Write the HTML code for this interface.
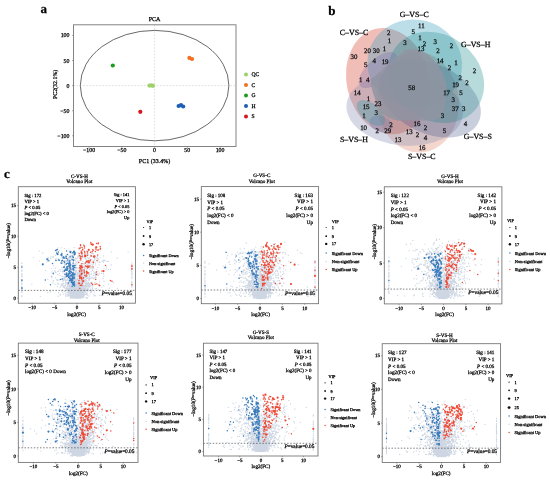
<!DOCTYPE html>
<html><head><meta charset="utf-8"><style>
html,body{margin:0;padding:0;background:#fff;}
svg{display:block;}
text{stroke:#000;stroke-width:0.25;text-rendering:geometricPrecision;}
</style></head><body>
<svg width="550" height="481" viewBox="0 0 550 481" font-family="Liberation Serif">
<defs><filter id="bl" x="0" y="0" width="550" height="481" filterUnits="userSpaceOnUse"><feGaussianBlur stdDeviation="0.3"/></filter></defs>
<rect width="550" height="481" fill="#fff"/>
<g filter="url(#bl)">
<text x="3.9" y="177.7" font-family="Liberation Serif" font-weight="bold" font-size="13">c</text>
<text x="40.6" y="12.6" font-family="Liberation Serif" font-weight="bold" font-size="13">a</text>
<text x="154.5" y="21" font-family="Liberation Serif" font-size="6" text-anchor="middle">PCA</text>
<line x1="73.5" y1="85.6" x2="236" y2="85.6" stroke="#c8c8c8" stroke-width="0.6" stroke-dasharray="1.6 1.6"/>
<line x1="154.6" y1="24.8" x2="154.6" y2="146.5" stroke="#c8c8c8" stroke-width="0.6" stroke-dasharray="1.6 1.6"/>
<ellipse cx="154.6" cy="85.6" rx="74.3" ry="55.2" fill="none" stroke="#444" stroke-width="0.8"/>
<rect x="73.5" y="24.8" width="162.5" height="121.7" fill="none" stroke="#777" stroke-width="0.9"/>
<line x1="89.1" y1="146.5" x2="89.1" y2="148.0" stroke="#777" stroke-width="0.6"/>
<text x="89.1" y="152.4" font-family="Liberation Serif" font-size="5.9" text-anchor="middle">−100</text>
<line x1="72.0" y1="135.8" x2="73.5" y2="135.8" stroke="#777" stroke-width="0.6"/>
<text x="69.5" y="137.8" font-family="Liberation Serif" font-size="5.9" text-anchor="end">−100</text>
<line x1="121.8" y1="146.5" x2="121.8" y2="148.0" stroke="#777" stroke-width="0.6"/>
<text x="121.8" y="152.4" font-family="Liberation Serif" font-size="5.9" text-anchor="middle">−50</text>
<line x1="72.0" y1="110.7" x2="73.5" y2="110.7" stroke="#777" stroke-width="0.6"/>
<text x="69.5" y="112.7" font-family="Liberation Serif" font-size="5.9" text-anchor="end">−50</text>
<line x1="154.6" y1="146.5" x2="154.6" y2="148.0" stroke="#777" stroke-width="0.6"/>
<text x="154.6" y="152.4" font-family="Liberation Serif" font-size="5.9" text-anchor="middle">0</text>
<line x1="72.0" y1="85.6" x2="73.5" y2="85.6" stroke="#777" stroke-width="0.6"/>
<text x="69.5" y="87.6" font-family="Liberation Serif" font-size="5.9" text-anchor="end">0</text>
<line x1="187.3" y1="146.5" x2="187.3" y2="148.0" stroke="#777" stroke-width="0.6"/>
<text x="187.3" y="152.4" font-family="Liberation Serif" font-size="5.9" text-anchor="middle">50</text>
<line x1="72.0" y1="60.5" x2="73.5" y2="60.5" stroke="#777" stroke-width="0.6"/>
<text x="69.5" y="62.5" font-family="Liberation Serif" font-size="5.9" text-anchor="end">50</text>
<line x1="220.1" y1="146.5" x2="220.1" y2="148.0" stroke="#777" stroke-width="0.6"/>
<text x="220.1" y="152.4" font-family="Liberation Serif" font-size="5.9" text-anchor="middle">100</text>
<line x1="72.0" y1="35.4" x2="73.5" y2="35.4" stroke="#777" stroke-width="0.6"/>
<text x="69.5" y="37.4" font-family="Liberation Serif" font-size="5.9" text-anchor="end">100</text>
<text x="154.5" text-anchor="middle" y="162.6" font-family="Liberation Serif" font-size="6">PC1 (33.4%)</text>
<text transform="translate(57.2,84.4) rotate(-90)" font-family="Liberation Serif" font-size="5.9" text-anchor="middle">PC2(32.1%)</text>
<circle cx="149.5" cy="85.6" r="2.1" fill="#9fd16a"/>
<circle cx="151.5" cy="85.4" r="2.1" fill="#9fd16a"/>
<circle cx="153" cy="85.8" r="2.1" fill="#9fd16a"/>
<circle cx="189.4" cy="57.9" r="2.1" fill="#f36f21"/>
<circle cx="192" cy="59" r="2.1" fill="#f36f21"/>
<circle cx="112.8" cy="65.5" r="2.1" fill="#1f9a1f"/>
<circle cx="178.6" cy="106" r="2.1" fill="#1e5fb4"/>
<circle cx="181" cy="105.2" r="2.1" fill="#1e5fb4"/>
<circle cx="183.2" cy="106.5" r="2.1" fill="#1e5fb4"/>
<circle cx="140.3" cy="111.8" r="2.1" fill="#d5151f"/>
<circle cx="246" cy="74.4" r="2" fill="#9fd16a"/>
<text x="251.5" y="76.30000000000001" font-family="Liberation Serif" font-size="5.6">QC</text>
<circle cx="246" cy="84.9" r="2" fill="#f36f21"/>
<text x="251.5" y="86.80000000000001" font-family="Liberation Serif" font-size="5.6">C</text>
<circle cx="246" cy="95.4" r="2" fill="#1f9a1f"/>
<text x="251.5" y="97.30000000000001" font-family="Liberation Serif" font-size="5.6">G</text>
<circle cx="246" cy="105.9" r="2" fill="#1e5fb4"/>
<text x="251.5" y="107.80000000000001" font-family="Liberation Serif" font-size="5.6">H</text>
<circle cx="246" cy="116.4" r="2" fill="#d5151f"/>
<text x="251.5" y="118.30000000000001" font-family="Liberation Serif" font-size="5.6">S</text>
<text x="328.2" y="15.4" font-family="Liberation Serif" font-weight="bold" font-size="13">b</text>
<ellipse cx="417.9" cy="102.3" rx="50.3" ry="41.2" transform="rotate(86 417.9 102.3)" fill="rgb(238,145,112)" fill-opacity="0.32"/>
<ellipse cx="387.9" cy="81.1" rx="53.7" ry="41.2" transform="rotate(77 387.9 81.1)" fill="rgb(228,65,52)" fill-opacity="0.32"/>
<ellipse cx="414.7" cy="63.8" rx="47.5" ry="44.2" transform="rotate(10 414.7 63.8)" fill="rgb(58,172,205)" fill-opacity="0.32"/>
<ellipse cx="404.6" cy="109.6" rx="58.3" ry="36.0" transform="rotate(5 404.6 109.6)" fill="rgb(145,152,192)" fill-opacity="0.32"/>
<ellipse cx="429.8" cy="98.4" rx="54.2" ry="34.7" transform="rotate(26 429.8 98.4)" fill="rgb(98,115,165)" fill-opacity="0.32"/>
<ellipse cx="436.2" cy="77.4" rx="50.7" ry="42.6" transform="rotate(37 436.2 77.4)" fill="rgb(50,160,158)" fill-opacity="0.32"/>
<ellipse cx="417.9" cy="102.3" rx="50.3" ry="41.2" transform="rotate(86 417.9 102.3)" fill="#000" fill-opacity="0.025"/>
<ellipse cx="387.9" cy="81.1" rx="53.7" ry="41.2" transform="rotate(77 387.9 81.1)" fill="#000" fill-opacity="0.025"/>
<ellipse cx="414.7" cy="63.8" rx="47.5" ry="44.2" transform="rotate(10 414.7 63.8)" fill="#000" fill-opacity="0.025"/>
<ellipse cx="404.6" cy="109.6" rx="58.3" ry="36.0" transform="rotate(5 404.6 109.6)" fill="#000" fill-opacity="0.025"/>
<ellipse cx="429.8" cy="98.4" rx="54.2" ry="34.7" transform="rotate(26 429.8 98.4)" fill="#000" fill-opacity="0.025"/>
<ellipse cx="436.2" cy="77.4" rx="50.7" ry="42.6" transform="rotate(37 436.2 77.4)" fill="#000" fill-opacity="0.025"/>
<ellipse cx="371" cy="113" rx="17" ry="9" transform="rotate(40 371 113)" fill="rgb(50,160,170)" fill-opacity="0.35"/>
<ellipse cx="381" cy="124" rx="12" ry="8" transform="rotate(20 381 124)" fill="rgb(98,115,165)" fill-opacity="0.3"/>
<ellipse cx="378" cy="70" rx="24" ry="11" transform="rotate(-42 378 70)" fill="rgb(120,110,170)" fill-opacity="0.3"/>
<path d="M405 50 Q418 47 429 55 Q439 64 444 77 Q448 87 446 96 Q445 108 442 115 Q437 121 429 120.5 L397 120.5 Q388 119 382 113 Q374 100 371 85 Q370 80 375 76 Z" fill="rgb(146,149,162)" fill-opacity="0.85"/>
<text x="354" y="34.5" font-family="Liberation Serif" font-size="7.9" text-anchor="middle">C–VS–C</text>
<text x="414.2" y="17" font-family="Liberation Serif" font-size="7.9" text-anchor="middle">G–VS–C</text>
<text x="475.7" y="47" font-family="Liberation Serif" font-size="7.9" text-anchor="middle">G–VS–H</text>
<text x="477.8" y="138.5" font-family="Liberation Serif" font-size="7.9" text-anchor="middle">G–VS–S</text>
<text x="421.8" y="158.5" font-family="Liberation Serif" font-size="7.9" text-anchor="middle">S–VS–C</text>
<text x="354" y="142.3" font-family="Liberation Serif" font-size="7.9" text-anchor="middle">S–VS–H</text>
<text x="411.8" y="89.7" font-family="Liberation Serif" font-size="6.9" text-anchor="middle" fill="#222">58</text>
<text x="421.3" y="27.9" font-family="Liberation Serif" font-size="6.9" text-anchor="middle" fill="#222">11</text>
<text x="413.2" y="33.7" font-family="Liberation Serif" font-size="6.9" text-anchor="middle" fill="#222">5</text>
<text x="420" y="40.2" font-family="Liberation Serif" font-size="6.9" text-anchor="middle" fill="#222">1</text>
<text x="405" y="44.6" font-family="Liberation Serif" font-size="6.9" text-anchor="middle" fill="#222">3</text>
<text x="424.5" y="45.5" font-family="Liberation Serif" font-size="6.9" text-anchor="middle" fill="#222">2</text>
<text x="421" y="50.9" font-family="Liberation Serif" font-size="6.9" text-anchor="middle" fill="#222">13</text>
<text x="435.2" y="44.3" font-family="Liberation Serif" font-size="6.9" text-anchor="middle" fill="#222">3</text>
<text x="438" y="52.5" font-family="Liberation Serif" font-size="6.9" text-anchor="middle" fill="#222">2</text>
<text x="451.6" y="48.4" font-family="Liberation Serif" font-size="6.9" text-anchor="middle" fill="#222">2</text>
<text x="440.1" y="63.1" font-family="Liberation Serif" font-size="6.9" text-anchor="middle" fill="#222">14</text>
<text x="449.6" y="69.7" font-family="Liberation Serif" font-size="6.9" text-anchor="middle" fill="#222">2</text>
<text x="456.1" y="65.1" font-family="Liberation Serif" font-size="6.9" text-anchor="middle" fill="#222">1</text>
<text x="474.5" y="72.9" font-family="Liberation Serif" font-size="6.9" text-anchor="middle" fill="#222">2</text>
<text x="460.2" y="79.5" font-family="Liberation Serif" font-size="6.9" text-anchor="middle" fill="#222">2</text>
<text x="467.1" y="85.4" font-family="Liberation Serif" font-size="6.9" text-anchor="middle" fill="#222">2</text>
<text x="455.6" y="87.1" font-family="Liberation Serif" font-size="6.9" text-anchor="middle" fill="#222">19</text>
<text x="446.6" y="94.6" font-family="Liberation Serif" font-size="6.9" text-anchor="middle" fill="#222">17</text>
<text x="461" y="94.6" font-family="Liberation Serif" font-size="6.9" text-anchor="middle" fill="#222">5</text>
<text x="453.2" y="101.9" font-family="Liberation Serif" font-size="6.9" text-anchor="middle" fill="#222">3</text>
<text x="455.3" y="110.5" font-family="Liberation Serif" font-size="6.9" text-anchor="middle" fill="#222">37</text>
<text x="463.8" y="110.5" font-family="Liberation Serif" font-size="6.9" text-anchor="middle" fill="#222">3</text>
<text x="442.6" y="117.5" font-family="Liberation Serif" font-size="6.9" text-anchor="middle" fill="#222">3</text>
<text x="465.5" y="126.2" font-family="Liberation Serif" font-size="6.9" text-anchor="middle" fill="#222">4</text>
<text x="417" y="126.2" font-family="Liberation Serif" font-size="6.9" text-anchor="middle" fill="#222">16</text>
<text x="425.4" y="129.8" font-family="Liberation Serif" font-size="6.9" text-anchor="middle" fill="#222">2</text>
<text x="444.5" y="133.0" font-family="Liberation Serif" font-size="6.9" text-anchor="middle" fill="#222">5</text>
<text x="409.3" y="133.9" font-family="Liberation Serif" font-size="6.9" text-anchor="middle" fill="#222">13</text>
<text x="417.5" y="137.3" font-family="Liberation Serif" font-size="6.9" text-anchor="middle" fill="#222">2</text>
<text x="425.4" y="140.4" font-family="Liberation Serif" font-size="6.9" text-anchor="middle" fill="#222">4</text>
<text x="422.1" y="150.2" font-family="Liberation Serif" font-size="6.9" text-anchor="middle" fill="#222">16</text>
<text x="357.2" y="95.4" font-family="Liberation Serif" font-size="6.9" text-anchor="middle" fill="#222">14</text>
<text x="368.6" y="101.1" font-family="Liberation Serif" font-size="6.9" text-anchor="middle" fill="#222">1</text>
<text x="377.9" y="106.0" font-family="Liberation Serif" font-size="6.9" text-anchor="middle" fill="#222">23</text>
<text x="366.1" y="109.3" font-family="Liberation Serif" font-size="6.9" text-anchor="middle" fill="#222">15</text>
<text x="376.2" y="115.0" font-family="Liberation Serif" font-size="6.9" text-anchor="middle" fill="#222">3</text>
<text x="364.1" y="117.5" font-family="Liberation Serif" font-size="6.9" text-anchor="middle" fill="#222">1</text>
<text x="363.6" y="129.8" font-family="Liberation Serif" font-size="6.9" text-anchor="middle" fill="#222">10</text>
<text x="377.2" y="132.7" font-family="Liberation Serif" font-size="6.9" text-anchor="middle" fill="#222">2</text>
<text x="387.7" y="133.4" font-family="Liberation Serif" font-size="6.9" text-anchor="middle" fill="#222">29</text>
<text x="391" y="127.3" font-family="Liberation Serif" font-size="6.9" text-anchor="middle" fill="#222">2</text>
<text x="398" y="142.0" font-family="Liberation Serif" font-size="6.9" text-anchor="middle" fill="#222">13</text>
<text x="388.7" y="35.3" font-family="Liberation Serif" font-size="6.9" text-anchor="middle" fill="#222">2</text>
<text x="389.5" y="43.3" font-family="Liberation Serif" font-size="6.9" text-anchor="middle" fill="#222">1</text>
<text x="367.5" y="53.2" font-family="Liberation Serif" font-size="6.9" text-anchor="middle" fill="#222">20</text>
<text x="376.3" y="53.0" font-family="Liberation Serif" font-size="6.9" text-anchor="middle" fill="#222">30</text>
<text x="384.4" y="51.4" font-family="Liberation Serif" font-size="6.9" text-anchor="middle" fill="#222">1</text>
<text x="354" y="58.6" font-family="Liberation Serif" font-size="6.9" text-anchor="middle" fill="#222">30</text>
<text x="365.7" y="66.8" font-family="Liberation Serif" font-size="6.9" text-anchor="middle" fill="#222">5</text>
<text x="374.3" y="63.1" font-family="Liberation Serif" font-size="6.9" text-anchor="middle" fill="#222">4</text>
<text x="385.1" y="64.3" font-family="Liberation Serif" font-size="6.9" text-anchor="middle" fill="#222">19</text>
<text x="360.7" y="81.9" font-family="Liberation Serif" font-size="6.9" text-anchor="middle" fill="#222">1</text>
<text x="367.8" y="81.9" font-family="Liberation Serif" font-size="6.9" text-anchor="middle" fill="#222">4</text>
<text x="79.4" y="177.5" font-size="5.1" text-anchor="middle">C-VS-H</text>
<text x="79.4" y="183.2" font-size="5.1" text-anchor="middle">Volcano Plot</text>
<path d="M77.2 292.1h0M70.1 280.5h0M79.2 272.5h0M78.0 282.4h0M78.1 289.3h0M76.3 296.0h0M81.0 289.7h0M78.0 282.7h0M78.2 289.2h0M92.3 252.0h0M99.3 273.1h0M76.4 292.5h0M89.7 267.2h0M71.1 253.4h0M86.5 287.1h0M65.1 280.1h0M78.1 295.6h0M71.5 290.9h0M67.2 268.7h0M83.8 279.9h0M74.6 279.4h0M77.0 295.2h0M55.1 284.2h0M76.3 262.1h0M67.9 279.7h0M73.6 288.1h0M94.5 260.5h0M61.6 256.9h0M95.6 277.5h0M83.9 277.1h0M71.7 280.1h0M83.8 278.6h0M84.5 274.9h0M77.6 290.8h0M84.5 246.8h0M65.9 288.5h0M78.9 271.0h0M77.2 263.8h0M75.9 292.9h0M78.6 291.3h0M75.5 291.1h0M69.5 286.5h0M74.7 296.1h0M78.4 292.9h0M63.7 279.9h0M71.0 291.7h0M74.0 291.3h0M70.2 289.6h0M80.3 258.6h0M87.9 284.2h0M82.3 286.6h0M79.0 287.0h0M76.6 286.9h0M62.2 255.3h0M95.1 277.1h0M51.5 268.6h0M80.0 284.8h0M88.6 282.9h0M75.3 293.0h0M84.7 286.4h0M86.9 290.1h0M75.9 286.0h0M86.9 270.9h0M73.6 280.9h0M80.1 289.1h0M81.3 263.4h0M83.4 286.0h0M71.7 292.1h0M78.9 294.1h0M63.9 286.0h0M67.8 260.7h0M75.5 293.8h0M77.4 287.9h0M75.2 271.2h0M80.4 292.7h0M77.8 292.7h0M87.7 288.9h0M86.8 284.7h0M84.2 288.6h0M85.8 275.7h0M92.4 286.8h0M68.8 289.7h0M76.0 269.9h0M85.4 287.0h0M81.9 293.8h0M75.6 272.4h0M71.6 287.0h0M89.4 286.2h0M77.0 276.7h0M78.1 288.9h0M89.2 278.0h0M81.2 287.5h0M82.8 280.6h0M90.7 261.5h0M80.4 292.9h0M74.1 286.7h0M89.6 257.7h0M59.6 269.8h0M74.3 282.9h0M67.9 288.6h0M83.2 278.1h0M70.1 284.2h0M73.2 272.8h0M75.8 285.5h0M79.3 292.4h0M70.0 284.0h0M70.9 279.0h0M66.3 270.0h0M72.6 289.0h0M77.6 283.6h0M79.3 288.0h0M77.9 279.8h0M80.3 291.3h0M69.7 269.6h0M76.0 285.0h0M57.9 248.0h0M78.3 290.8h0M92.4 270.4h0M82.8 285.7h0M82.6 295.3h0M73.5 257.1h0M108.1 261.5h0M51.9 271.9h0M87.8 257.9h0M85.2 291.2h0M93.3 275.5h0M77.0 292.6h0M90.5 282.7h0M80.7 274.0h0M73.1 287.7h0M76.8 288.0h0M98.4 259.5h0M78.3 280.7h0M67.1 284.6h0M82.8 292.9h0M87.7 278.3h0M87.8 263.2h0M85.8 277.0h0M76.5 280.2h0M76.8 282.5h0M79.0 287.1h0M63.8 280.6h0M82.9 284.8h0M77.1 275.7h0M92.6 253.5h0M75.6 265.0h0M70.8 287.0h0M70.5 284.4h0M65.9 283.8h0M69.6 280.6h0M69.0 273.2h0M68.7 273.9h0M84.6 250.2h0M67.9 285.7h0M69.8 268.3h0M74.7 252.9h0M62.8 281.6h0M76.0 283.2h0M73.5 280.0h0M65.2 269.8h0M80.4 289.9h0M74.6 294.0h0M61.8 279.3h0M76.3 291.1h0M74.7 267.9h0M85.1 289.2h0M80.2 291.0h0M72.9 289.5h0M103.9 268.4h0M81.4 274.3h0M78.1 282.9h0M69.9 274.1h0M71.2 275.2h0M76.4 292.0h0M77.6 285.3h0M97.8 267.4h0M74.7 293.0h0M77.0 290.5h0M77.5 275.7h0M80.2 268.7h0M85.0 285.9h0M81.8 293.3h0M80.1 280.5h0M85.9 255.2h0M74.9 276.6h0M67.8 275.9h0M71.0 258.7h0M85.9 276.6h0M77.1 284.0h0M73.9 291.8h0M80.2 294.6h0M88.4 251.5h0M78.2 288.0h0M78.3 273.4h0M70.5 270.0h0M67.5 273.8h0M101.5 273.1h0M85.8 276.1h0M73.2 275.3h0M76.5 285.6h0M69.4 290.2h0M85.7 267.8h0M76.5 267.2h0M91.4 291.6h0M82.8 248.4h0M78.9 256.3h0M85.8 285.0h0M79.4 282.5h0M78.2 284.2h0M75.5 279.2h0M76.5 295.6h0M72.5 292.2h0M72.0 257.3h0M83.0 288.8h0M80.6 286.3h0M51.9 276.4h0M95.2 272.4h0M75.2 252.5h0M80.8 278.7h0M73.0 291.4h0M70.1 279.4h0M81.3 295.2h0M73.7 272.5h0M83.1 286.4h0M88.7 280.2h0M89.3 286.4h0M67.2 294.2h0M80.9 255.9h0M62.7 292.1h0M56.6 260.5h0M95.7 264.8h0M72.9 283.9h0M74.2 291.1h0M67.6 283.6h0M73.7 294.9h0M75.8 292.9h0M80.7 273.7h0M79.5 249.3h0M82.1 290.9h0M78.8 249.9h0M66.2 287.7h0M63.0 270.8h0M87.2 266.8h0M76.8 290.1h0M62.5 262.2h0M77.7 276.4h0M76.7 290.4h0M76.4 292.5h0M64.5 277.0h0M74.1 255.4h0M74.5 283.7h0M84.1 280.0h0M84.1 278.1h0M89.0 277.3h0M86.1 283.9h0M69.2 281.7h0M70.2 284.9h0M77.8 282.0h0M81.3 285.5h0M77.3 288.4h0M84.9 276.1h0M76.8 279.7h0M79.3 269.7h0M62.0 267.7h0M80.2 293.4h0M76.3 296.0h0M65.7 281.1h0M87.1 274.9h0M63.6 278.1h0M96.2 277.9h0M76.0 271.1h0M83.9 281.1h0M74.2 247.6h0M74.0 284.4h0M79.6 287.4h0M74.8 284.5h0M66.5 290.1h0M86.2 280.6h0M77.4 278.3h0M69.0 280.8h0M66.9 288.2h0M80.9 288.0h0M80.3 283.6h0M89.6 275.6h0M82.7 278.9h0M82.3 287.8h0M72.0 288.2h0M82.8 286.0h0M74.5 290.7h0M71.9 294.6h0M86.8 269.7h0M63.5 286.7h0M80.3 286.3h0M79.7 293.6h0M73.3 268.7h0M73.1 290.2h0M81.1 287.1h0M81.3 270.5h0M75.4 285.9h0M76.7 286.3h0M76.1 288.7h0M75.7 293.9h0M76.7 293.1h0M78.1 295.7h0M73.2 284.0h0M70.0 270.5h0M85.0 279.6h0M72.7 257.8h0M86.8 250.8h0M67.9 270.6h0M67.8 279.1h0M74.7 278.1h0M79.0 279.9h0M86.9 278.3h0M70.5 288.1h0M77.7 293.0h0M55.5 272.3h0M69.8 267.0h0M76.0 295.8h0M69.4 251.2h0M84.3 286.1h0M89.3 284.6h0M76.0 292.6h0M97.8 258.4h0M81.3 297.1h0M71.7 284.7h0M47.7 261.1h0M85.5 283.7h0M83.3 294.8h0M78.7 292.8h0M73.5 279.9h0M117.2 258.0h0M77.4 288.8h0M86.3 285.4h0M65.5 261.4h0M90.5 285.8h0M74.4 294.7h0M85.2 255.8h0M72.6 269.0h0M76.4 271.0h0M71.9 291.0h0M77.8 268.1h0M71.6 296.2h0M83.9 290.9h0M83.7 293.2h0M73.0 260.4h0M78.9 281.4h0M67.9 290.3h0M93.3 278.4h0M72.4 291.6h0M77.6 294.0h0M69.0 291.5h0M91.1 254.1h0M78.2 273.6h0M94.4 257.7h0M71.1 285.9h0M85.4 261.6h0M75.3 276.3h0M88.8 283.1h0M68.9 268.9h0M77.2 272.3h0M85.5 292.6h0M71.4 284.5h0M73.7 296.8h0M69.0 286.8h0M81.6 286.7h0M72.5 282.3h0M79.2 284.2h0M74.8 290.1h0M81.3 277.3h0M75.4 260.9h0M72.2 291.8h0M72.9 285.7h0M77.5 292.2h0M73.2 290.3h0M75.6 283.0h0M71.7 276.7h0M81.5 274.1h0M69.2 264.8h0M70.7 292.2h0M74.2 294.0h0M83.4 271.8h0M78.7 285.4h0M88.1 285.7h0M78.2 293.5h0M84.0 287.5h0M77.1 275.9h0M73.6 294.6h0M86.2 286.7h0M75.1 293.1h0M80.4 273.6h0M82.6 292.5h0M55.2 268.3h0M84.6 292.1h0M77.3 292.5h0M68.4 281.0h0M70.1 288.2h0M59.0 280.2h0M89.2 283.3h0M82.4 292.2h0M80.4 282.1h0M94.1 278.6h0M87.3 283.2h0M74.9 290.4h0M64.8 279.4h0M83.8 294.4h0M79.0 281.9h0M79.0 295.2h0M81.2 284.1h0M56.0 272.8h0M75.0 283.1h0M82.3 276.1h0M79.5 287.9h0M63.6 283.5h0M90.9 259.6h0M80.0 296.6h0M67.3 286.1h0M72.3 276.5h0M64.5 273.6h0M79.0 291.3h0M78.6 289.7h0M79.5 286.7h0M88.5 254.9h0M64.7 273.8h0M69.0 288.2h0M72.5 274.5h0M76.7 291.0h0M79.6 287.7h0M75.7 288.3h0M92.4 265.7h0M79.2 286.7h0M73.5 282.5h0M78.4 286.7h0M75.0 276.2h0M74.7 292.7h0M75.2 288.2h0M71.3 294.7h0M106.4 267.0h0M87.5 288.6h0M77.4 293.7h0M77.7 295.6h0M84.0 280.7h0M78.5 284.3h0M84.2 270.2h0M80.9 281.3h0M77.6 274.1h0M88.9 268.3h0M82.8 268.8h0M65.6 277.4h0M76.8 270.5h0M72.2 281.4h0M66.1 277.4h0M71.5 275.1h0M82.1 295.1h0M88.3 282.5h0M69.3 274.1h0M68.0 282.7h0M81.7 297.1h0M89.4 265.2h0M77.8 276.1h0M83.5 293.8h0M76.4 292.3h0M75.7 289.2h0M68.3 262.6h0M74.0 276.9h0M86.3 279.2h0M70.7 290.2h0M67.3 273.8h0M90.3 284.2h0M111.2 265.0h0M75.6 297.8h0M85.1 285.0h0M72.0 286.7h0M72.9 278.2h0M80.5 296.8h0M82.3 280.2h0M87.9 264.6h0M76.5 284.9h0M74.4 293.1h0M76.7 294.5h0M76.6 297.0h0M77.5 297.0h0M72.7 290.1h0M75.5 289.2h0M72.0 277.8h0M80.2 296.5h0M78.3 273.2h0M85.6 259.0h0M77.8 291.7h0M78.5 287.6h0M81.0 276.1h0M69.8 292.6h0M76.8 289.6h0M83.4 288.6h0M84.4 285.7h0M65.7 274.7h0M77.4 284.5h0M96.8 275.3h0M81.0 294.1h0M65.4 263.9h0M69.4 282.0h0M80.6 291.1h0M74.9 291.6h0M75.1 293.8h0M82.6 289.1h0M88.7 286.9h0M93.1 278.1h0M71.5 290.5h0M83.5 290.4h0M73.0 260.8h0M97.8 271.5h0M83.5 295.7h0M78.9 274.8h0M82.6 283.9h0M76.7 294.9h0M76.4 293.3h0M80.3 285.1h0M80.7 286.9h0M68.9 282.9h0M71.9 279.8h0M80.7 282.9h0M85.2 292.1h0M81.8 291.2h0M80.0 275.0h0M68.8 273.0h0M92.4 251.9h0M79.1 286.7h0M77.4 285.1h0M73.4 292.1h0M91.8 277.3h0M66.0 275.3h0M72.9 283.5h0M77.4 294.4h0M76.1 290.7h0M76.8 286.8h0M84.4 280.8h0M83.6 287.4h0M79.2 285.5h0M65.3 277.3h0M70.3 286.5h0M62.6 284.1h0M70.5 284.2h0M77.9 252.9h0M86.9 288.8h0M71.2 295.4h0M70.4 277.5h0M71.4 296.7h0M73.5 291.2h0M78.9 294.9h0M65.0 269.9h0M77.2 287.1h0M71.8 291.3h0M42.7 252.9h0M70.9 290.9h0M77.8 297.1h0M74.1 272.3h0M81.4 292.4h0M76.6 290.7h0M66.1 274.6h0M73.9 281.9h0M83.9 291.0h0M74.1 284.7h0M53.6 265.9h0M82.5 282.5h0M80.3 294.8h0M81.6 282.5h0M82.2 282.3h0M78.0 284.4h0M79.0 275.7h0M71.6 294.8h0M67.6 280.0h0M74.6 281.2h0M74.0 291.7h0M73.1 282.1h0M79.5 293.1h0M78.3 284.9h0M76.5 280.8h0M68.3 276.5h0M66.3 280.7h0M79.9 278.7h0M58.1 254.5h0M70.1 267.0h0M66.6 276.0h0M77.8 278.7h0M73.1 289.0h0M70.9 260.9h0M89.1 263.4h0M74.5 285.3h0M82.1 271.9h0M64.3 287.6h0M74.6 284.1h0M72.8 284.4h0M77.8 261.0h0M80.8 274.9h0M55.4 268.1h0M80.3 293.4h0M75.2 291.5h0M52.9 282.7h0M103.3 273.4h0M74.6 289.9h0M83.1 276.4h0M86.4 259.2h0M74.2 286.7h0M79.8 289.1h0M86.1 280.7h0M83.4 277.4h0M82.2 285.3h0M74.4 294.4h0M75.7 279.0h0M67.4 258.7h0M72.0 284.0h0M47.8 279.3h0M69.3 271.4h0M86.4 264.3h0M77.6 285.1h0M81.1 271.3h0M95.6 274.6h0M81.9 283.0h0M73.0 283.5h0M62.7 276.4h0M65.9 282.1h0M75.5 285.7h0M73.7 288.8h0M78.3 287.6h0M62.4 258.8h0M81.9 275.4h0M89.7 278.6h0M72.2 278.3h0M73.9 281.2h0M78.4 276.0h0M89.6 285.0h0M83.5 292.8h0M79.8 293.6h0M74.3 287.0h0M74.6 276.9h0M78.8 275.8h0M72.7 274.4h0M99.6 286.6h0M76.3 281.2h0M84.8 268.5h0M61.9 276.3h0M75.6 263.4h0M69.5 283.5h0M69.7 273.8h0M86.0 294.4h0M71.8 251.7h0M103.0 278.5h0M94.9 282.4h0M68.5 292.4h0M72.5 274.3h0M74.7 281.8h0M108.5 269.6h0M71.4 292.8h0M66.1 269.9h0M66.0 282.3h0M73.9 270.6h0M82.1 294.7h0M79.2 287.1h0M78.5 291.3h0M74.6 285.6h0M85.5 277.5h0M83.0 288.8h0M85.6 288.3h0M78.1 287.7h0M82.4 282.7h0M83.1 295.6h0M84.6 254.6h0M71.4 285.5h0M68.9 289.3h0M87.3 286.5h0M84.5 288.5h0M76.1 292.9h0M107.2 261.4h0M76.2 258.6h0M77.8 284.7h0M61.3 247.8h0M81.9 282.7h0M81.2 276.9h0M64.1 285.4h0M67.3 282.9h0M63.3 283.3h0M68.0 291.9h0M74.0 287.4h0M73.6 288.1h0M85.6 288.3h0M82.6 291.5h0M79.5 260.7h0M75.4 271.8h0M76.9 262.2h0M65.3 257.8h0M79.6 276.5h0M53.5 280.6h0M95.2 257.8h0M85.0 275.0h0M75.1 295.1h0M89.5 274.4h0M76.9 274.0h0M94.1 268.8h0M84.8 286.5h0M77.1 291.7h0M77.8 291.3h0M82.5 277.9h0M64.4 248.4h0M88.7 289.7h0M80.3 268.9h0M89.7 279.8h0M82.3 282.4h0M79.8 279.3h0M87.3 277.8h0M73.8 278.5h0M66.3 288.9h0M68.3 288.3h0M77.9 296.9h0M76.7 293.9h0M79.9 287.1h0M74.2 290.3h0M75.7 274.2h0M75.7 289.4h0M84.6 252.0h0M77.2 278.6h0M76.7 297.1h0M88.7 278.8h0M67.5 290.7h0M82.5 294.9h0M83.9 289.6h0M65.4 275.9h0M66.5 269.8h0M80.3 288.1h0M88.9 290.3h0M74.7 296.1h0M73.6 290.4h0M76.3 293.6h0M77.5 294.8h0M75.3 258.2h0M74.4 295.3h0M78.3 255.4h0M97.4 256.4h0M74.9 286.0h0M81.8 279.8h0M67.9 284.8h0M69.8 293.0h0M72.1 294.0h0M78.6 276.3h0M53.4 274.1h0M73.6 279.8h0M69.5 276.1h0M75.0 291.1h0M63.0 280.7h0M75.2 293.7h0M72.4 285.0h0M82.7 261.3h0M64.5 271.6h0M79.3 277.5h0M76.2 286.9h0M98.8 274.5h0M78.2 289.1h0M76.5 285.8h0M75.0 279.8h0M86.5 284.2h0M77.3 274.4h0M73.7 251.8h0M67.8 279.8h0M88.7 286.1h0M84.1 282.9h0M71.3 279.9h0M76.8 287.6h0M66.9 268.3h0M75.0 285.4h0M81.8 272.1h0M74.7 291.6h0M69.3 290.9h0M75.0 294.9h0M71.4 265.2h0M75.6 293.7h0M65.3 282.6h0M86.2 266.6h0M92.3 288.2h0M85.6 275.9h0M86.7 276.8h0M84.2 290.0h0M85.0 289.2h0M65.1 261.8h0M76.3 284.0h0M75.8 294.0h0M70.2 291.4h0M80.6 283.1h0M78.6 293.8h0M55.4 277.8h0M76.2 296.1h0M67.4 278.5h0M81.9 288.3h0M80.7 288.9h0M87.5 286.8h0M79.8 273.4h0M95.0 262.1h0M69.9 282.6h0M95.4 263.1h0M62.2 269.4h0M70.8 294.9h0M82.7 272.5h0M79.5 265.8h0M76.8 275.8h0M92.9 285.7h0M85.1 257.2h0M83.9 274.8h0M91.8 267.0h0M54.6 270.6h0M88.8 283.6h0M89.0 291.0h0M75.3 280.1h0M68.6 275.3h0M85.3 266.4h0M75.6 273.6h0M86.0 271.1h0M68.6 292.9h0M78.4 295.5h0M77.7 295.2h0M70.5 251.0h0M81.0 276.9h0M72.7 279.8h0M93.8 271.3h0M70.3 296.6h0M77.9 293.2h0M75.4 287.8h0M104.0 260.4h0M87.2 289.5h0M102.1 261.2h0M65.4 285.1h0M75.1 293.3h0M71.6 284.9h0M79.5 289.8h0M82.8 274.7h0M70.6 292.3h0M81.0 287.4h0M79.1 290.2h0M72.3 285.8h0M84.7 291.9h0M83.1 287.9h0M69.4 283.1h0M57.8 271.5h0M79.4 291.3h0M66.3 264.7h0M87.0 291.6h0M73.2 296.5h0M75.0 258.5h0M86.7 294.1h0M80.0 269.9h0M72.7 286.0h0M58.4 259.0h0M71.7 287.9h0M78.7 294.0h0M71.8 281.4h0M85.2 275.8h0M97.8 261.8h0M85.2 274.4h0M85.5 283.7h0M71.5 271.9h0M81.7 295.5h0M83.8 272.7h0M81.5 286.6h0M69.8 286.9h0M73.5 288.3h0M85.2 258.4h0M86.5 271.0h0M91.4 252.9h0M84.3 295.4h0M73.1 279.3h0M79.5 274.6h0M68.0 288.9h0M82.7 279.4h0M80.2 296.4h0M99.1 264.8h0M79.2 274.6h0M70.8 284.3h0M67.3 270.2h0M82.1 286.2h0M73.1 280.8h0M76.5 258.8h0M79.5 272.3h0M87.7 294.1h0M78.6 270.6h0M71.4 290.7h0M77.6 293.6h0M87.7 288.9h0M83.6 266.4h0M72.5 292.6h0M66.9 272.3h0M83.0 269.6h0M74.0 296.1h0M79.4 293.7h0M73.6 279.2h0M72.3 298.0h0M57.2 279.4h0M83.4 285.2h0M71.3 293.2h0M83.8 278.6h0M79.1 293.1h0M82.0 289.5h0M71.3 260.8h0M85.7 277.0h0M74.6 280.6h0M68.3 272.9h0M76.1 292.2h0M67.8 273.3h0M79.3 275.5h0M72.0 290.6h0M69.2 267.5h0M92.7 289.1h0M82.5 284.8h0M81.1 289.9h0M73.8 281.4h0M69.2 285.5h0M80.7 290.7h0M85.8 297.5h0M84.6 263.5h0M103.1 260.1h0M80.7 268.2h0M100.0 262.5h0M66.5 261.1h0M78.9 287.7h0M91.8 277.4h0M70.2 297.3h0M73.1 295.7h0M71.7 293.8h0M74.6 292.2h0M69.3 283.3h0M82.2 286.0h0M73.3 280.5h0M70.3 267.8h0M87.6 298.0h0M71.0 289.7h0M71.7 272.1h0M73.6 296.9h0M69.2 265.3h0M66.5 260.4h0M81.0 285.4h0M75.2 293.8h0M73.4 296.8h0M69.1 291.3h0M82.4 294.6h0M93.1 256.8h0M78.0 290.0h0M66.9 283.6h0M80.0 295.5h0M82.1 268.9h0M100.0 257.7h0M53.4 272.5h0M90.5 255.5h0M81.7 294.2h0M81.5 282.6h0M71.0 279.0h0M74.2 295.9h0M93.8 273.2h0M75.4 289.1h0M73.7 286.1h0M71.9 292.5h0M85.4 255.0h0M73.4 295.9h0M72.5 269.0h0M79.0 280.8h0M87.9 286.4h0M81.7 272.7h0M69.6 257.0h0M72.6 263.6h0M97.5 273.6h0M74.4 295.0h0M75.5 282.8h0M62.4 271.4h0M79.4 296.8h0M80.7 297.6h0M80.8 292.1h0M78.3 293.0h0M95.5 273.9h0M64.8 265.6h0M68.5 268.0h0M51.8 277.4h0M91.0 268.0h0M72.9 293.6h0M74.8 284.6h0M69.9 258.4h0M88.2 288.4h0M86.3 260.9h0M66.7 263.7h0M82.3 289.7h0M65.4 286.1h0M90.6 268.0h0M81.6 271.0h0M91.0 292.2h0M69.5 259.8h0M76.6 298.0h0M81.3 275.9h0M80.4 266.0h0M53.5 257.0h0M84.1 295.1h0M81.1 287.3h0M73.4 271.4h0M78.2 291.8h0M80.4 265.5h0M45.6 270.6h0M73.5 261.3h0M48.1 257.5h0M72.8 294.4h0M79.4 285.0h0M67.3 261.3h0M60.1 295.2h0M60.6 287.0h0M64.0 271.0h0M83.9 270.2h0M67.6 288.8h0M91.6 266.7h0M79.6 289.5h0M71.3 288.7h0M53.3 280.7h0M70.4 298.2h0M80.0 295.1h0M53.0 257.5h0M81.4 276.2h0M80.2 296.3h0M55.4 255.5h0M64.1 278.0h0M80.6 288.0h0M89.6 283.7h0M70.9 258.1h0M85.1 262.7h0M82.0 275.4h0M80.6 272.7h0M84.0 288.0h0M69.9 274.9h0M82.6 293.2h0M66.8 287.3h0M74.6 283.0h0M66.2 272.6h0M72.6 293.2h0M71.5 297.2h0M67.3 290.5h0M69.8 277.9h0M94.6 258.8h0M85.8 256.7h0M69.1 268.7h0M70.3 255.5h0M61.9 283.8h0M67.8 286.7h0M75.2 297.0h0M82.6 291.5h0M75.1 277.9h0M72.9 258.1h0M73.1 273.2h0M80.8 290.4h0M64.5 287.9h0M67.2 284.5h0M90.7 278.4h0M79.9 288.7h0M82.6 272.2h0M70.2 289.4h0M72.9 276.7h0M70.6 292.6h0M61.5 291.2h0M82.5 292.3h0M85.5 289.7h0M71.5 270.3h0M81.5 271.2h0M82.2 256.7h0M79.7 292.7h0M82.6 293.4h0M80.8 286.1h0M86.9 298.0h0M78.6 281.8h0M60.8 271.3h0M82.0 292.4h0M64.5 258.2h0M95.3 256.2h0M67.7 265.8h0M76.5 297.4h0M92.6 269.9h0M69.1 289.1h0M82.6 255.5h0M86.3 283.5h0M85.9 290.3h0M89.2 277.0h0M103.8 274.8h0M91.3 290.0h0M85.7 283.0h0M56.7 279.8h0M75.5 291.1h0M75.0 290.9h0M74.7 283.8h0M73.1 295.0h0M67.5 285.9h0M78.3 289.5h0M81.5 294.5h0M80.6 289.9h0M63.0 272.9h0M67.7 296.1h0M75.6 295.7h0M85.0 286.8h0M95.3 288.9h0M79.9 297.7h0M83.8 257.2h0M82.2 293.9h0M73.0 264.9h0M73.2 295.2h0M67.1 265.7h0M86.7 289.4h0M80.1 277.4h0M79.4 278.8h0M80.8 275.1h0M76.1 295.9h0M85.1 262.3h0M90.0 276.6h0M75.3 293.2h0M77.2 295.2h0M84.1 296.0h0M79.2 278.2h0M69.7 261.1h0M90.4 259.9h0M48.3 259.1h0M69.7 282.6h0M69.8 273.0h0M69.2 275.8h0M80.2 296.5h0M65.3 278.0h0M79.0 280.6h0M82.7 286.6h0M50.3 258.6h0M79.7 298.2h0M69.1 292.6h0M80.3 271.3h0M81.7 281.3h0M88.1 285.3h0M83.2 271.9h0M86.6 282.0h0M85.4 286.0h0M69.8 275.4h0M74.3 285.5h0M73.1 287.3h0M87.6 267.2h0M67.9 258.5h0M60.0 269.7h0M94.7 273.0h0M71.5 296.7h0M70.9 272.7h0M74.0 291.0h0M86.5 255.0h0M64.9 260.3h0M64.7 264.5h0M81.9 284.1h0M57.4 280.5h0M77.0 297.2h0M67.6 267.6h0M104.5 260.3h0M61.8 256.0h0M94.1 275.1h0M88.5 266.4h0M71.3 267.7h0M70.8 274.8h0M81.2 291.7h0M63.3 280.7h0M59.5 273.8h0M76.3 294.3h0M55.6 259.2h0M56.1 258.4h0M73.3 293.9h0M70.5 296.6h0M89.7 278.5h0M75.9 294.9h0M84.4 267.7h0M62.6 285.1h0M72.7 281.7h0M87.7 261.8h0M74.5 281.7h0M66.8 279.8h0M92.3 268.6h0M75.3 281.0h0M72.4 286.6h0M77.9 292.4h0M92.5 264.9h0M65.2 286.3h0M75.9 295.1h0M85.0 266.5h0M64.9 264.0h0M82.8 292.9h0M95.2 288.8h0M52.9 256.3h0M81.0 264.2h0M71.7 289.0h0M88.6 258.4h0M83.2 263.6h0M69.2 295.7h0M70.0 276.0h0M80.4 283.9h0M81.1 285.0h0M80.8 257.3h0M82.3 265.8h0M90.2 266.8h0M68.1 261.5h0M79.0 289.1h0M77.9 297.1h0M93.5 264.0h0M72.9 269.0h0M79.1 290.8h0M72.0 292.8h0M69.0 277.6h0M75.6 296.2h0M89.6 261.8h0M65.4 264.7h0M71.7 294.8h0M84.1 282.1h0M89.6 269.7h0M79.1 295.9h0M80.7 279.1h0M80.0 297.8h0M69.0 288.7h0M68.1 295.9h0M76.6 289.0h0M88.1 285.1h0M84.7 265.2h0M104.1 281.3h0M111.2 252.0h0M91.1 274.3h0M82.8 294.1h0M55.4 271.3h0M82.3 281.1h0M58.3 296.3h0M70.2 295.4h0M87.6 276.1h0M74.7 270.3h0M67.9 260.2h0M78.0 256.7h0M95.2 295.6h0M97.0 273.7h0M72.2 291.3h0M63.8 287.3h0M91.9 282.2h0M70.1 287.0h0M99.2 285.1h0M74.1 264.0h0M73.2 257.3h0M65.3 291.2h0M94.5 296.0h0M72.5 279.5h0M58.1 283.6h0M77.7 258.0h0M63.4 294.1h0M39.2 251.1h0M73.8 278.4h0M82.2 276.5h0M58.0 274.5h0M98.3 289.4h0M77.3 272.8h0M79.1 287.4h0M86.0 286.0h0M60.7 262.8h0M60.2 294.1h0M85.1 294.2h0M76.2 264.9h0M68.7 257.6h0M90.9 264.0h0M94.7 259.6h0M39.2 261.1h0M70.7 260.5h0M82.9 273.4h0M92.0 291.0h0M72.7 292.4h0M93.6 253.7h0M64.4 291.4h0M103.5 262.2h0M66.7 288.7h0M91.0 271.3h0M72.7 296.1h0M100.7 290.0h0M98.3 275.7h0M75.9 268.2h0M117.2 288.3h0M81.2 285.7h0M57.3 286.8h0M81.8 281.4h0M103.6 255.9h0M97.4 257.9h0M113.4 282.7h0M72.6 291.8h0M72.7 259.5h0M86.9 256.9h0M63.9 270.2h0M96.2 258.0h0M72.6 283.2h0M73.1 290.4h0M69.0 287.1h0M60.9 284.6h0M88.2 254.3h0M75.0 288.7h0M67.0 270.5h0M59.3 250.3h0M83.7 264.0h0M85.4 281.2h0M62.9 278.9h0M78.1 281.4h0M73.1 273.4h0M96.8 269.7h0M79.9 284.9h0M68.9 267.6h0M102.2 295.3h0M61.6 255.8h0M40.4 296.3h0M63.2 271.4h0M99.9 295.5h0M96.5 288.5h0M67.8 286.7h0M58.4 271.2h0M105.3 260.7h0M91.3 273.2h0M68.2 254.9h0M103.5 285.7h0M68.6 275.6h0M74.5 286.2h0M87.1 261.9h0M84.9 290.8h0M73.0 253.3h0M70.9 268.2h0M109.3 288.2h0M84.3 293.8h0M31.9 284.3h0M95.0 277.7h0M94.4 295.9h0M93.8 294.4h0M95.6 273.1h0M72.9 254.1h0M92.2 277.6h0M92.9 260.3h0M51.3 276.5h0M67.9 268.5h0M99.1 261.8h0M47.8 292.5h0M60.3 287.2h0M70.4 274.0h0M33.4 257.6h0M68.3 269.5h0M82.9 254.6h0M65.7 296.2h0M62.8 263.5h0M74.6 260.1h0M91.0 291.4h0M49.9 291.1h0M90.3 259.5h0M64.8 278.7h0M76.8 267.9h0M85.1 252.1h0M110.6 269.4h0M61.5 285.4h0M53.2 280.7h0M103.9 281.1h0M46.8 262.1h0M69.8 260.6h0M77.5 287.7h0M69.4 269.2h0M74.0 294.2h0M69.2 257.7h0M86.6 290.3h0M76.2 282.3h0M71.6 291.8h0M62.5 289.9h0M57.7 283.3h0M84.0 290.2h0M77.3 294.1h0M90.6 292.9h0M72.6 293.7h0M88.5 274.4h0M92.0 262.7h0M61.8 267.4h0M91.1 285.7h0M107.6 295.3h0M87.8 275.7h0M50.7 291.9h0M81.9 251.2h0M57.5 283.2h0M86.1 286.2h0M86.2 294.2h0M60.1 258.9h0M102.4 293.1h0M89.0 295.9h0M128.1 251.8h0M94.3 292.2h0M80.9 266.9h0M60.1 275.7h0M56.1 260.4h0M108.7 284.1h0M65.7 293.6h0M81.9 274.8h0M75.3 287.4h0M75.0 278.9h0M85.1 258.7h0M72.9 294.9h0M73.4 254.9h0M78.7 295.0h0M90.8 289.4h0M82.8 284.8h0M65.7 294.9h0M111.2 281.0h0M67.1 295.9h0M79.2 290.9h0M80.5 296.2h0M70.3 276.0h0M101.7 273.4h0M73.3 293.5h0M82.8 269.0h0M90.0 287.3h0M85.1 256.2h0M66.2 276.6h0M87.2 295.6h0M78.1 268.3h0M88.6 279.9h0M95.6 276.0h0M87.3 255.5h0M50.9 256.3h0M67.3 289.2h0M106.2 269.2h0M58.4 292.5h0M103.1 261.6h0M67.6 284.2h0M61.6 255.4h0M91.1 291.1h0M51.1 257.9h0M75.0 260.0h0M101.9 287.3h0M99.6 281.9h0M103.8 276.6h0M56.8 251.6h0M67.0 273.8h0M66.7 258.2h0M99.6 290.8h0M83.5 263.4h0M69.5 286.8h0M74.3 295.7h0M80.8 293.5h0M73.7 296.3h0M79.9 296.5h0M74.6 275.7h0M74.4 291.5h0M77.8 285.2h0M77.3 294.0h0M79.2 288.5h0M70.8 289.9h0M77.3 297.7h0M78.4 297.4h0M77.1 294.7h0M80.3 293.2h0M77.5 292.5h0M78.4 290.7h0M70.7 285.5h0M76.5 297.8h0M77.3 294.5h0M77.0 298.1h0M76.2 288.7h0M81.6 290.2h0M75.5 297.5h0M76.1 297.8h0M79.2 296.8h0M80.3 294.5h0M81.0 295.2h0M77.3 297.9h0M72.7 293.8h0M78.6 293.3h0M73.7 294.2h0M79.7 292.4h0M78.4 296.6h0M77.8 298.1h0M70.3 287.3h0M77.0 292.6h0M74.4 291.8h0M81.4 296.9h0M77.3 291.5h0M71.4 296.6h0M77.0 297.4h0M74.7 293.5h0M78.1 293.7h0M73.8 286.9h0M77.8 295.8h0M74.9 296.1h0M71.1 294.8h0M72.5 296.2h0M80.5 294.0h0M79.7 295.7h0M76.7 292.0h0M79.1 297.4h0M81.8 296.5h0M75.0 293.8h0M69.1 289.6h0M80.0 295.2h0M77.3 292.0h0M77.6 290.6h0M78.3 293.5h0M74.1 295.6h0M75.5 296.6h0M79.2 290.9h0M72.6 292.6h0M71.2 290.8h0M76.2 296.1h0M78.3 294.6h0M76.6 297.1h0M78.3 294.0h0M70.3 293.4h0M76.9 293.1h0M74.2 296.0h0M74.6 294.5h0M58.1 284.7h0M77.3 296.9h0M77.2 296.2h0M83.3 294.9h0M80.7 289.1h0M78.0 292.9h0M78.7 296.6h0M75.2 296.4h0M78.3 297.1h0M76.6 297.7h0M78.0 296.5h0M79.2 296.3h0M76.4 294.1h0M76.9 298.1h0M75.3 291.2h0M74.5 297.0h0M78.6 293.7h0M77.4 294.1h0M69.2 292.1h0M84.7 294.6h0M79.2 297.0h0M73.4 297.0h0M83.4 292.2h0M76.1 294.4h0M73.5 295.1h0M72.0 295.7h0M83.9 290.8h0M82.9 292.5h0M77.9 298.0h0M76.7 297.1h0M76.4 294.7h0M74.2 297.8h0M79.2 293.6h0M72.0 296.2h0M70.0 293.5h0M76.1 295.0h0M73.8 298.2h0M77.6 297.9h0M76.3 296.2h0M69.5 289.6h0M75.7 298.1h0M75.3 297.4h0M74.3 295.9h0M83.4 294.8h0M76.0 295.4h0M77.5 293.4h0M76.0 290.8h0M75.2 297.7h0M73.7 297.1h0M63.0 286.7h0M82.4 293.9h0M78.9 293.9h0M76.6 294.7h0M77.6 294.9h0M78.2 296.4h0M76.9 294.7h0M72.3 287.9h0M74.0 289.1h0M78.2 294.3h0M74.6 291.6h0M75.9 298.2h0M76.3 296.1h0M77.8 287.3h0M81.2 293.2h0M68.3 284.5h0M78.2 294.6h0M82.3 292.1h0M80.8 296.4h0M78.4 298.1h0M72.9 295.8h0M78.4 296.2h0M75.6 292.2h0M71.2 295.7h0M79.8 297.5h0M81.3 290.4h0M78.2 295.4h0M76.3 289.8h0M75.8 292.9h0M80.4 297.6h0M79.8 297.7h0M77.7 290.4h0M76.8 294.6h0M81.9 289.0h0M75.0 289.3h0M77.7 290.6h0M85.2 288.7h0M78.6 291.6h0M73.8 293.1h0M80.2 290.3h0M77.6 297.2h0M79.6 296.1h0M74.3 295.9h0M71.8 296.0h0M78.8 295.9h0M76.0 297.0h0M79.4 293.2h0M73.4 293.2h0M73.6 294.3h0M79.3 297.3h0M80.9 297.3h0M68.9 295.0h0M76.3 297.6h0M79.6 295.4h0M66.9 292.3h0M79.0 294.9h0M76.8 296.6h0M77.8 293.0h0M83.7 291.2h0M70.4 289.3h0M75.4 289.0h0M78.1 297.4h0M80.5 296.8h0M74.1 295.3h0M79.9 291.3h0M83.4 295.7h0M74.7 296.1h0M76.7 296.3h0M68.4 294.4h0M74.7 294.6h0M78.6 292.5h0M82.6 289.9h0M77.0 294.3h0M74.5 288.0h0M77.0 288.5h0M79.9 294.4h0M77.5 297.9h0M78.6 296.7h0M74.4 297.0h0M75.1 294.1h0M77.4 293.2h0M83.1 295.6h0M73.4 293.4h0M71.3 294.3h0M81.2 293.3h0M77.1 292.0h0M74.0 289.7h0M79.2 297.4h0M79.7 298.0h0M79.2 296.0h0M78.7 293.8h0M73.5 290.6h0M71.8 295.5h0M74.0 297.1h0M78.6 296.5h0M79.1 294.0h0M78.3 297.2h0M81.7 293.8h0M74.1 295.1h0M78.1 294.1h0M82.9 296.0h0M77.6 292.6h0M73.5 289.3h0M72.6 289.8h0M76.2 294.1h0M70.7 295.0h0M72.1 289.0h0M76.0 291.1h0M74.2 296.3h0M76.7 298.0h0M74.4 296.9h0M75.0 297.7h0M76.7 292.6h0M77.3 292.0h0M73.0 295.6h0M79.4 294.4h0M75.2 297.0h0M83.3 288.1h0M76.3 294.2h0M75.3 297.9h0M82.7 286.7h0M76.0 297.4h0M79.2 290.8h0M71.3 292.0h0M82.3 293.4h0M78.7 297.1h0M73.9 295.0h0M83.6 286.8h0M76.3 296.1h0M75.4 295.7h0M82.2 295.4h0M74.8 290.9h0M90.7 289.2h0M80.7 297.0h0M77.3 292.6h0M78.0 294.5h0M76.7 294.9h0M78.5 297.2h0M75.4 287.5h0M75.1 292.6h0M82.1 286.6h0M75.7 294.7h0M80.0 289.7h0M75.1 292.8h0M76.8 294.7h0M81.8 292.4h0M77.0 296.7h0M75.6 293.9h0M76.5 297.7h0M75.6 297.0h0M74.3 291.5h0M74.4 290.1h0M77.5 296.4h0M74.4 292.7h0M77.9 292.3h0M74.1 295.5h0M74.5 296.0h0M82.0 288.4h0M78.1 295.2h0M80.1 296.0h0M77.6 296.2h0M73.8 296.8h0M73.6 296.0h0M77.4 295.5h0M78.5 287.6h0M72.2 293.3h0M82.2 284.6h0M72.9 294.4h0M72.9 295.5h0M77.6 297.6h0M78.8 295.0h0M73.1 291.8h0M76.7 291.5h0M72.0 294.5h0M75.8 291.8h0M74.3 298.1h0M78.4 297.4h0M79.5 297.9h0M81.2 294.6h0M79.9 297.7h0M76.3 296.2h0M74.0 296.7h0M79.5 294.2h0M71.4 291.7h0M74.0 295.4h0M81.1 287.4h0M64.1 287.1h0M77.0 295.8h0M77.0 298.0h0M75.1 297.3h0M70.3 295.1h0M80.4 294.0h0M78.6 290.5h0M75.1 297.9h0M71.3 295.2h0M79.0 295.2h0M73.3 294.6h0M76.5 291.9h0M77.1 298.2h0M83.5 293.2h0M76.3 293.6h0M75.2 297.7h0M74.5 297.9h0M77.7 298.1h0M74.4 297.7h0M78.0 294.1h0M78.2 295.9h0M71.2 292.8h0M80.4 293.9h0M80.5 298.0h0M77.5 296.1h0M74.9 293.4h0M78.3 286.4h0M76.1 297.1h0M78.6 294.1h0M74.1 296.9h0M77.1 286.6h0M75.1 292.8h0M77.3 296.8h0M78.9 295.1h0M78.1 297.7h0M76.8 297.4h0M75.2 293.1h0M78.6 290.2h0M81.0 297.5h0M70.5 296.3h0M74.7 295.3h0M73.9 296.4h0M74.8 297.2h0M80.1 292.7h0M78.4 296.0h0M78.4 295.6h0M80.5 297.5h0M73.3 297.5h0M75.1 292.5h0M73.7 296.7h0M78.6 295.7h0M70.3 288.5h0M74.7 294.5h0M77.1 290.7h0M76.4 293.3h0M74.6 297.4h0M75.7 294.8h0M75.5 298.1h0M73.4 295.6h0M76.9 298.0h0M79.6 293.9h0M80.1 297.2h0M79.1 282.9h0M77.8 296.1h0M83.2 297.5h0M79.0 291.3h0M76.6 296.9h0M76.0 297.3h0M77.0 297.8h0M71.2 293.5h0M73.1 297.1h0M79.4 297.1h0M80.9 295.7h0M76.3 294.5h0M75.5 292.9h0M76.9 295.7h0M74.5 297.7h0M77.2 294.3h0M79.7 295.4h0M73.8 294.0h0M70.5 290.1h0M72.9 293.7h0M73.5 293.0h0M77.8 298.2h0M78.0 297.8h0M75.7 297.3h0M76.7 293.4h0M75.9 294.1h0M78.9 292.5h0M73.8 287.6h0M72.2 297.5h0M82.1 292.8h0M75.9 294.8h0M75.1 292.0h0M73.4 296.6h0M77.8 294.6h0M75.0 288.5h0M78.9 294.7h0M77.5 295.4h0M73.6 293.4h0M77.5 295.7h0M76.9 297.2h0M79.2 294.6h0M78.6 296.3h0M73.6 296.0h0M77.4 297.7h0M75.8 292.4h0M77.8 297.9h0M75.5 292.1h0M75.6 294.7h0M78.6 296.5h0M85.2 294.4h0M82.5 293.9h0M84.4 285.8h0M71.1 298.1h0M79.0 293.7h0M78.1 291.5h0M82.6 293.0h0M78.8 297.7h0M79.9 296.1h0M76.5 296.4h0M81.2 294.1h0M72.9 294.6h0M73.2 296.4h0M78.0 297.4h0M79.0 297.6h0M79.6 294.2h0M73.6 291.6h0M77.9 293.4h0M69.4 291.8h0M77.6 297.1h0M82.0 288.8h0M70.2 295.3h0M78.4 292.8h0M79.0 294.2h0M77.0 289.9h0M75.8 295.4h0M78.8 297.5h0M79.1 294.8h0M71.1 292.9h0M82.9 295.5h0M79.1 291.9h0M81.3 294.1h0M83.3 297.0h0M72.2 292.1h0M74.0 297.1h0M77.8 287.9h0M74.8 297.0h0M72.1 295.3h0M77.0 295.9h0M74.8 295.6h0M78.7 298.2h0M83.3 291.8h0M78.4 295.4h0M69.7 291.6h0M77.9 294.7h0M76.8 298.0h0M72.7 295.6h0M69.9 293.6h0M81.3 297.9h0M78.2 289.6h0M76.2 297.5h0M77.5 292.8h0M76.2 297.0h0M74.6 294.3h0M78.2 295.3h0M78.6 297.8h0M74.4 292.2h0M82.3 292.2h0M76.6 295.3h0M78.0 292.8h0M77.0 298.0h0M77.4 296.6h0M77.8 295.2h0M82.0 296.6h0M75.7 295.8h0M72.1 292.8h0M81.1 295.2h0M73.9 297.3h0M81.2 292.7h0M81.3 291.6h0M77.6 294.4h0M70.3 292.0h0M87.0 292.9h0M74.6 296.8h0M70.3 295.6h0M75.9 294.2h0M77.5 295.9h0M81.0 296.0h0M78.6 292.3h0M69.7 294.1h0M78.5 298.0h0M76.2 292.6h0M76.2 290.6h0M73.3 290.4h0M77.7 298.0h0M76.2 292.1h0M74.9 287.4h0M75.4 296.2h0M78.4 297.6h0M76.6 295.9h0M69.0 293.0h0M82.5 297.7h0M73.1 294.2h0M80.9 293.1h0M75.7 293.1h0M72.7 294.5h0M76.8 290.7h0M83.4 293.5h0M80.8 292.6h0M76.1 286.9h0M78.7 296.1h0M83.4 296.1h0M71.4 293.3h0M74.7 296.7h0M70.0 288.4h0M84.1 290.0h0M81.2 297.6h0M73.7 295.3h0M77.1 295.7h0M78.1 296.4h0M77.7 295.8h0M80.7 296.4h0M78.1 294.3h0M78.0 293.7h0M79.7 296.2h0M74.9 292.9h0M78.5 296.3h0M78.4 289.5h0M78.7 296.4h0M75.4 296.8h0M78.5 296.3h0M74.8 291.7h0M74.5 291.8h0M73.4 289.0h0M80.4 294.7h0M77.1 293.7h0M75.4 297.6h0M78.9 297.1h0M77.4 297.7h0M87.7 289.4h0M75.5 293.7h0M79.2 287.3h0M21.9 287.3h0M21.9 295.7h0M21.9 281.5h0M21.9 274.8h0M21.9 270.1h0M21.9 282.0h0M21.9 292.4h0M21.9 281.9h0M21.9 267.7h0M21.9 296.3h0M21.9 287.7h0M21.9 296.2h0M21.9 291.7h0M21.9 267.3h0M21.9 273.7h0M21.9 277.1h0M21.9 274.7h0M21.9 279.6h0M21.9 290.3h0M21.9 284.1h0M21.9 275.5h0M21.9 296.4h0M21.9 270.0h0M21.9 270.4h0M21.9 266.7h0M21.9 271.5h0M21.9 286.7h0M21.9 286.6h0M21.9 263.4h0M21.9 280.6h0M21.9 284.5h0M21.9 289.3h0M21.9 266.1h0M21.9 267.0h0M21.9 275.8h0M21.9 263.6h0M21.9 283.6h0M21.9 277.0h0M21.9 291.5h0M21.9 266.7h0M21.9 265.7h0M21.9 262.9h0M21.9 288.2h0M21.9 276.0h0M21.9 263.4h0M131.9 272.0h0M131.9 292.3h0M131.9 284.5h0M131.9 271.1h0M131.9 275.8h0M131.9 287.2h0M131.9 290.5h0M131.9 281.4h0M131.9 274.6h0M131.9 290.2h0M131.9 283.3h0M131.9 294.5h0M131.9 272.6h0M131.9 269.0h0M131.9 290.5h0M131.9 295.2h0M131.9 295.3h0M131.9 266.8h0M131.9 266.0h0M131.9 292.0h0M131.9 262.9h0M131.9 276.1h0M131.9 278.7h0M131.9 285.9h0M131.9 265.3h0M131.9 274.0h0M131.9 269.8h0M131.9 269.0h0M131.9 265.9h0M131.9 283.7h0M131.9 273.2h0M131.9 282.4h0M131.9 295.8h0M131.9 285.7h0M131.9 283.9h0M131.9 286.8h0M131.9 285.7h0M131.9 270.1h0M131.9 277.4h0M131.9 295.1h0M131.9 295.0h0M131.9 268.6h0M131.9 285.3h0M131.9 271.5h0M131.9 281.6h0" stroke="#cdd6e2" stroke-width="1.3" stroke-linecap="round" fill="none"/>
<path d="M63.6 267.3h0M72.6 278.5h0M65.9 269.7h0M75.0 267.6h0M73.0 276.4h0M55.9 260.5h0M62.6 260.4h0M64.2 266.7h0M74.3 284.0h0M53.2 273.4h0M66.4 276.6h0M65.9 256.2h0M70.0 273.6h0M66.0 270.3h0M21.9 287.7h0M74.4 281.8h0M70.0 268.8h0M45.3 279.9h0M71.1 271.7h0M65.9 270.0h0M72.9 276.6h0M73.2 263.1h0M69.7 273.1h0M69.3 261.3h0M66.7 266.9h0M73.7 284.0h0M57.3 249.6h0M74.5 286.0h0M70.2 266.1h0M72.3 283.0h0M74.6 284.6h0M62.2 278.9h0M74.3 274.6h0M71.0 269.2h0M74.5 252.4h0M64.1 258.2h0M68.3 274.4h0M70.2 267.6h0M74.5 254.8h0M69.7 280.4h0M70.6 264.8h0M69.7 278.0h0M73.2 277.7h0M74.6 277.3h0M72.9 285.0h0M52.5 263.4h0M64.1 261.6h0M72.9 267.9h0M21.9 280.1h0M66.0 258.1h0M59.3 260.3h0M70.1 256.8h0M68.6 277.4h0M71.8 276.1h0M72.6 283.0h0M50.5 284.8h0M67.6 268.5h0M73.4 266.8h0M69.3 265.3h0M70.0 280.9h0M69.8 260.8h0M69.7 270.8h0M64.5 262.5h0M72.7 265.9h0M73.1 276.0h0M56.7 253.1h0M61.6 263.3h0M72.1 259.5h0M72.5 266.2h0M68.1 273.8h0M71.6 272.5h0M63.7 257.2h0M65.0 274.4h0M72.9 265.4h0M73.6 260.0h0M72.3 274.2h0M68.6 275.1h0M67.3 263.2h0M66.7 258.4h0M73.2 268.6h0M71.7 279.6h0M64.6 270.3h0M66.4 273.2h0M73.8 283.5h0M70.2 276.0h0M61.6 260.9h0M67.4 254.4h0M71.3 282.2h0M73.0 278.1h0M63.9 267.3h0M21.9 288.6h0M48.8 260.7h0M72.3 280.2h0M73.6 266.2h0M72.9 284.8h0M72.2 280.4h0M74.3 265.4h0M68.4 282.9h0M71.5 275.1h0M64.2 267.4h0M65.1 274.4h0M73.6 285.3h0M69.6 266.9h0M58.4 260.0h0M73.3 278.3h0M70.8 271.5h0M70.7 279.9h0M21.9 280.5h0M73.9 265.8h0M66.7 267.6h0M68.8 276.4h0M73.4 273.1h0M74.7 254.4h0M67.8 260.1h0M64.4 271.3h0M75.1 265.5h0M60.4 279.5h0M73.3 257.4h0M73.4 283.2h0M69.0 277.3h0M70.2 268.6h0M55.6 250.5h0M72.6 280.2h0M62.2 260.6h0M74.5 267.4h0M70.5 275.7h0M66.4 256.2h0M67.6 266.7h0M72.8 252.8h0M72.6 280.2h0M66.6 251.1h0M71.6 281.1h0M72.6 272.9h0M68.7 266.0h0M66.6 274.5h0M56.4 250.0h0M68.9 263.5h0M61.9 253.4h0M61.1 262.9h0M72.1 286.6h0M66.3 263.9h0M58.4 252.0h0M74.1 278.4h0M72.1 255.9h0M21.9 266.9h0M67.4 269.9h0M73.2 256.9h0M73.4 260.6h0" stroke="#3a7bbd" stroke-width="1.5" stroke-linecap="round" fill="none"/>
<path d="M69.8 263.1h0M73.4 269.7h0M73.6 282.7h0M69.6 273.2h0M61.4 254.9h0M70.4 252.1h0M72.5 278.7h0M42.8 264.3h0M71.9 282.3h0M72.7 277.8h0M63.4 257.4h0M74.8 253.7h0M70.2 278.8h0M74.6 274.4h0M67.2 275.9h0M69.3 271.3h0M69.0 263.8h0M73.2 283.6h0M74.0 251.5h0M47.3 259.3h0M74.5 252.7h0M66.0 269.4h0M73.0 274.4h0M57.5 254.1h0" stroke="#3a7bbd" stroke-width="2.2" stroke-linecap="round" fill="none"/>
<path d="M131.9 265.3h0M79.7 275.4h0M96.0 247.2h0M131.9 266.6h0M88.6 272.9h0M82.1 256.3h0M89.9 266.0h0M102.0 271.0h0M81.9 285.3h0M88.2 260.4h0M79.2 253.8h0M100.5 248.2h0M92.5 284.4h0M84.9 253.0h0M98.2 243.7h0M86.8 273.3h0M87.4 255.3h0M96.6 243.6h0M99.8 285.5h0M79.6 276.1h0M98.9 284.9h0M84.4 273.0h0M84.2 271.2h0M81.9 253.9h0M79.9 270.8h0M98.4 250.0h0M95.7 279.5h0M86.5 271.5h0M98.4 243.0h0M92.7 249.8h0M91.6 256.1h0M93.3 250.3h0M95.3 251.4h0M100.2 246.6h0M81.4 285.3h0M81.5 267.2h0M88.3 266.3h0M79.0 280.5h0M87.2 251.6h0M87.4 267.9h0M82.6 267.4h0M92.9 244.8h0M82.1 256.8h0M84.1 269.9h0M83.3 278.1h0M90.5 252.3h0M90.5 259.9h0M80.0 275.6h0M95.1 284.3h0M82.8 250.0h0M79.6 267.7h0M86.1 276.3h0M88.8 267.2h0M93.1 266.9h0M100.2 249.2h0M80.6 245.7h0M82.0 247.4h0M84.5 248.1h0M84.5 251.8h0M91.0 256.1h0M87.4 266.3h0M81.9 270.1h0M81.6 266.0h0M89.8 260.7h0M79.8 288.6h0M80.8 260.1h0M80.6 256.3h0M79.7 271.4h0M80.5 244.7h0M87.6 272.6h0M81.8 253.3h0M96.4 271.9h0M84.8 275.4h0M97.0 260.4h0M94.0 256.9h0M131.9 268.6h0M83.8 245.2h0M83.6 277.9h0M88.1 261.5h0M86.5 266.5h0M92.2 251.4h0M112.0 281.2h0M96.9 284.0h0M84.4 246.2h0M81.4 274.4h0M94.7 256.2h0M87.5 253.1h0M82.6 249.6h0M79.6 255.7h0M96.5 274.5h0M91.7 283.2h0M90.8 242.5h0M79.2 248.2h0M105.5 265.4h0M131.9 284.8h0M110.4 280.5h0M91.0 244.0h0M81.3 251.1h0M86.5 275.0h0M93.4 262.5h0M85.6 266.1h0M82.4 283.2h0M81.7 278.4h0M85.5 262.9h0M78.7 262.5h0M80.3 248.1h0M97.7 255.1h0M97.0 250.1h0M82.0 263.8h0M80.0 265.4h0M81.8 270.9h0M81.7 279.8h0M95.7 249.1h0M80.3 266.6h0M79.9 276.5h0M84.6 272.8h0M93.2 262.1h0M131.9 269.3h0M80.3 285.3h0" stroke="#f04a36" stroke-width="1.5" stroke-linecap="round" fill="none"/>
<path d="M92.0 244.3h0M81.5 252.7h0M96.3 247.3h0M103.5 271.1h0M92.8 244.6h0M85.1 255.5h0M81.1 277.5h0M80.6 258.3h0M88.0 266.7h0M81.7 273.6h0M87.2 272.7h0M88.8 249.8h0M83.2 281.2h0M81.4 266.4h0M89.0 262.3h0M94.1 256.4h0M85.1 256.2h0M79.1 283.3h0M86.9 261.7h0M85.2 256.2h0M80.0 277.9h0M80.6 268.7h0" stroke="#f04a36" stroke-width="2.2" stroke-linecap="round" fill="none"/>
<line x1="18.3" y1="290.4" x2="135.4" y2="290.4" stroke="#333" stroke-width="0.6" stroke-dasharray="1.5 1.6"/>
<text x="131.8" y="295.4" font-size="5.3" text-anchor="end"><tspan font-style="italic">P</tspan>=value=0.05</text>
<rect x="18.3" y="186.7" width="117.1" height="116.5" fill="none" stroke="#707070" stroke-width="0.85"/>
<line x1="32.2" y1="303.2" x2="32.2" y2="304.4" stroke="#555" stroke-width="0.5"/>
<text x="32.2" y="309.4" font-size="5.0" text-anchor="middle">−10</text>
<line x1="54.6" y1="303.2" x2="54.6" y2="304.4" stroke="#555" stroke-width="0.5"/>
<text x="54.6" y="309.4" font-size="5.0" text-anchor="middle">−5</text>
<line x1="76.9" y1="303.2" x2="76.9" y2="304.4" stroke="#555" stroke-width="0.5"/>
<text x="76.9" y="309.4" font-size="5.0" text-anchor="middle">0</text>
<line x1="99.2" y1="303.2" x2="99.2" y2="304.4" stroke="#555" stroke-width="0.5"/>
<text x="99.2" y="309.4" font-size="5.0" text-anchor="middle">5</text>
<line x1="121.6" y1="303.2" x2="121.6" y2="304.4" stroke="#555" stroke-width="0.5"/>
<text x="121.6" y="309.4" font-size="5.0" text-anchor="middle">10</text>
<line x1="17.1" y1="298.2" x2="18.3" y2="298.2" stroke="#555" stroke-width="0.5"/>
<text x="16.0" y="299.9" font-size="5.0" text-anchor="end">0</text>
<line x1="17.1" y1="267.3" x2="18.3" y2="267.3" stroke="#555" stroke-width="0.5"/>
<text x="16.0" y="269.0" font-size="5.0" text-anchor="end">5</text>
<line x1="17.1" y1="236.4" x2="18.3" y2="236.4" stroke="#555" stroke-width="0.5"/>
<text x="16.0" y="238.1" font-size="5.0" text-anchor="end">10</text>
<line x1="17.1" y1="205.5" x2="18.3" y2="205.5" stroke="#555" stroke-width="0.5"/>
<text x="16.0" y="207.2" font-size="5.0" text-anchor="end">15</text>
<text x="76.5" y="315.8" font-size="5.1" text-anchor="middle">log2(FC)</text>
<text transform="translate(10.2,240.8) rotate(-90)" font-size="5.2" text-anchor="middle">−log10(<tspan font-style="italic">P</tspan>=value)</text>
<text x="24.4" y="196.5" font-size="4.7">Sig : 172</text>
<text x="24.4" y="202.6" font-size="4.7">VIP &gt; 1</text>
<text x="24.4" y="208.7" font-size="4.7"><tspan font-style="italic">P</tspan> &lt; 0.05</text>
<text x="24.4" y="214.8" font-size="4.7">log2(FC) &lt; 0</text>
<text x="24.4" y="220.9" font-size="4.7">Down</text>
<text x="129.3" y="195.7" font-size="4.3" text-anchor="end">Sig : 141</text>
<text x="129.3" y="201.6" font-size="4.3" text-anchor="end">VIP &gt; 1</text>
<text x="129.3" y="207.5" font-size="4.3" text-anchor="end"><tspan font-style="italic">P</tspan> &lt; 0.05</text>
<text x="129.3" y="213.4" font-size="4.3" text-anchor="end">log2(FC) &gt; 0</text>
<text x="129.3" y="219.3" font-size="4.3" text-anchor="end">Up</text>
<text x="149.8" y="222.5" font-size="4.2" text-anchor="middle">VIP</text>
<circle cx="143.6" cy="227.5" r="0.6" fill="#111"/>
<text x="149.0" y="229.0" font-size="4.2">1</text>
<circle cx="143.6" cy="236" r="0.9" fill="#111"/>
<text x="149.0" y="237.5" font-size="4.2">9</text>
<circle cx="143.6" cy="244.3" r="1.2" fill="#111"/>
<text x="149.0" y="245.8" font-size="4.2">17</text>
<circle cx="143.6" cy="255.5" r="0.75" fill="#3a7bbd"/>
<text x="149.0" y="257.0" font-size="4.2">Significant Down</text>
<circle cx="143.6" cy="263" r="0.75" fill="#cfd8e3"/>
<text x="149.0" y="264.5" font-size="4.2">Non-significant</text>
<circle cx="143.6" cy="271.1" r="0.75" fill="#f04a36"/>
<text x="149.0" y="272.6" font-size="4.2">Significant Up</text>
<text x="261.8" y="177.3" font-size="5.1" text-anchor="middle">G-VS-C</text>
<text x="261.8" y="182.8" font-size="5.1" text-anchor="middle">Volcano Plot</text>
<path d="M254.1 249.4h0M252.0 273.9h0M250.8 275.3h0M265.6 265.0h0M261.9 281.6h0M260.4 280.8h0M250.5 284.0h0M258.6 285.9h0M257.4 278.8h0M252.3 263.9h0M235.8 260.7h0M291.8 261.8h0M240.8 280.9h0M261.3 279.2h0M266.5 284.9h0M253.5 276.0h0M262.1 265.0h0M271.0 267.2h0M253.0 279.1h0M252.6 286.3h0M257.4 278.7h0M256.1 252.3h0M263.4 270.8h0M269.8 292.9h0M251.8 289.5h0M262.9 295.8h0M271.8 290.7h0M264.7 296.2h0M260.9 296.4h0M257.0 290.4h0M264.3 283.8h0M259.9 295.6h0M267.4 273.3h0M262.3 295.9h0M279.5 260.4h0M246.2 243.0h0M256.0 280.4h0M256.5 293.0h0M254.3 275.1h0M259.5 273.8h0M260.8 296.6h0M261.0 295.7h0M246.5 293.2h0M259.1 288.9h0M252.1 288.3h0M243.7 266.3h0M262.2 282.4h0M260.1 283.0h0M266.8 265.0h0M262.2 288.9h0M255.1 278.3h0M267.8 289.5h0M257.7 282.0h0M258.7 282.6h0M261.7 290.5h0M251.7 278.4h0M270.3 273.6h0M259.6 296.5h0M263.9 293.1h0M255.4 296.7h0M262.7 282.9h0M265.8 294.0h0M271.1 284.3h0M264.4 290.1h0M260.2 283.6h0M255.0 292.4h0M252.7 293.8h0M237.1 270.4h0M250.8 265.0h0M268.0 278.1h0M254.8 286.8h0M260.4 282.3h0M264.6 284.8h0M269.4 271.1h0M255.2 286.8h0M249.1 281.8h0M267.8 292.7h0M257.5 293.2h0M271.5 265.8h0M251.3 266.9h0M257.7 275.7h0M260.9 274.5h0M254.4 290.5h0M261.4 266.2h0M271.1 266.7h0M257.0 262.7h0M263.1 260.9h0M270.7 283.2h0M258.2 297.0h0M236.9 271.0h0M259.4 296.6h0M253.5 293.1h0M269.0 262.9h0M268.7 291.8h0M251.6 282.0h0M257.4 289.7h0M252.0 279.9h0M247.7 279.9h0M258.3 285.6h0M260.0 293.8h0M261.2 290.7h0M248.0 269.2h0M255.6 291.0h0M260.7 297.1h0M242.0 277.5h0M264.8 286.4h0M263.0 280.0h0M257.7 271.3h0M262.8 270.8h0M255.9 272.1h0M263.9 277.9h0M250.9 286.4h0M256.4 281.1h0M272.1 292.7h0M258.7 284.0h0M263.1 281.1h0M274.6 281.7h0M248.6 281.7h0M262.7 293.1h0M270.4 284.2h0M238.6 254.3h0M267.8 285.3h0M259.0 268.0h0M236.4 261.8h0M257.0 287.0h0M253.5 283.5h0M268.6 280.3h0M276.9 285.0h0M249.9 260.9h0M258.7 287.2h0M262.1 291.4h0M259.0 291.7h0M260.0 288.3h0M265.7 288.4h0M247.3 273.6h0M265.3 294.5h0M251.7 278.2h0M275.5 273.6h0M253.3 280.4h0M278.2 274.3h0M278.2 277.5h0M258.9 281.2h0M283.7 278.1h0M270.4 292.1h0M269.2 268.8h0M261.9 292.9h0M258.8 290.7h0M258.4 295.0h0M256.9 288.6h0M258.2 279.2h0M263.1 289.9h0M246.7 268.6h0M261.7 291.8h0M261.8 292.8h0M255.7 294.9h0M273.6 244.0h0M266.8 265.6h0M258.6 292.9h0M253.4 272.5h0M264.7 282.1h0M263.7 283.4h0M249.8 280.4h0M262.9 260.5h0M279.5 267.2h0M260.8 295.9h0M266.4 275.3h0M256.3 272.7h0M255.5 295.1h0M256.8 251.8h0M259.1 290.0h0M270.8 272.0h0M279.6 280.8h0M258.6 289.6h0M253.9 282.8h0M256.4 265.3h0M254.5 266.9h0M253.3 285.6h0M270.8 259.6h0M247.5 257.7h0M262.2 280.4h0M262.3 290.1h0M270.6 275.7h0M262.5 290.8h0M254.1 273.3h0M263.0 286.5h0M257.4 296.9h0M258.2 289.9h0M269.3 264.9h0M260.8 281.7h0M258.3 275.3h0M258.6 291.4h0M262.7 274.9h0M267.9 271.4h0M248.8 291.4h0M265.4 289.8h0M247.9 266.9h0M268.3 288.8h0M262.9 291.8h0M267.5 283.6h0M258.4 280.4h0M249.4 289.4h0M258.2 293.4h0M254.1 266.5h0M259.6 278.8h0M253.5 258.2h0M246.4 280.2h0M253.0 291.7h0M256.3 271.3h0M266.1 293.0h0M266.3 281.9h0M243.9 286.4h0M262.9 284.9h0M252.3 292.9h0M280.5 272.0h0M270.6 285.4h0M260.7 277.4h0M261.2 281.9h0M257.6 295.2h0M262.8 269.3h0M259.0 288.4h0M260.7 274.4h0M262.2 297.5h0M258.3 279.3h0M257.5 278.5h0M265.7 283.2h0M266.4 281.0h0M239.2 278.5h0M273.3 255.8h0M263.5 291.0h0M262.5 296.3h0M249.6 275.9h0M263.2 282.4h0M270.5 289.3h0M256.3 286.6h0M260.3 275.9h0M271.6 284.5h0M250.2 280.9h0M256.4 280.9h0M229.7 261.7h0M259.0 262.6h0M234.2 274.3h0M267.8 273.2h0M263.5 267.5h0M255.4 291.5h0M226.0 271.1h0M260.3 254.4h0M263.5 283.1h0M235.2 269.5h0M256.3 283.3h0M261.5 273.9h0M259.0 290.5h0M263.8 274.2h0M259.7 295.9h0M257.8 285.7h0M255.4 275.6h0M257.4 286.6h0M252.1 276.0h0M261.6 279.1h0M263.9 288.6h0M259.5 288.5h0M251.6 265.2h0M256.5 278.8h0M256.8 283.1h0M262.8 289.9h0M264.9 273.3h0M262.3 293.7h0M251.4 290.0h0M264.1 297.1h0M256.6 286.6h0M261.2 254.9h0M264.4 281.2h0M261.9 280.0h0M263.5 254.5h0M257.0 296.1h0M265.5 289.6h0M268.0 280.8h0M260.5 295.5h0M256.6 289.0h0M246.7 272.0h0M251.8 291.3h0M249.2 293.0h0M259.3 273.4h0M261.1 290.0h0M260.3 271.8h0M275.2 243.4h0M270.8 280.1h0M262.1 294.4h0M258.3 252.2h0M263.4 285.0h0M267.0 276.1h0M271.1 277.6h0M256.1 285.6h0M253.0 290.3h0M265.5 285.2h0M256.9 295.3h0M264.6 287.7h0M269.2 249.7h0M274.4 272.9h0M253.0 277.5h0M259.9 281.2h0M257.3 292.9h0M268.2 276.2h0M257.6 288.0h0M263.2 291.8h0M263.7 290.8h0M264.1 282.3h0M262.6 282.5h0M258.2 298.0h0M263.4 284.0h0M264.2 287.8h0M262.0 288.8h0M253.7 282.7h0M268.7 247.9h0M259.4 275.5h0M261.1 275.6h0M260.5 281.0h0M240.1 248.8h0M261.4 291.2h0M275.0 253.3h0M259.0 278.9h0M261.2 291.0h0M255.3 278.6h0M260.8 268.8h0M257.2 276.3h0M275.5 277.1h0M259.6 257.0h0M259.6 251.5h0M268.8 273.0h0M269.6 285.9h0M256.7 280.7h0M264.5 295.1h0M257.9 269.1h0M257.4 295.1h0M262.7 283.9h0M257.8 291.9h0M267.7 290.7h0M270.3 282.6h0M259.0 296.4h0M288.8 261.3h0M251.5 273.4h0M265.7 289.7h0M254.5 296.0h0M267.2 296.6h0M255.6 292.9h0M252.6 269.5h0M265.1 265.7h0M260.2 295.8h0M264.4 289.4h0M260.3 268.8h0M259.8 271.3h0M261.8 267.9h0M262.5 292.9h0M259.5 290.3h0M265.8 252.5h0M264.6 270.8h0M242.9 286.4h0M253.7 280.4h0M253.3 271.4h0M261.4 277.6h0M267.1 292.0h0M264.0 273.8h0M264.0 284.2h0M256.3 282.0h0M263.8 291.8h0M279.0 280.5h0M260.1 295.2h0M270.3 286.9h0M256.2 289.7h0M254.3 292.7h0M249.9 265.9h0M262.5 277.5h0M234.5 259.9h0M243.8 270.8h0M263.0 275.0h0M264.4 285.7h0M252.9 261.3h0M250.7 290.9h0M272.8 245.7h0M264.4 287.6h0M252.8 274.9h0M253.2 279.9h0M274.0 281.0h0M253.2 264.8h0M232.0 254.2h0M275.6 271.4h0M264.7 278.0h0M260.0 292.4h0M248.8 291.0h0M254.7 287.5h0M269.2 264.3h0M263.3 291.9h0M263.5 251.5h0M263.0 288.2h0M267.7 285.1h0M262.2 282.0h0M257.8 289.6h0M263.6 252.3h0M270.4 278.2h0M254.2 295.5h0M257.6 277.9h0M261.4 293.1h0M257.1 290.7h0M262.4 291.6h0M263.2 285.6h0M252.5 273.5h0M252.0 272.4h0M269.3 288.3h0M258.2 294.8h0M260.8 289.5h0M264.7 259.5h0M250.9 273.9h0M256.0 286.0h0M262.1 288.4h0M248.8 265.2h0M259.6 280.8h0M261.1 246.5h0M247.9 263.5h0M266.2 273.4h0M264.8 287.3h0M259.2 296.6h0M264.7 271.3h0M259.3 292.7h0M262.3 286.7h0M253.9 279.7h0M244.3 259.5h0M255.0 274.9h0M239.4 282.1h0M278.3 278.3h0M258.7 283.5h0M257.1 282.8h0M254.8 296.5h0M258.9 296.1h0M260.3 258.8h0M271.1 284.2h0M261.3 287.8h0M260.1 290.4h0M253.0 275.9h0M239.7 275.0h0M263.0 293.0h0M263.8 287.5h0M267.9 282.5h0M262.4 291.6h0M252.9 253.0h0M249.2 288.7h0M252.7 279.3h0M248.4 287.8h0M268.3 286.8h0M256.1 290.3h0M260.7 285.3h0M265.8 279.2h0M263.1 285.5h0M256.2 286.7h0M261.2 280.2h0M256.5 296.0h0M269.2 277.9h0M251.5 278.4h0M255.1 292.0h0M243.3 258.8h0M278.9 268.6h0M239.2 275.1h0M252.7 277.3h0M249.5 286.4h0M267.5 288.7h0M261.6 264.6h0M260.4 279.9h0M261.4 276.8h0M260.6 283.5h0M246.2 285.9h0M249.3 272.4h0M256.9 290.4h0M262.4 281.2h0M261.0 287.7h0M250.4 267.4h0M269.1 266.7h0M269.2 272.2h0M267.2 284.5h0M257.0 289.4h0M263.5 290.5h0M261.0 279.1h0M258.0 277.2h0M260.3 288.5h0M268.3 282.0h0M282.7 279.3h0M260.0 285.7h0M252.8 292.9h0M257.1 274.6h0M250.0 283.0h0M269.4 280.8h0M283.1 257.4h0M258.2 283.5h0M245.1 273.5h0M248.1 266.4h0M258.2 257.6h0M239.2 277.9h0M262.0 282.6h0M255.8 284.1h0M263.9 296.2h0M269.2 286.7h0M259.3 292.7h0M258.1 295.4h0M260.3 295.3h0M251.3 285.6h0M223.0 265.8h0M254.5 288.6h0M249.5 281.9h0M268.1 278.3h0M249.9 285.0h0M255.3 292.5h0M260.8 272.9h0M276.8 277.7h0M256.3 280.2h0M268.2 281.5h0M278.2 273.2h0M253.9 286.5h0M258.3 296.3h0M261.0 295.1h0M254.9 289.7h0M267.9 285.2h0M261.3 291.7h0M262.5 276.2h0M259.5 297.4h0M262.3 295.8h0M257.3 293.6h0M262.2 261.2h0M261.3 265.2h0M257.1 293.8h0M260.7 286.5h0M263.4 278.7h0M246.9 269.3h0M271.8 278.6h0M254.2 275.1h0M259.0 288.2h0M262.8 282.7h0M256.7 278.6h0M259.8 283.0h0M267.9 286.5h0M255.2 294.2h0M246.4 280.3h0M251.4 270.3h0M257.5 278.2h0M259.8 252.5h0M257.9 281.4h0M254.3 296.6h0M253.3 262.6h0M261.6 278.1h0M252.2 277.8h0M250.5 289.3h0M261.0 288.3h0M245.3 278.3h0M259.9 269.3h0M252.9 288.2h0M267.0 278.9h0M253.5 259.9h0M250.2 281.7h0M258.3 286.8h0M265.0 277.1h0M268.0 286.5h0M259.8 266.2h0M268.9 276.9h0M280.1 268.7h0M269.9 283.1h0M264.7 280.7h0M253.6 277.5h0M247.5 287.7h0M281.3 264.7h0M257.2 289.7h0M256.5 281.1h0M256.4 297.3h0M259.6 270.5h0M251.2 265.0h0M265.8 291.4h0M284.7 242.4h0M256.7 260.1h0M258.8 292.9h0M264.2 263.2h0M260.2 285.7h0M263.8 267.1h0M276.9 275.3h0M268.9 279.5h0M251.5 290.1h0M264.9 277.4h0M243.8 282.0h0M253.3 287.7h0M257.3 270.8h0M254.5 290.1h0M261.7 290.3h0M264.8 268.8h0M251.9 277.1h0M230.0 264.5h0M261.6 294.9h0M252.2 283.4h0M267.1 289.8h0M243.7 282.8h0M271.0 278.6h0M260.5 292.1h0M248.4 284.3h0M262.1 292.6h0M269.4 259.0h0M251.1 274.7h0M260.5 287.8h0M259.9 290.3h0M249.9 288.1h0M264.4 253.2h0M259.0 285.7h0M274.6 282.7h0M255.6 270.5h0M266.0 272.6h0M266.9 284.4h0M251.4 280.8h0M269.8 277.2h0M257.4 295.6h0M244.0 264.9h0M263.5 297.1h0M267.3 266.3h0M258.2 283.1h0M265.9 294.7h0M270.6 288.7h0M259.6 290.3h0M259.1 283.4h0M263.5 289.7h0M261.0 292.9h0M262.0 270.8h0M260.5 284.5h0M259.4 289.9h0M267.4 280.3h0M255.8 290.7h0M277.9 283.7h0M278.8 248.2h0M260.8 274.5h0M254.8 278.2h0M268.1 277.6h0M269.5 291.4h0M266.1 274.6h0M264.2 283.5h0M265.0 284.0h0M257.4 294.0h0M269.2 271.9h0M260.5 269.7h0M245.5 287.7h0M264.3 273.5h0M250.3 265.9h0M262.9 288.0h0M257.3 288.4h0M241.7 282.4h0M246.6 260.8h0M264.7 284.2h0M244.9 270.3h0M283.8 273.4h0M269.7 277.0h0M243.9 277.9h0M261.4 279.8h0M259.6 287.6h0M259.1 295.1h0M263.0 295.0h0M263.8 284.5h0M253.4 291.3h0M254.9 267.3h0M276.8 249.9h0M268.7 290.1h0M265.2 276.5h0M245.4 272.5h0M260.4 290.2h0M262.9 287.7h0M283.5 268.8h0M263.0 272.0h0M239.7 277.6h0M257.3 284.7h0M248.8 257.3h0M265.1 289.7h0M256.7 295.6h0M267.8 290.4h0M254.0 288.4h0M261.7 291.1h0M245.3 277.8h0M260.6 274.2h0M258.9 272.5h0M251.1 275.6h0M241.6 273.3h0M263.2 275.9h0M255.7 283.6h0M257.3 263.4h0M243.4 271.9h0M261.6 259.3h0M267.8 282.1h0M266.8 294.0h0M253.8 283.0h0M250.6 266.7h0M259.2 279.5h0M240.2 275.7h0M263.1 296.8h0M265.1 293.4h0M268.0 290.1h0M260.0 285.9h0M266.6 275.3h0M261.0 266.5h0M263.3 288.2h0M245.2 286.0h0M266.1 275.4h0M248.2 286.2h0M263.2 289.3h0M256.9 286.6h0M260.7 278.5h0M256.8 292.5h0M263.9 277.3h0M256.5 285.6h0M270.2 287.3h0M250.9 265.4h0M260.8 293.0h0M262.3 285.2h0M262.0 285.6h0M259.8 263.5h0M264.8 269.9h0M272.5 257.9h0M254.8 281.0h0M253.9 292.9h0M256.2 294.2h0M251.0 291.4h0M273.2 280.6h0M270.9 282.5h0M265.6 279.9h0M270.9 249.2h0M265.0 289.3h0M261.3 297.2h0M251.1 285.1h0M266.8 283.5h0M258.1 298.2h0M265.2 284.0h0M265.6 278.9h0M256.2 292.5h0M264.5 280.6h0M263.0 293.7h0M243.1 272.3h0M262.3 270.2h0M265.0 286.3h0M255.4 282.6h0M264.3 292.6h0M263.2 292.8h0M250.8 275.7h0M248.4 268.1h0M269.4 285.2h0M264.1 279.9h0M269.5 276.5h0M265.0 296.8h0M262.9 296.3h0M254.1 280.5h0M264.3 262.6h0M261.3 260.1h0M263.7 252.3h0M263.7 292.4h0M245.4 257.7h0M262.3 296.8h0M262.4 283.7h0M246.9 289.3h0M273.4 269.0h0M270.3 293.5h0M274.6 286.9h0M256.2 295.8h0M253.2 275.2h0M246.7 290.1h0M248.6 282.7h0M261.7 289.1h0M248.8 251.5h0M265.1 284.0h0M256.9 279.3h0M264.4 294.0h0M263.0 292.6h0M265.5 277.5h0M242.2 256.5h0M273.9 253.8h0M238.7 269.5h0M255.7 296.9h0M260.6 288.8h0M268.9 276.6h0M260.2 291.1h0M261.4 293.4h0M209.1 263.9h0M267.1 273.1h0M252.2 282.9h0M255.4 272.8h0M268.3 282.6h0M253.7 292.3h0M259.9 295.9h0M260.1 292.1h0M258.9 289.6h0M243.1 252.1h0M258.4 254.1h0M282.7 258.0h0M269.3 289.5h0M257.2 269.2h0M262.2 281.8h0M268.1 277.4h0M263.4 281.6h0M264.7 294.4h0M262.4 266.9h0M265.9 290.7h0M260.6 293.0h0M261.9 281.1h0M263.5 287.3h0M262.2 296.2h0M256.9 287.7h0M258.4 287.2h0M272.6 265.1h0M261.8 293.7h0M256.4 283.5h0M264.9 262.4h0M253.6 289.3h0M249.8 272.7h0M255.5 284.0h0M266.5 284.5h0M259.3 280.4h0M249.9 287.0h0M259.8 289.7h0M265.0 296.3h0M254.0 287.3h0M267.0 292.0h0M266.7 287.8h0M257.9 275.5h0M260.5 279.3h0M258.0 278.3h0M259.7 290.6h0M258.9 280.1h0M271.2 293.0h0M277.4 262.6h0M246.6 279.1h0M270.4 284.0h0M258.2 284.4h0M262.3 297.5h0M257.6 271.9h0M264.3 283.4h0M261.8 291.3h0M254.5 289.1h0M249.2 254.8h0M252.2 277.8h0M275.8 284.0h0M252.8 283.3h0M277.8 246.4h0M256.5 294.6h0M252.9 288.0h0M268.4 278.0h0M252.3 294.3h0M243.9 281.3h0M262.4 293.3h0M256.6 268.5h0M249.7 282.4h0M258.1 298.1h0M253.5 253.6h0M253.0 260.6h0M268.7 288.1h0M277.3 253.5h0M248.0 280.9h0M270.5 287.5h0M266.0 288.5h0M256.5 291.8h0M268.6 285.5h0M251.6 280.3h0M259.2 277.1h0M249.5 284.8h0M265.1 283.4h0M271.5 268.4h0M280.4 252.1h0M260.4 282.8h0M261.4 279.2h0M268.6 284.3h0M269.1 284.9h0M239.9 253.4h0M256.3 291.9h0M255.0 275.7h0M264.6 293.3h0M248.1 280.3h0M260.6 277.0h0M259.7 291.1h0M250.4 290.7h0M249.6 266.7h0M273.6 281.7h0M259.4 280.6h0M225.4 265.1h0M266.2 293.2h0M250.7 286.2h0M269.1 274.1h0M249.6 264.9h0M257.2 288.1h0M258.8 298.0h0M267.7 270.2h0M252.0 281.2h0M269.7 288.4h0M255.7 282.3h0M253.1 295.8h0M253.2 269.3h0M270.5 268.3h0M271.1 253.9h0M253.4 290.6h0M261.1 293.0h0M272.5 257.1h0M255.6 254.4h0M262.1 297.1h0M254.8 268.7h0M262.8 298.0h0M258.2 283.5h0M276.2 252.8h0M265.3 292.9h0M258.0 274.8h0M251.6 286.0h0M243.0 274.5h0M261.4 291.5h0M268.0 298.4h0M266.9 276.4h0M254.2 274.6h0M261.4 297.6h0M249.5 257.3h0M243.1 266.0h0M245.7 282.8h0M263.1 298.4h0M262.0 297.6h0M271.6 283.8h0M257.3 290.3h0M262.0 286.5h0M256.2 295.7h0M263.6 270.5h0M262.7 289.1h0M263.3 294.3h0M255.5 254.5h0M270.9 259.4h0M257.3 289.4h0M256.8 288.8h0M265.3 267.8h0M265.9 294.8h0M245.8 268.1h0M276.9 260.8h0M268.4 281.5h0M276.1 270.0h0M267.8 266.5h0M248.8 260.5h0M253.1 293.9h0M233.7 281.3h0M302.0 253.6h0M256.8 295.4h0M253.9 288.2h0M257.6 288.3h0M277.7 271.5h0M251.1 268.3h0M272.2 257.1h0M250.8 255.0h0M264.6 298.2h0M275.3 253.0h0M266.1 270.2h0M250.7 289.8h0M268.6 284.1h0M266.5 269.7h0M262.6 288.1h0M267.0 289.0h0M258.1 298.3h0M258.3 286.0h0M265.2 276.4h0M262.1 279.7h0M264.1 266.4h0M254.5 255.6h0M256.2 255.3h0M256.9 296.8h0M274.7 287.8h0M271.8 271.1h0M262.4 295.0h0M275.8 266.6h0M257.0 262.7h0M252.8 294.9h0M253.0 278.1h0M274.0 266.8h0M247.0 271.4h0M265.5 280.7h0M286.2 265.8h0M272.0 260.6h0M264.9 295.0h0M245.6 286.0h0M276.0 258.6h0M280.0 262.1h0M255.4 272.8h0M250.1 289.0h0M300.2 252.7h0M255.8 293.8h0M263.4 296.4h0M272.9 286.3h0M262.1 289.1h0M264.7 282.1h0M269.6 258.9h0M255.9 293.0h0M258.5 298.5h0M248.1 284.0h0M248.8 263.6h0M271.3 285.9h0M260.7 290.6h0M256.8 264.0h0M274.4 261.4h0M256.5 261.7h0M258.3 282.1h0M266.4 270.3h0M290.5 269.1h0M277.6 252.7h0M268.9 295.5h0M257.1 267.9h0M264.2 285.3h0M262.2 291.5h0M255.7 270.0h0M278.0 257.8h0M278.2 275.2h0M266.8 254.0h0M264.3 279.7h0M262.8 294.5h0M256.0 288.6h0M264.1 254.6h0M262.8 280.6h0M270.8 268.9h0M255.6 270.4h0M282.6 252.8h0M273.5 274.6h0M268.9 278.0h0M254.3 268.9h0M251.0 254.8h0M263.3 260.1h0M252.9 267.9h0M268.7 287.3h0M259.8 298.3h0M260.4 296.8h0M271.2 276.6h0M247.6 253.8h0M268.7 270.2h0M254.7 275.6h0M285.2 254.2h0M265.9 297.2h0M254.4 253.3h0M274.0 268.2h0M258.4 281.3h0M288.3 255.5h0M268.3 252.7h0M263.5 289.1h0M254.0 255.0h0M255.2 289.6h0M253.3 254.1h0M248.4 258.8h0M265.8 265.2h0M254.8 269.5h0M267.6 290.8h0M257.8 284.2h0M271.4 289.6h0M264.5 293.0h0M258.4 285.9h0M263.9 273.7h0M249.6 270.7h0M243.1 259.4h0M280.4 252.6h0M270.4 296.3h0M257.2 277.2h0M269.2 294.8h0M265.1 296.9h0M247.3 265.1h0M240.5 267.1h0M271.0 253.4h0M250.4 265.0h0M256.2 256.7h0M250.5 252.3h0M265.6 289.9h0M266.0 262.7h0M263.1 280.2h0M269.3 273.0h0M261.3 285.0h0M254.5 286.8h0M242.6 253.5h0M267.9 254.7h0M252.5 279.5h0M257.2 296.8h0M256.4 291.8h0M265.9 277.1h0M244.5 263.3h0M263.3 284.0h0M253.8 295.4h0M264.4 296.0h0M281.7 285.3h0M270.9 267.1h0M258.2 288.2h0M245.3 296.4h0M265.5 290.9h0M265.7 297.2h0M226.7 258.2h0M255.9 256.0h0M260.6 297.7h0M261.2 289.5h0M270.3 258.4h0M256.5 294.3h0M275.8 260.8h0M252.0 273.5h0M239.5 274.6h0M257.0 272.2h0M252.5 287.6h0M273.1 266.5h0M262.7 280.6h0M269.3 283.0h0M248.1 263.4h0M267.6 265.9h0M254.6 267.6h0M266.0 255.6h0M257.0 296.9h0M279.8 260.2h0M257.1 278.0h0M268.8 293.8h0M274.5 256.5h0M265.3 298.5h0M271.9 284.4h0M273.5 278.5h0M277.9 263.5h0M251.4 267.4h0M266.2 267.6h0M255.5 289.7h0M258.2 297.7h0M253.5 293.4h0M243.4 274.7h0M268.8 279.1h0M245.9 274.2h0M258.1 282.6h0M265.9 262.7h0M235.4 272.3h0M264.2 297.9h0M262.2 286.8h0M267.5 266.5h0M255.4 284.5h0M259.5 298.5h0M237.3 252.2h0M260.6 293.8h0M239.8 257.3h0M261.8 296.0h0M267.2 275.3h0M271.0 272.3h0M249.0 276.9h0M265.2 294.7h0M263.5 290.5h0M250.1 264.0h0M258.0 281.4h0M264.9 297.0h0M249.7 282.3h0M253.2 297.9h0M280.8 267.6h0M240.2 252.4h0M261.9 283.5h0M253.9 276.5h0M249.3 268.0h0M274.7 283.6h0M263.9 268.5h0M264.1 268.9h0M262.8 279.5h0M270.3 297.2h0M266.5 271.5h0M256.7 295.8h0M273.0 293.2h0M272.1 259.5h0M256.9 275.0h0M268.7 292.0h0M263.3 296.4h0M272.5 274.9h0M264.3 269.1h0M265.3 285.7h0M266.5 254.6h0M264.1 281.3h0M272.8 259.3h0M248.3 276.5h0M262.8 267.7h0M265.4 290.6h0M283.8 283.0h0M260.3 298.4h0M258.0 289.0h0M272.0 266.9h0M246.9 263.1h0M263.9 290.9h0M254.2 281.8h0M255.0 263.2h0M247.4 258.0h0M266.7 280.8h0M244.3 258.3h0M252.5 292.7h0M270.8 279.6h0M251.9 275.8h0M267.7 277.0h0M269.5 292.0h0M268.1 286.7h0M265.8 292.7h0M261.0 297.4h0M260.4 295.2h0M253.4 284.6h0M254.9 272.6h0M260.0 298.3h0M254.7 267.3h0M245.2 252.8h0M252.5 256.3h0M253.2 280.5h0M252.7 289.1h0M257.0 286.5h0M266.9 258.2h0M264.2 274.4h0M264.0 272.6h0M266.4 279.6h0M268.7 288.1h0M268.4 285.0h0M275.8 255.7h0M235.5 257.5h0M264.2 272.0h0M252.2 279.7h0M246.1 262.2h0M253.0 284.7h0M241.0 253.1h0M268.1 279.5h0M251.3 265.8h0M235.7 254.1h0M250.7 282.9h0M266.6 297.3h0M257.9 278.0h0M249.1 255.5h0M262.7 249.2h0M252.5 256.3h0M257.9 289.3h0M234.2 291.5h0M240.5 261.5h0M306.0 293.6h0M261.8 280.8h0M283.6 290.8h0M268.4 288.5h0M269.1 290.6h0M252.5 263.2h0M280.9 275.8h0M255.4 295.8h0M268.6 247.2h0M266.2 287.2h0M281.8 295.4h0M250.0 296.2h0M241.2 271.3h0M273.4 282.7h0M252.3 250.1h0M254.5 281.7h0M228.5 262.3h0M255.5 289.5h0M268.8 291.1h0M256.3 295.6h0M298.4 264.7h0M255.9 247.1h0M275.7 275.3h0M241.3 295.9h0M236.5 287.6h0M285.5 269.8h0M279.2 258.3h0M254.4 281.0h0M257.7 258.3h0M289.7 296.2h0M249.0 253.8h0M236.9 295.4h0M261.1 248.2h0M257.1 259.6h0M239.6 286.1h0M252.5 294.5h0M271.0 265.1h0M239.1 262.4h0M249.3 283.3h0M241.0 290.9h0M263.1 254.7h0M260.5 291.6h0M247.1 257.7h0M258.9 291.9h0M277.2 280.8h0M268.8 295.4h0M270.8 272.8h0M250.8 255.4h0M251.1 249.6h0M272.0 264.5h0M255.8 266.8h0M271.7 255.0h0M271.3 273.6h0M266.4 280.2h0M262.2 253.6h0M272.7 289.7h0M220.5 292.2h0M263.6 252.9h0M242.9 269.8h0M244.7 296.2h0M297.4 250.2h0M279.5 294.5h0M249.9 292.6h0M278.1 295.9h0M266.2 259.9h0M226.8 288.0h0M257.7 281.7h0M256.7 295.2h0M259.5 273.3h0M271.0 263.1h0M289.7 291.3h0M235.6 293.9h0M253.6 269.3h0M261.6 274.3h0M260.4 284.2h0M253.9 255.5h0M253.6 285.4h0M268.6 290.2h0M228.0 292.8h0M244.2 248.5h0M271.8 283.2h0M273.9 256.3h0M285.4 252.7h0M270.3 285.7h0M250.9 291.1h0M269.6 286.6h0M228.8 274.4h0M264.7 274.8h0M261.0 290.1h0M254.2 248.8h0M266.2 261.5h0M269.2 294.7h0M248.6 294.4h0M276.0 292.3h0M250.8 253.5h0M268.0 261.5h0M253.0 293.4h0M268.5 270.5h0M266.8 282.3h0M240.4 292.8h0M278.8 263.6h0M258.1 296.3h0M246.6 289.5h0M257.7 296.4h0M264.9 266.8h0M307.8 296.4h0M260.3 288.2h0M229.9 292.7h0M245.5 291.6h0M284.4 294.9h0M257.7 264.7h0M272.2 269.1h0M272.3 289.7h0M262.8 294.4h0M256.5 271.2h0M283.1 271.8h0M258.0 270.5h0M248.6 269.8h0M270.6 295.5h0M278.7 288.1h0M257.8 292.5h0M251.5 288.0h0M232.4 286.9h0M250.8 253.0h0M261.3 296.1h0M251.9 264.0h0M230.7 295.9h0M260.3 262.0h0M261.0 271.3h0M267.5 260.4h0M258.3 287.4h0M237.8 290.6h0M224.1 267.8h0M263.2 285.0h0M262.6 294.4h0M260.0 291.6h0M239.4 295.0h0M230.1 270.3h0M266.9 257.6h0M230.8 288.9h0M268.7 247.3h0M236.2 261.4h0M282.7 274.6h0M252.1 283.9h0M268.8 256.9h0M247.1 285.9h0M240.2 288.8h0M258.6 295.2h0M251.1 277.5h0M260.1 294.2h0M260.0 275.8h0M241.0 277.4h0M280.9 276.5h0M273.7 290.2h0M263.7 281.5h0M260.4 258.5h0M262.7 282.3h0M250.4 295.8h0M266.8 291.4h0M267.3 263.1h0M227.5 255.7h0M278.0 287.0h0M251.1 294.5h0M268.6 272.6h0M246.3 292.2h0M257.2 284.6h0M262.2 295.0h0M216.7 270.0h0M266.5 287.7h0M266.0 270.9h0M264.2 296.5h0M272.7 272.7h0M259.8 292.3h0M255.3 254.5h0M234.6 263.7h0M231.0 286.0h0M256.0 295.4h0M267.4 285.4h0M263.5 282.4h0M283.4 252.5h0M243.7 293.4h0M279.5 283.8h0M266.4 272.7h0M277.0 270.6h0M240.7 296.3h0M260.1 257.0h0M254.8 288.7h0M253.8 250.7h0M274.8 289.1h0M263.4 295.3h0M204.3 279.1h0M267.5 290.5h0M263.4 247.4h0M260.3 253.2h0M258.9 278.2h0M282.1 286.6h0M261.1 275.0h0M268.5 288.8h0M259.3 278.9h0M258.7 257.1h0M249.6 286.1h0M307.3 287.0h0M264.5 294.2h0M237.3 287.7h0M244.8 289.9h0M240.7 277.6h0M244.1 270.0h0M261.3 251.4h0M250.4 263.6h0M253.7 288.8h0M259.3 273.9h0M250.6 264.4h0M254.3 296.2h0M270.4 253.8h0M258.5 296.5h0M260.6 296.9h0M263.3 294.5h0M258.8 296.8h0M258.1 298.4h0M262.3 292.1h0M264.4 289.9h0M258.9 296.8h0M264.4 294.7h0M258.7 297.2h0M256.0 295.3h0M255.9 290.0h0M258.5 289.8h0M261.4 297.7h0M260.5 297.6h0M256.4 293.3h0M254.1 293.4h0M261.3 298.5h0M258.3 296.9h0M256.6 290.3h0M259.5 298.3h0M260.7 293.8h0M265.4 295.5h0M263.3 297.2h0M255.9 290.6h0M265.3 295.1h0M264.6 294.9h0M258.0 297.6h0M264.3 292.3h0M259.1 295.3h0M261.7 297.8h0M259.4 298.2h0M261.0 298.1h0M254.3 296.7h0M261.9 292.0h0M261.8 292.8h0M262.0 295.9h0M250.7 291.7h0M259.5 295.9h0M262.6 296.8h0M263.3 297.1h0M249.4 285.9h0M260.2 297.2h0M256.5 296.7h0M260.5 291.8h0M257.4 297.5h0M261.0 297.3h0M258.7 297.6h0M257.3 293.5h0M261.4 297.4h0M263.8 290.6h0M257.6 296.6h0M262.6 295.7h0M248.0 285.0h0M267.4 282.3h0M258.6 295.6h0M261.4 291.5h0M255.4 298.2h0M259.4 297.4h0M257.4 297.6h0M262.2 293.9h0M260.3 297.6h0M261.5 294.2h0M262.6 293.5h0M257.9 293.6h0M256.4 286.2h0M260.2 297.8h0M259.4 295.5h0M255.8 297.0h0M259.6 295.3h0M259.1 293.5h0M260.8 289.9h0M264.4 292.9h0M258.7 296.1h0M259.9 297.0h0M261.3 292.7h0M257.7 286.0h0M258.5 293.6h0M264.8 287.5h0M260.1 296.1h0M263.6 290.9h0M259.8 288.8h0M257.2 293.0h0M262.9 297.3h0M259.8 295.8h0M258.1 291.7h0M261.7 292.6h0M259.8 297.3h0M256.7 297.4h0M267.2 290.8h0M261.0 286.6h0M256.9 295.9h0M264.4 291.8h0M261.7 292.8h0M254.1 293.5h0M264.1 295.7h0M266.8 288.7h0M258.0 295.0h0M259.0 294.0h0M262.5 293.6h0M257.3 295.8h0M256.4 297.8h0M259.9 297.5h0M254.3 292.6h0M256.0 295.8h0M263.1 293.7h0M253.5 295.0h0M259.0 298.4h0M260.0 295.7h0M260.8 295.7h0M258.4 294.5h0M263.2 293.6h0M261.6 294.2h0M263.5 291.1h0M257.2 295.8h0M256.7 289.2h0M261.2 294.1h0M261.2 295.2h0M261.4 291.8h0M265.0 293.4h0M262.5 298.4h0M263.2 294.2h0M262.0 298.0h0M259.5 298.4h0M257.7 295.6h0M271.6 293.7h0M261.1 293.3h0M259.5 292.5h0M260.5 290.5h0M265.5 296.1h0M263.3 286.5h0M272.8 287.7h0M261.8 293.1h0M259.5 296.3h0M252.9 291.8h0M265.3 296.0h0M261.4 296.3h0M268.5 288.7h0M253.3 296.5h0M247.3 285.5h0M261.1 292.9h0M255.8 289.7h0M261.1 297.3h0M261.8 294.3h0M259.9 295.9h0M263.6 296.9h0M258.7 294.5h0M262.0 297.9h0M260.6 294.8h0M260.2 296.5h0M261.9 298.3h0M257.3 297.3h0M257.9 295.6h0M256.6 296.0h0M257.6 297.2h0M261.6 296.4h0M262.0 291.9h0M258.5 298.0h0M268.4 293.0h0M259.0 292.3h0M256.7 292.6h0M266.0 296.5h0M254.1 296.8h0M258.8 297.9h0M255.6 296.1h0M264.1 285.7h0M265.1 292.7h0M257.4 296.5h0M262.6 296.8h0M255.0 295.2h0M261.9 294.1h0M264.6 297.1h0M257.1 287.0h0M271.8 289.9h0M258.4 296.7h0M259.0 296.6h0M257.5 293.5h0M255.5 293.8h0M259.7 297.1h0M260.0 293.0h0M263.1 297.6h0M258.2 294.7h0M251.9 287.7h0M259.6 295.1h0M257.0 290.4h0M260.7 293.3h0M257.5 295.1h0M257.8 298.2h0M262.4 284.5h0M262.9 292.5h0M261.1 298.2h0M265.3 295.6h0M258.7 295.9h0M260.5 297.9h0M261.2 291.2h0M251.2 290.0h0M258.3 291.8h0M259.4 298.3h0M264.7 294.8h0M258.2 291.8h0M261.0 294.8h0M262.2 295.5h0M259.4 295.0h0M262.7 293.1h0M260.7 290.9h0M262.5 297.7h0M263.9 297.9h0M256.8 296.3h0M263.4 298.4h0M251.6 291.0h0M267.0 290.2h0M261.2 298.2h0M259.6 294.2h0M258.4 298.4h0M262.1 296.1h0M269.0 296.1h0M262.5 293.6h0M255.4 291.8h0M257.9 297.2h0M261.2 297.8h0M259.4 296.8h0M261.7 297.7h0M261.5 296.4h0M263.7 289.7h0M262.6 295.5h0M264.1 297.0h0M260.9 292.4h0M260.9 293.5h0M259.8 296.9h0M261.1 297.4h0M261.4 296.3h0M258.5 294.5h0M257.5 290.3h0M256.2 296.4h0M260.8 298.2h0M260.2 297.8h0M260.6 296.8h0M260.0 295.2h0M259.5 297.7h0M261.4 296.4h0M256.6 293.4h0M260.3 294.3h0M244.9 290.3h0M260.7 297.4h0M259.9 292.7h0M256.2 287.6h0M259.9 289.6h0M255.5 294.9h0M261.0 284.5h0M256.0 297.1h0M260.9 294.5h0M262.2 288.9h0M258.3 298.4h0M257.6 298.2h0M259.3 292.5h0M257.7 298.1h0M257.9 294.1h0M258.7 298.5h0M256.4 292.7h0M259.9 293.7h0M258.1 288.1h0M259.6 297.9h0M252.4 288.7h0M260.9 294.7h0M256.3 292.7h0M258.3 294.6h0M258.8 288.5h0M264.2 298.2h0M260.2 291.4h0M267.9 293.1h0M262.2 297.9h0M258.6 296.2h0M260.7 296.3h0M259.3 292.8h0M266.1 295.9h0M261.8 298.0h0M262.5 295.8h0M259.6 295.5h0M258.9 294.4h0M264.7 298.4h0M256.8 289.7h0M257.2 297.0h0M261.2 296.8h0M263.1 298.1h0M262.4 293.7h0M259.1 294.4h0M255.8 296.6h0M259.6 298.3h0M264.2 287.2h0M263.0 297.4h0M256.7 293.7h0M259.7 295.5h0M258.2 297.6h0M258.0 295.6h0M254.5 292.8h0M261.2 298.2h0M256.9 298.5h0M262.1 295.8h0M257.8 293.1h0M253.2 285.4h0M262.3 290.4h0M262.8 289.3h0M262.7 296.9h0M259.2 296.0h0M265.6 294.3h0M263.2 290.4h0M260.1 292.1h0M261.9 298.4h0M259.3 297.1h0M259.9 296.2h0M262.4 287.4h0M255.4 292.9h0M258.1 296.8h0M261.9 296.4h0M263.7 298.3h0M264.5 294.9h0M258.9 292.6h0M257.6 294.1h0M260.3 296.1h0M261.9 297.9h0M255.5 293.9h0M259.5 297.6h0M256.9 292.7h0M264.9 286.3h0M253.9 295.4h0M266.6 297.5h0M259.1 292.2h0M259.3 298.3h0M261.3 292.6h0M258.6 293.9h0M256.4 295.4h0M260.8 297.6h0M261.3 297.4h0M254.3 298.0h0M257.7 291.9h0M255.1 292.4h0M260.9 291.3h0M259.9 297.8h0M260.7 295.8h0M256.5 294.8h0M264.6 291.4h0M265.0 291.3h0M259.2 293.2h0M260.3 293.8h0M260.6 293.0h0M258.1 296.1h0M260.3 297.0h0M263.9 295.8h0M261.2 294.8h0M261.0 297.5h0M256.0 292.6h0M261.2 290.0h0M261.2 297.6h0M258.6 297.2h0M260.7 294.0h0M257.5 296.4h0M263.1 295.2h0M259.9 294.3h0M258.6 297.8h0M264.3 290.4h0M255.5 292.1h0M258.8 296.7h0M258.0 296.6h0M249.3 285.5h0M257.7 290.6h0M257.6 295.5h0M263.1 297.9h0M262.0 297.3h0M261.7 288.6h0M257.2 297.1h0M260.2 298.0h0M260.1 296.4h0M260.9 286.8h0M257.4 293.9h0M260.7 294.5h0M258.9 295.1h0M256.6 294.5h0M254.9 294.4h0M264.0 296.6h0M265.0 298.4h0M255.5 290.4h0M263.3 294.8h0M263.7 292.3h0M258.8 298.2h0M263.1 293.6h0M257.7 295.6h0M258.3 285.4h0M255.8 294.8h0M254.1 292.4h0M254.0 288.9h0M262.6 290.0h0M257.7 298.2h0M261.0 294.6h0M266.6 292.4h0M257.4 296.3h0M269.9 291.5h0M261.6 290.6h0M256.1 294.6h0M257.4 297.3h0M253.3 289.7h0M262.0 292.6h0M269.1 295.0h0M256.6 287.5h0M260.0 293.4h0M257.2 289.3h0M264.5 297.9h0M263.0 294.4h0M257.1 296.0h0M263.8 290.3h0M265.4 295.2h0M259.0 294.3h0M256.3 297.8h0M256.6 293.9h0M266.8 292.6h0M261.8 296.5h0M259.0 293.6h0M269.1 290.8h0M261.1 295.5h0M259.5 295.2h0M258.0 292.8h0M257.6 290.4h0M263.3 298.4h0M262.4 296.9h0M259.2 297.3h0M260.9 294.2h0M260.2 296.7h0M263.6 297.9h0M241.7 288.5h0M263.4 292.1h0M257.6 295.4h0M260.3 296.2h0M254.0 288.1h0M256.8 296.6h0M256.4 295.8h0M257.8 296.3h0M263.8 294.9h0M253.1 287.3h0M258.4 294.1h0M264.0 295.9h0M262.1 295.2h0M260.4 292.6h0M261.1 296.3h0M261.6 296.0h0M257.9 293.0h0M265.2 294.0h0M256.4 288.8h0M256.7 291.7h0M256.7 292.5h0M265.9 288.3h0M256.9 296.8h0M261.5 292.0h0M256.3 297.0h0M263.6 294.7h0M256.3 294.7h0M262.1 292.0h0M262.5 298.0h0M259.5 294.8h0M260.8 294.7h0M258.8 287.8h0M249.4 286.5h0M264.7 293.5h0M257.2 294.6h0M255.4 292.9h0M260.8 297.4h0M262.0 293.6h0M263.7 295.8h0M262.6 293.0h0M254.9 292.9h0M261.4 296.8h0M268.6 297.0h0M266.2 295.5h0M258.6 289.8h0M256.4 294.7h0M263.6 298.1h0M256.9 297.1h0M265.0 289.1h0M258.2 296.5h0M260.3 294.0h0M262.3 290.2h0M263.3 298.0h0M254.6 295.8h0M260.3 289.7h0M257.5 294.5h0M256.8 295.6h0M259.2 293.5h0M258.8 298.1h0M258.1 291.7h0M259.3 291.8h0M260.7 298.2h0M258.6 284.6h0M265.1 296.4h0M260.2 296.2h0M261.4 297.2h0M264.0 290.8h0M261.8 297.4h0M261.1 297.5h0M264.4 296.8h0M257.2 285.7h0M255.9 296.9h0M268.6 287.0h0M260.7 288.9h0M264.9 290.0h0M260.2 297.6h0M259.8 288.4h0M260.9 296.3h0M258.4 294.8h0M259.1 289.1h0M260.1 297.2h0M254.0 295.0h0M259.8 293.5h0M263.5 297.7h0M259.5 298.1h0M253.7 289.9h0M263.7 290.4h0M260.1 291.3h0M258.6 288.5h0M253.9 292.4h0M256.2 291.1h0M259.4 295.9h0M260.3 295.1h0M253.5 292.6h0M256.6 297.9h0M255.1 292.8h0M257.5 292.3h0M263.6 292.8h0M260.9 298.5h0M259.9 297.8h0M259.9 297.9h0M254.7 290.6h0M263.2 298.4h0M257.1 295.7h0M262.1 289.0h0M256.4 292.9h0M256.5 292.8h0M258.8 296.5h0M258.5 296.3h0M261.6 291.4h0M261.2 296.3h0M259.3 296.7h0M257.9 291.9h0M263.1 296.4h0M262.7 291.9h0M261.8 296.7h0M261.0 294.5h0M258.7 295.5h0M258.2 294.6h0M247.0 287.9h0M262.5 295.3h0M259.7 292.4h0M260.2 297.8h0M205.0 271.2h0M205.0 273.5h0M205.0 280.7h0M205.0 263.2h0M205.0 290.2h0M205.0 293.1h0M205.0 287.5h0M205.0 282.2h0M205.0 271.1h0M205.0 297.0h0M205.0 285.7h0M205.0 290.2h0M205.0 281.9h0M205.0 267.7h0M205.0 267.9h0M205.0 294.6h0M205.0 292.9h0M205.0 280.8h0M205.0 284.8h0M205.0 285.2h0M205.0 271.3h0M205.0 261.4h0M205.0 261.8h0M205.0 270.6h0M205.0 273.1h0M205.0 275.6h0M205.0 277.5h0M205.0 267.2h0M205.0 262.1h0M205.0 289.0h0M205.0 285.1h0M205.0 289.8h0M205.0 286.5h0M205.0 291.1h0M205.0 292.9h0M205.0 266.9h0M205.0 263.2h0M205.0 287.7h0M205.0 271.0h0M205.0 283.6h0M205.0 293.4h0M205.0 292.8h0M205.0 274.4h0M205.0 266.5h0M205.0 275.0h0M315.0 288.9h0M315.0 292.8h0M315.0 274.8h0M315.0 296.1h0M315.0 262.4h0M315.0 267.5h0M315.0 289.2h0M315.0 275.1h0M315.0 279.6h0M315.0 269.1h0M315.0 289.2h0M315.0 285.3h0M315.0 270.6h0M315.0 281.7h0M315.0 274.8h0M315.0 275.5h0M315.0 275.4h0M315.0 291.1h0M315.0 260.4h0M315.0 270.6h0M315.0 277.0h0M315.0 287.9h0M315.0 286.6h0M315.0 293.1h0M315.0 290.8h0M315.0 267.0h0M315.0 291.1h0M315.0 287.1h0M315.0 270.6h0M315.0 292.8h0M315.0 279.9h0M315.0 261.1h0M315.0 273.7h0M315.0 285.8h0M315.0 289.9h0M315.0 267.4h0M315.0 263.2h0M315.0 271.9h0M315.0 269.6h0M315.0 294.6h0M315.0 283.3h0M315.0 294.2h0M315.0 292.4h0M315.0 271.4h0M315.0 289.9h0" stroke="#cdd6e2" stroke-width="1.3" stroke-linecap="round" fill="none"/>
<path d="M256.3 271.3h0M253.8 264.4h0M257.2 261.0h0M252.1 273.0h0M256.2 280.1h0M255.4 276.4h0M247.3 253.4h0M255.0 256.6h0M252.8 274.5h0M257.0 277.2h0M258.4 269.1h0M254.1 281.9h0M256.1 260.0h0M248.1 253.4h0M250.5 268.4h0M256.2 280.9h0M252.1 265.9h0M251.5 270.8h0M254.5 268.4h0M248.3 261.1h0M249.3 265.1h0M251.6 256.9h0M254.7 258.4h0M258.1 284.7h0M248.6 260.6h0M238.8 259.9h0M250.5 266.7h0M248.4 258.5h0M249.5 253.4h0M256.4 286.5h0M250.2 266.7h0M255.1 251.8h0M249.7 256.3h0M252.4 265.7h0M247.9 261.2h0M255.6 284.6h0M256.3 255.5h0M249.3 265.5h0M248.9 264.8h0M252.2 265.9h0M253.1 267.1h0M253.5 262.7h0M252.3 270.2h0M258.2 266.4h0M256.6 279.2h0M255.7 256.8h0M205.0 285.8h0M255.1 277.3h0M252.9 266.7h0M254.7 281.8h0M255.8 259.0h0M226.8 283.9h0M248.4 252.5h0M257.9 268.5h0M254.6 259.7h0M256.7 282.2h0M257.5 287.4h0M251.9 252.1h0M226.1 252.2h0M248.2 259.6h0M252.1 251.8h0M256.8 284.5h0M254.3 265.9h0M252.6 267.4h0M249.3 266.2h0M257.9 269.6h0M252.1 271.5h0M256.0 286.7h0M248.6 264.2h0M253.7 274.4h0M239.0 278.2h0M256.0 271.2h0M255.5 255.9h0M253.4 274.0h0M239.3 268.1h0M255.4 278.3h0M254.3 274.0h0M255.8 274.7h0M253.7 274.2h0M258.1 283.4h0M256.8 275.1h0M254.5 284.3h0M256.3 273.1h0M249.0 252.8h0M257.2 282.4h0M254.1 274.5h0M250.8 263.8h0M236.2 256.1h0M250.7 252.4h0M251.4 253.1h0M257.7 286.7h0M248.5 262.0h0M255.3 255.3h0M256.0 260.0h0M257.6 254.9h0M253.3 261.5h0M241.7 271.8h0M258.0 275.3h0" stroke="#3a7bbd" stroke-width="1.5" stroke-linecap="round" fill="none"/>
<path d="M255.8 276.2h0M246.3 258.0h0M250.5 263.1h0M256.0 255.3h0M253.4 273.7h0M256.2 263.8h0M255.7 261.3h0M256.6 267.3h0M249.5 263.4h0M225.2 267.5h0" stroke="#3a7bbd" stroke-width="2.2" stroke-linecap="round" fill="none"/>
<path d="M262.3 270.5h0M266.2 254.9h0M268.6 248.2h0M272.4 262.5h0M266.5 265.3h0M264.4 250.9h0M278.3 247.7h0M262.5 252.5h0M263.4 280.3h0M279.9 247.2h0M267.7 252.2h0M275.9 259.3h0M271.1 272.3h0M266.7 265.4h0M281.9 278.6h0M272.1 261.4h0M266.3 260.6h0M277.3 252.9h0M262.5 254.9h0M269.8 248.9h0M290.6 262.4h0M267.2 277.2h0M262.5 256.9h0M283.7 265.8h0M267.4 278.4h0M315.0 262.1h0M264.3 271.8h0M265.7 278.1h0M266.8 243.2h0M265.8 245.9h0M273.2 255.0h0M272.8 257.2h0M261.9 269.5h0M270.8 252.8h0M267.1 242.6h0M271.8 269.5h0M262.5 276.8h0M267.6 278.0h0M267.8 256.3h0M265.0 262.5h0M266.3 244.6h0M265.8 273.3h0M269.6 262.5h0M263.5 277.0h0M271.0 257.5h0M271.2 267.6h0M262.7 257.5h0M269.6 255.7h0M266.3 246.7h0M262.2 278.9h0M264.1 280.2h0M268.2 267.3h0M263.5 276.7h0M263.0 260.7h0M265.2 283.3h0M273.2 253.5h0M267.8 277.3h0M267.8 279.7h0M272.2 262.4h0M279.9 260.7h0M280.0 283.2h0M273.8 248.1h0M271.8 260.8h0M266.2 256.7h0M262.5 258.0h0M275.8 261.0h0M270.4 261.1h0M262.4 283.6h0M267.2 250.4h0M272.9 267.4h0M276.9 252.2h0M261.6 288.6h0M265.1 266.1h0M273.2 251.0h0M263.5 279.7h0M269.3 264.3h0M263.1 261.9h0M273.8 262.9h0M262.1 275.3h0M274.2 244.5h0M263.7 265.6h0M263.3 262.2h0M265.8 272.0h0M273.8 252.3h0M266.6 269.2h0M270.7 266.1h0M273.1 262.4h0M276.3 256.3h0M315.0 287.2h0M272.7 270.9h0M268.9 247.4h0M270.0 266.0h0M278.1 245.5h0M262.7 285.0h0M267.7 274.1h0M270.3 260.0h0M262.5 285.5h0M275.2 257.5h0M263.6 277.8h0M267.8 246.8h0M275.0 248.6h0M269.3 249.6h0M278.6 249.6h0M267.0 253.5h0M266.0 273.1h0M262.5 277.3h0M267.7 261.7h0M262.1 258.8h0M261.6 264.8h0M267.8 278.9h0M280.7 244.6h0M264.3 253.1h0M271.4 245.8h0M267.3 275.0h0M262.7 285.9h0M267.0 261.8h0M268.8 269.9h0M315.0 270.3h0M264.4 279.6h0M268.2 266.8h0M264.2 284.9h0M270.8 252.2h0M264.9 267.9h0M264.3 283.2h0M275.2 249.3h0M263.3 247.1h0M272.4 249.3h0M263.1 257.9h0M268.4 271.5h0M276.2 249.2h0M264.7 267.4h0M276.2 255.4h0M275.4 283.5h0M268.6 257.5h0M279.0 252.9h0M264.8 263.0h0M264.1 258.3h0M262.2 280.1h0M268.2 264.0h0M270.5 266.9h0M274.0 246.7h0M264.3 276.0h0M264.3 254.9h0M261.8 264.6h0M265.9 244.9h0M263.7 255.0h0" stroke="#f04a36" stroke-width="1.5" stroke-linecap="round" fill="none"/>
<path d="M264.8 264.9h0M294.6 264.7h0M270.2 272.5h0M277.5 246.3h0M315.0 275.8h0M266.4 245.8h0M281.1 243.8h0M271.4 253.8h0M261.6 251.5h0M291.0 284.1h0M274.3 265.0h0M269.3 272.5h0M268.8 273.4h0M268.5 272.2h0M269.2 269.4h0M268.3 264.3h0M263.1 283.9h0" stroke="#f04a36" stroke-width="2.2" stroke-linecap="round" fill="none"/>
<line x1="201.3" y1="290.0" x2="318.6" y2="290.0" stroke="#333" stroke-width="0.6" stroke-dasharray="1.5 1.6"/>
<text x="315.0" y="295.0" font-size="5.3" text-anchor="end"><tspan font-style="italic">P</tspan>=value=0.05</text>
<rect x="201.3" y="186.6" width="117.3" height="117.1" fill="none" stroke="#707070" stroke-width="0.85"/>
<line x1="215.3" y1="303.7" x2="215.3" y2="304.9" stroke="#555" stroke-width="0.5"/>
<text x="215.3" y="310.0" font-size="5.0" text-anchor="middle">−10</text>
<line x1="237.7" y1="303.7" x2="237.7" y2="304.9" stroke="#555" stroke-width="0.5"/>
<text x="237.7" y="310.0" font-size="5.0" text-anchor="middle">−5</text>
<line x1="260.0" y1="303.7" x2="260.0" y2="304.9" stroke="#555" stroke-width="0.5"/>
<text x="260.0" y="310.0" font-size="5.0" text-anchor="middle">0</text>
<line x1="282.4" y1="303.7" x2="282.4" y2="304.9" stroke="#555" stroke-width="0.5"/>
<text x="282.4" y="310.0" font-size="5.0" text-anchor="middle">5</text>
<line x1="304.7" y1="303.7" x2="304.7" y2="304.9" stroke="#555" stroke-width="0.5"/>
<text x="304.7" y="310.0" font-size="5.0" text-anchor="middle">10</text>
<line x1="200.10000000000002" y1="298.5" x2="201.3" y2="298.5" stroke="#555" stroke-width="0.5"/>
<text x="199.0" y="300.2" font-size="5.0" text-anchor="end">0</text>
<line x1="200.10000000000002" y1="265.4" x2="201.3" y2="265.4" stroke="#555" stroke-width="0.5"/>
<text x="199.0" y="267.1" font-size="5.0" text-anchor="end">5</text>
<line x1="200.10000000000002" y1="232.2" x2="201.3" y2="232.2" stroke="#555" stroke-width="0.5"/>
<text x="199.0" y="233.9" font-size="5.0" text-anchor="end">10</text>
<line x1="200.10000000000002" y1="199.1" x2="201.3" y2="199.1" stroke="#555" stroke-width="0.5"/>
<text x="199.0" y="200.8" font-size="5.0" text-anchor="end">15</text>
<text x="260.5" y="315.8" font-size="5.1" text-anchor="middle">log2(FC)</text>
<text transform="translate(192.7,241.8) rotate(-90)" font-size="5.2" text-anchor="middle">−log10(<tspan font-style="italic">P</tspan>=value)</text>
<text x="207.3" y="196.8" font-size="5.0">Sig : 108</text>
<text x="207.3" y="203.5" font-size="5.0">VIP &gt; 1</text>
<text x="207.3" y="210.2" font-size="5.0"><tspan font-style="italic">P</tspan> &lt; 0.05</text>
<text x="207.3" y="216.9" font-size="5.0">log2(FC) &lt; 0</text>
<text x="207.3" y="223.6" font-size="5.0">Down</text>
<text x="313.0" y="196.6" font-size="5.1" text-anchor="end">Sig : 163</text>
<text x="313.0" y="203.4" font-size="5.1" text-anchor="end">VIP &gt; 1</text>
<text x="313.0" y="210.2" font-size="5.1" text-anchor="end"><tspan font-style="italic">P</tspan> &lt; 0.05</text>
<text x="313.0" y="217.0" font-size="5.1" text-anchor="end">log2(FC) &gt; 0</text>
<text x="313.0" y="223.8" font-size="5.1" text-anchor="end">Up</text>
<text x="335.2" y="223.1" font-size="4.4" text-anchor="middle">VIP</text>
<circle cx="326.2" cy="227.5" r="0.6" fill="#111"/>
<text x="331.8" y="229.0" font-size="4.4">1</text>
<circle cx="326.2" cy="236.2" r="0.9" fill="#111"/>
<text x="331.8" y="237.7" font-size="4.4">9</text>
<circle cx="326.2" cy="243.9" r="1.2" fill="#111"/>
<text x="331.8" y="245.4" font-size="4.4">17</text>
<circle cx="326.2" cy="253" r="0.75" fill="#3a7bbd"/>
<text x="331.8" y="254.5" font-size="4.4">Significant Down</text>
<circle cx="326.2" cy="261.8" r="0.75" fill="#cfd8e3"/>
<text x="331.8" y="263.3" font-size="4.4">Non-significant</text>
<circle cx="326.2" cy="269.5" r="0.75" fill="#f04a36"/>
<text x="331.8" y="271.0" font-size="4.4">Significant Up</text>
<text x="450.0" y="177.8" font-size="5.1" text-anchor="middle">G-VS-H</text>
<text x="450.0" y="182.9" font-size="5.1" text-anchor="middle">Volcano Plot</text>
<path d="M437.9 288.0h0M454.4 270.8h0M443.4 296.8h0M453.9 245.7h0M428.7 269.9h0M429.7 276.8h0M442.5 258.7h0M446.7 263.1h0M425.2 263.6h0M452.7 280.4h0M448.9 291.4h0M441.1 270.8h0M436.5 277.6h0M454.5 273.5h0M466.7 266.6h0M415.0 267.5h0M458.7 239.7h0M434.1 263.6h0M442.5 246.8h0M448.6 241.5h0M441.4 293.2h0M445.6 286.1h0M441.7 271.6h0M435.7 277.7h0M442.2 285.6h0M442.8 289.4h0M464.3 271.9h0M447.2 285.4h0M436.6 279.7h0M433.3 274.9h0M444.1 281.0h0M451.7 275.5h0M454.4 281.6h0M445.5 270.4h0M439.2 270.7h0M432.8 264.3h0M443.5 267.1h0M455.0 273.0h0M436.9 283.6h0M450.2 285.9h0M441.0 274.3h0M447.3 289.7h0M438.7 265.1h0M449.3 284.6h0M439.8 288.4h0M441.9 251.6h0M446.4 289.8h0M436.8 291.6h0M437.2 284.3h0M445.3 297.6h0M448.8 280.8h0M439.3 260.3h0M441.0 268.1h0M448.9 288.3h0M444.8 273.2h0M442.6 296.8h0M440.1 290.2h0M435.4 281.7h0M443.3 271.7h0M460.8 279.0h0M430.7 284.1h0M441.4 290.2h0M451.9 270.6h0M445.2 287.0h0M443.7 281.3h0M443.3 294.5h0M453.3 291.8h0M442.2 293.2h0M437.7 285.3h0M455.5 273.3h0M448.7 289.6h0M455.2 263.4h0M439.3 293.5h0M457.4 255.4h0M431.2 252.5h0M447.2 278.1h0M437.8 281.4h0M445.3 276.2h0M435.4 293.8h0M449.4 287.2h0M438.1 291.9h0M418.4 253.9h0M458.0 261.6h0M447.3 293.0h0M448.9 296.1h0M459.5 267.3h0M442.1 257.5h0M437.1 259.9h0M436.1 294.3h0M439.1 287.9h0M443.7 287.6h0M436.2 283.5h0M450.9 284.1h0M450.9 265.8h0M426.5 267.2h0M444.3 292.9h0M446.1 280.5h0M447.8 289.3h0M437.5 285.4h0M428.3 286.0h0M438.3 281.7h0M440.1 278.9h0M439.5 290.2h0M451.6 291.2h0M427.5 278.9h0M448.9 248.8h0M449.0 278.8h0M432.9 261.6h0M444.9 279.4h0M462.6 267.1h0M447.0 289.6h0M464.0 240.2h0M441.1 287.4h0M448.1 293.0h0M434.9 286.2h0M441.1 297.3h0M446.3 280.8h0M455.9 275.7h0M453.8 286.8h0M462.8 256.9h0M436.8 286.0h0M434.1 287.1h0M434.8 276.1h0M444.1 263.2h0M435.1 274.5h0M437.4 290.0h0M449.4 268.7h0M442.0 284.8h0M436.7 272.7h0M437.6 285.5h0M443.8 293.9h0M426.4 260.9h0M444.9 287.1h0M441.7 277.7h0M436.5 257.3h0M452.0 275.9h0M448.0 284.0h0M446.0 292.7h0M447.2 255.9h0M448.3 281.6h0M436.9 250.0h0M441.2 282.3h0M445.7 276.6h0M453.8 252.2h0M425.9 275.3h0M418.6 266.2h0M461.6 272.4h0M443.9 268.2h0M447.6 276.8h0M448.2 295.4h0M417.4 269.4h0M429.2 253.9h0M443.8 294.7h0M447.4 276.0h0M442.3 285.1h0M436.5 240.3h0M454.7 260.9h0M412.9 258.9h0M446.4 293.6h0M456.1 265.0h0M440.6 281.3h0M458.5 258.9h0M442.6 289.9h0M436.7 283.3h0M450.7 272.7h0M443.7 279.8h0M440.7 289.0h0M445.5 290.3h0M442.8 280.3h0M441.2 282.1h0M443.9 295.9h0M447.4 279.1h0M446.1 271.1h0M446.7 262.2h0M454.5 254.6h0M441.5 287.6h0M440.1 250.2h0M448.1 266.5h0M445.9 294.6h0M438.1 252.1h0M446.3 285.7h0M442.7 286.1h0M439.9 292.2h0M461.5 260.9h0M455.5 245.9h0M440.1 281.6h0M442.5 255.9h0M451.6 263.0h0M436.2 264.0h0M444.0 279.5h0M445.5 267.0h0M465.2 269.7h0M450.0 284.7h0M448.0 274.4h0M443.7 293.4h0M445.3 290.9h0M445.0 288.3h0M453.6 281.5h0M437.0 272.2h0M442.8 290.0h0M446.1 296.1h0M452.8 293.3h0M437.2 288.5h0M430.2 258.3h0M440.3 284.3h0M445.9 246.0h0M443.1 276.0h0M440.8 284.3h0M443.2 293.8h0M431.7 269.2h0M448.9 288.8h0M443.4 281.0h0M452.2 288.7h0M436.4 271.7h0M462.9 276.2h0M433.8 256.7h0M444.8 286.2h0M449.0 262.8h0M458.3 277.0h0M446.3 286.7h0M443.5 284.3h0M439.7 292.6h0M451.2 281.8h0M461.1 264.9h0M440.5 283.3h0M453.2 276.7h0M441.8 283.8h0M450.8 286.0h0M440.6 291.6h0M443.0 294.7h0M468.2 257.2h0M441.8 280.9h0M446.6 294.7h0M446.6 287.7h0M451.7 281.5h0M446.8 270.7h0M444.2 287.7h0M427.7 277.5h0M444.5 275.3h0M445.4 269.6h0M449.9 267.9h0M433.8 281.7h0M436.7 290.2h0M416.3 275.6h0M446.2 284.0h0M436.5 285.4h0M452.1 281.8h0M421.8 271.7h0M435.5 274.0h0M444.4 264.1h0M439.6 292.6h0M453.4 269.6h0M441.2 282.9h0M448.6 285.3h0M443.6 286.5h0M456.3 293.5h0M434.3 289.3h0M439.8 245.3h0M448.3 286.5h0M446.5 278.7h0M445.7 275.6h0M456.6 291.1h0M440.0 290.0h0M436.4 289.6h0M426.5 282.9h0M455.9 286.6h0M436.7 291.1h0M451.6 293.6h0M432.4 284.0h0M444.6 284.3h0M426.5 255.5h0M445.9 280.5h0M447.4 272.9h0M440.8 290.3h0M449.4 289.2h0M443.1 296.7h0M436.8 253.7h0M433.0 275.9h0M440.9 291.1h0M451.5 283.2h0M460.5 283.8h0M439.5 239.2h0M443.2 286.3h0M448.1 277.9h0M439.9 284.4h0M464.9 280.1h0M455.0 276.4h0M442.8 280.5h0M448.0 293.9h0M437.5 294.3h0M440.1 282.8h0M448.6 275.5h0M441.8 281.0h0M437.5 285.9h0M434.5 282.3h0M426.7 273.5h0M441.2 288.6h0M442.0 293.4h0M428.5 276.0h0M438.7 247.5h0M452.2 266.5h0M437.9 279.1h0M447.5 286.4h0M435.8 286.8h0M434.4 277.4h0M435.0 280.8h0M443.9 293.3h0M416.8 278.9h0M431.0 284.8h0M437.7 289.2h0M454.3 293.2h0M447.2 276.8h0M434.7 293.3h0M447.2 276.0h0M437.6 276.5h0M454.0 291.5h0M446.4 271.2h0M412.8 240.5h0M439.1 289.1h0M445.6 289.5h0M446.3 288.7h0M442.5 288.9h0M437.7 295.3h0M453.6 282.2h0M442.9 290.0h0M454.5 284.5h0M439.5 288.6h0M439.9 265.0h0M452.5 267.5h0M455.0 282.5h0M440.3 272.7h0M445.3 254.8h0M441.4 278.4h0M469.6 266.2h0M417.2 249.6h0M467.2 278.7h0M441.7 263.3h0M437.3 292.4h0M433.2 276.0h0M447.5 273.6h0M444.1 289.2h0M435.1 285.8h0M464.6 260.0h0M445.0 261.4h0M443.6 278.9h0M458.8 274.7h0M440.3 292.4h0M451.6 290.2h0M441.2 289.4h0M442.7 294.5h0M444.9 289.2h0M447.4 276.1h0M442.5 282.3h0M450.5 280.9h0M445.8 274.2h0M452.7 261.6h0M443.6 292.8h0M437.6 279.9h0M448.8 285.0h0M451.8 286.9h0M443.3 283.3h0M429.1 266.1h0M441.4 275.7h0M444.7 290.3h0M429.2 288.9h0M442.5 243.1h0M432.1 283.3h0M440.5 290.7h0M443.0 261.0h0M438.2 275.7h0M453.2 272.3h0M458.6 255.0h0M438.6 279.9h0M440.3 286.5h0M447.8 277.1h0M442.4 252.4h0M437.4 251.8h0M439.0 288.4h0M445.4 252.7h0M448.4 292.9h0M436.8 274.1h0M440.2 284.5h0M444.6 274.4h0M427.8 268.2h0M442.4 276.9h0M448.4 253.6h0M437.8 292.7h0M438.0 280.7h0M449.8 283.5h0M450.7 278.9h0M449.2 296.9h0M443.8 294.8h0M441.8 285.7h0M447.7 291.5h0M455.1 293.1h0M447.6 289.5h0M445.6 260.3h0M430.6 270.5h0M444.9 267.2h0M443.5 294.0h0M432.4 263.9h0M451.0 272.4h0M443.2 285.7h0M450.7 287.4h0M456.1 269.1h0M441.8 289.2h0M438.5 294.4h0M439.3 287.9h0M440.0 292.8h0M443.6 284.5h0M443.6 295.2h0M431.0 262.5h0M446.2 288.6h0M458.1 269.7h0M439.0 292.6h0M444.8 277.8h0M438.1 289.3h0M427.3 263.7h0M445.7 291.4h0M440.5 272.8h0M449.5 286.1h0M440.5 291.1h0M448.3 285.3h0M442.4 296.4h0M449.1 285.3h0M443.0 293.3h0M447.7 287.8h0M441.8 285.8h0M434.5 275.8h0M448.3 286.0h0M452.8 287.6h0M464.8 275.0h0M448.8 281.1h0M440.7 286.3h0M440.4 289.2h0M450.2 292.5h0M437.8 282.3h0M436.7 287.6h0M450.0 274.0h0M440.0 290.3h0M438.8 292.2h0M441.7 284.7h0M429.8 278.6h0M449.3 278.7h0M438.3 290.3h0M444.8 277.2h0M442.9 283.2h0M444.7 275.7h0M429.8 278.1h0M445.1 289.7h0M447.6 292.2h0M453.6 287.2h0M454.6 275.9h0M431.0 283.0h0M442.7 259.1h0M435.5 293.5h0M445.4 293.1h0M439.5 288.9h0M446.2 295.3h0M440.2 264.5h0M443.0 271.2h0M442.7 289.5h0M449.9 273.3h0M435.4 276.9h0M446.7 291.4h0M431.4 286.5h0M438.6 290.4h0M447.1 276.9h0M444.8 285.3h0M432.2 286.0h0M454.2 272.9h0M442.0 288.7h0M432.1 284.1h0M464.4 269.1h0M433.5 268.3h0M436.3 276.8h0M446.8 255.0h0M440.8 278.6h0M443.1 263.9h0M448.8 274.8h0M436.5 289.3h0M446.0 286.3h0M458.8 250.5h0M443.7 278.5h0M438.3 254.3h0M457.4 273.4h0M437.2 284.4h0M440.7 276.1h0M447.8 290.7h0M437.1 288.0h0M443.7 270.2h0M438.9 286.4h0M436.6 239.2h0M441.4 281.1h0M449.0 294.4h0M419.2 265.1h0M448.7 285.7h0M451.2 292.9h0M444.3 282.4h0M434.0 287.1h0M453.2 281.1h0M435.4 283.9h0M434.6 259.9h0M450.9 271.6h0M448.6 269.2h0M454.1 279.1h0M451.9 290.4h0M406.1 258.5h0M446.0 289.1h0M459.9 274.1h0M452.4 283.9h0M437.4 283.1h0M437.0 280.8h0M442.4 258.7h0M447.2 289.5h0M436.0 288.8h0M435.0 276.8h0M437.0 269.2h0M436.4 274.2h0M428.1 253.9h0M439.7 273.5h0M440.3 276.7h0M435.8 279.2h0M447.9 290.6h0M466.2 258.0h0M446.9 296.9h0M427.5 278.5h0M454.4 270.9h0M446.7 293.6h0M446.7 275.7h0M444.6 273.1h0M424.7 273.8h0M462.0 285.1h0M442.8 288.4h0M443.9 289.2h0M440.1 289.0h0M455.4 281.6h0M448.0 274.8h0M433.5 280.4h0M458.6 277.9h0M441.4 288.0h0M452.5 294.3h0M441.1 271.1h0M445.2 290.2h0M460.3 255.5h0M429.1 275.1h0M441.1 265.2h0M444.1 293.1h0M454.4 279.7h0M440.3 260.8h0M448.1 288.4h0M442.6 291.8h0M447.9 281.9h0M447.4 281.5h0M455.6 293.1h0M446.6 288.0h0M422.1 249.5h0M445.5 286.2h0M442.2 292.4h0M442.7 294.0h0M440.7 295.9h0M411.6 270.4h0M435.6 248.7h0M446.3 290.7h0M440.4 289.1h0M455.0 275.6h0M442.2 290.8h0M436.0 267.4h0M429.9 282.7h0M428.9 276.7h0M427.7 266.5h0M442.3 279.6h0M444.4 264.7h0M443.5 290.2h0M437.3 283.3h0M439.1 280.7h0M439.0 254.3h0M425.3 260.5h0M440.9 293.5h0M439.4 279.6h0M440.7 288.2h0M433.2 290.5h0M442.1 283.0h0M432.5 261.2h0M451.5 286.3h0M448.8 278.9h0M460.5 271.7h0M440.0 292.5h0M430.4 264.9h0M451.3 284.0h0M437.9 270.7h0M458.8 269.2h0M447.5 278.4h0M453.0 287.5h0M442.1 293.4h0M442.7 291.4h0M445.3 290.9h0M444.7 292.1h0M436.2 287.7h0M446.9 281.7h0M447.0 284.5h0M440.5 290.1h0M446.5 285.3h0M437.5 284.7h0M445.8 284.4h0M453.8 291.6h0M432.6 270.9h0M443.5 289.5h0M444.7 287.5h0M450.0 270.8h0M449.4 274.2h0M443.1 284.3h0M468.1 254.0h0M450.5 282.2h0M458.5 254.5h0M445.8 285.8h0M453.6 280.6h0M423.7 264.3h0M427.8 266.1h0M444.5 285.7h0M436.4 292.5h0M442.9 284.5h0M441.3 284.8h0M458.3 285.7h0M445.8 290.0h0M447.4 276.8h0M440.5 276.1h0M450.1 281.6h0M448.4 274.2h0M443.5 280.6h0M444.4 286.5h0M442.2 296.5h0M447.5 293.2h0M450.5 286.8h0M438.7 287.9h0M443.3 268.5h0M446.5 288.5h0M447.7 280.5h0M438.9 287.9h0M443.4 284.2h0M438.3 287.9h0M438.0 279.2h0M443.9 284.4h0M440.1 296.0h0M452.3 280.6h0M448.3 287.4h0M448.3 276.5h0M439.2 293.3h0M452.0 294.6h0M428.8 269.0h0M437.5 287.9h0M447.5 296.2h0M447.3 281.2h0M434.2 272.3h0M453.1 280.0h0M447.1 277.8h0M441.2 287.6h0M447.1 286.4h0M441.2 282.3h0M449.2 277.7h0M439.0 293.1h0M476.0 265.3h0M450.8 292.3h0M432.9 270.1h0M432.5 275.1h0M434.2 289.0h0M456.4 273.1h0M425.3 266.1h0M445.9 265.4h0M440.5 286.7h0M442.0 272.5h0M440.1 280.6h0M440.5 272.1h0M447.8 295.7h0M439.6 293.2h0M452.6 273.3h0M456.9 285.2h0M443.6 285.5h0M437.1 285.8h0M450.2 285.2h0M444.3 259.0h0M446.9 291.6h0M447.5 255.7h0M433.7 279.2h0M442.7 268.9h0M445.0 293.1h0M453.1 291.5h0M435.8 263.9h0M446.7 295.6h0M444.3 273.1h0M438.9 287.7h0M453.2 273.1h0M452.6 293.9h0M455.4 270.4h0M443.3 270.6h0M438.1 286.7h0M450.6 262.5h0M451.3 274.4h0M431.8 273.0h0M434.3 285.8h0M440.9 258.8h0M432.4 275.9h0M447.5 272.6h0M462.2 242.4h0M441.8 284.1h0M412.0 260.3h0M439.8 283.2h0M445.0 298.3h0M445.4 294.2h0M452.4 289.6h0M449.9 275.4h0M435.9 277.4h0M456.0 282.1h0M438.9 275.7h0M455.7 271.4h0M447.1 286.8h0M419.8 251.9h0M437.0 248.6h0M451.8 286.3h0M439.3 269.0h0M424.0 265.0h0M442.1 287.1h0M443.1 293.9h0M432.3 264.3h0M436.4 266.0h0M416.6 249.6h0M447.6 292.4h0M440.4 279.3h0M429.3 266.3h0M444.6 293.6h0M441.6 290.7h0M442.9 270.2h0M439.4 282.8h0M444.2 284.9h0M430.4 286.8h0M423.1 279.9h0M443.7 291.7h0M435.8 265.9h0M440.2 287.9h0M438.2 276.4h0M438.4 290.1h0M437.6 277.5h0M438.3 289.3h0M447.6 256.8h0M446.4 283.3h0M444.5 294.1h0M458.8 277.7h0M451.8 285.5h0M442.2 285.8h0M444.5 295.2h0M434.4 243.0h0M452.0 275.8h0M431.3 285.8h0M439.1 282.1h0M446.5 290.1h0M450.0 270.9h0M432.9 280.0h0M458.9 258.4h0M428.1 272.8h0M435.2 265.8h0M420.0 269.1h0M447.0 285.4h0M449.5 274.4h0M450.3 292.1h0M458.6 280.1h0M430.1 288.3h0M460.0 279.2h0M446.6 288.3h0M442.3 285.7h0M451.1 276.3h0M456.1 258.9h0M438.7 266.5h0M451.5 262.5h0M461.8 268.6h0M448.9 267.8h0M417.8 265.8h0M444.9 291.2h0M446.1 295.8h0M454.5 242.7h0M430.2 290.9h0M437.3 284.7h0M445.9 287.2h0M449.7 270.2h0M457.0 263.9h0M444.2 269.8h0M428.6 260.2h0M435.5 284.4h0M459.2 259.6h0M435.1 275.9h0M434.7 257.5h0M448.7 294.6h0M458.6 286.2h0M439.6 283.8h0M449.2 281.2h0M432.5 285.3h0M437.3 279.3h0M443.1 275.1h0M439.9 281.7h0M461.4 272.5h0M438.8 286.1h0M440.4 276.1h0M441.8 282.6h0M443.6 287.4h0M437.8 278.5h0M443.9 294.4h0M447.7 273.7h0M439.5 261.8h0M460.9 266.7h0M454.0 287.6h0M451.2 268.5h0M452.7 273.7h0M451.5 254.0h0M463.4 262.3h0M443.4 275.0h0M443.8 280.7h0M448.0 291.1h0M423.3 277.8h0M431.7 262.9h0M444.2 292.4h0M464.3 278.1h0M445.7 292.7h0M429.9 252.6h0M443.9 283.2h0M442.0 260.3h0M454.5 280.6h0M457.2 268.4h0M435.9 294.8h0M454.8 279.2h0M444.0 289.7h0M455.2 253.5h0M430.3 285.2h0M452.0 265.4h0M420.9 281.1h0M451.3 278.2h0M436.3 240.4h0M446.3 279.3h0M436.2 287.0h0M443.0 283.2h0M443.8 282.9h0M452.9 258.0h0M446.1 278.3h0M429.7 275.8h0M436.1 288.1h0M438.4 285.3h0M443.2 297.0h0M440.6 287.9h0M464.0 264.0h0M442.0 263.5h0M447.1 270.1h0M440.9 291.6h0M438.2 292.0h0M441.4 283.4h0M429.5 280.7h0M457.9 243.5h0M437.2 281.4h0M449.6 288.9h0M444.8 284.7h0M442.2 297.3h0M432.6 280.4h0M451.5 283.5h0M442.4 295.8h0M464.1 267.1h0M444.0 284.4h0M444.7 281.4h0M443.3 287.4h0M439.7 296.0h0M443.8 287.2h0M430.0 287.4h0M458.5 284.2h0M447.7 269.4h0M437.9 260.1h0M438.3 293.4h0M441.7 295.4h0M421.3 280.3h0M420.2 264.0h0M449.2 278.8h0M428.1 262.8h0M446.6 274.4h0M440.7 286.9h0M445.2 254.8h0M436.3 274.9h0M450.3 284.9h0M437.4 273.1h0M436.3 269.6h0M440.1 267.2h0M435.9 250.9h0M458.1 296.3h0M441.2 285.5h0M446.9 288.1h0M451.8 255.2h0M433.4 259.4h0M452.1 251.7h0M453.9 298.0h0M448.5 283.6h0M437.1 275.3h0M446.9 276.5h0M437.9 269.4h0M457.2 255.0h0M453.7 262.2h0M445.3 298.2h0M442.7 292.5h0M439.4 298.4h0M446.9 265.7h0M434.6 272.1h0M431.9 277.7h0M452.7 281.9h0M447.2 259.5h0M444.2 291.3h0M436.3 290.5h0M446.6 292.5h0M432.1 282.3h0M450.4 297.8h0M439.3 275.1h0M450.3 282.7h0M441.7 298.0h0M440.7 277.1h0M435.7 287.3h0M467.0 271.5h0M446.4 294.9h0M454.2 286.8h0M447.0 287.1h0M420.5 251.9h0M440.2 283.1h0M435.3 269.7h0M439.3 267.1h0M455.5 257.5h0M428.5 267.4h0M437.9 285.4h0M453.4 284.3h0M457.7 250.6h0M447.6 249.8h0M431.1 285.5h0M437.2 263.7h0M439.4 264.5h0M431.9 258.5h0M454.1 260.8h0M428.3 249.0h0M435.6 297.5h0M449.0 293.2h0M429.3 282.2h0M464.5 260.6h0M446.2 274.7h0M439.8 276.1h0M436.2 293.6h0M445.9 296.2h0M453.3 273.5h0M439.5 288.4h0M456.0 265.1h0M458.5 270.9h0M409.2 250.7h0M439.5 285.8h0M434.9 280.8h0M446.3 296.2h0M441.1 266.1h0M437.2 261.5h0M436.0 259.9h0M455.7 256.8h0M456.5 285.9h0M440.7 282.4h0M445.1 292.6h0M453.6 266.0h0M434.7 274.7h0M430.9 290.5h0M439.9 298.4h0M445.2 290.0h0M433.9 286.2h0M435.8 285.7h0M448.9 258.4h0M431.6 267.0h0M438.4 275.8h0M440.0 279.7h0M456.9 263.9h0M448.7 275.4h0M444.8 289.8h0M442.4 290.4h0M426.0 274.8h0M439.0 288.2h0M435.5 277.0h0M445.0 290.0h0M455.8 267.7h0M452.1 282.5h0M445.3 296.0h0M446.4 293.0h0M440.4 294.8h0M440.3 294.3h0M430.0 264.2h0M437.4 278.1h0M447.7 258.4h0M446.2 289.3h0M451.2 263.9h0M440.1 289.8h0M449.0 288.8h0M430.2 262.6h0M440.9 287.5h0M445.9 294.7h0M446.4 265.7h0M447.9 283.9h0M452.6 264.2h0M445.7 291.5h0M445.9 297.7h0M433.4 293.0h0M447.8 257.6h0M436.2 255.6h0M451.8 296.8h0M448.8 287.3h0M441.0 296.0h0M429.9 256.3h0M453.7 298.4h0M453.8 288.3h0M457.3 270.2h0M429.2 250.9h0M436.8 276.7h0M450.6 274.5h0M452.9 291.7h0M446.7 298.3h0M439.2 290.4h0M434.6 272.8h0M450.2 286.4h0M438.2 295.0h0M447.5 287.9h0M447.9 284.9h0M429.4 276.0h0M440.5 288.7h0M441.6 286.3h0M428.6 253.4h0M439.3 296.1h0M449.0 273.2h0M441.2 280.7h0M444.6 298.4h0M452.7 260.9h0M433.8 262.5h0M424.9 264.7h0M453.8 292.3h0M452.1 266.0h0M437.6 291.1h0M454.2 281.3h0M446.4 294.3h0M438.5 282.8h0M439.4 287.3h0M427.8 267.6h0M442.6 291.3h0M461.8 260.2h0M454.2 256.5h0M452.1 279.2h0M419.2 259.0h0M433.1 281.6h0M461.3 270.8h0M439.7 282.6h0M456.2 288.2h0M451.8 293.6h0M441.0 287.5h0M438.8 283.9h0M443.2 297.2h0M427.9 272.3h0M452.3 250.8h0M427.0 261.3h0M425.2 262.3h0M447.0 271.7h0M437.0 267.4h0M446.5 284.5h0M431.3 289.8h0M456.6 286.6h0M440.6 298.2h0M429.7 258.9h0M448.5 257.0h0M432.9 250.0h0M447.0 295.4h0M446.7 264.1h0M427.0 257.7h0M439.0 263.5h0M417.5 258.0h0M441.1 294.2h0M458.6 273.9h0M427.3 252.7h0M450.4 265.2h0M438.7 253.4h0M435.1 257.2h0M449.0 289.0h0M458.4 255.2h0M446.9 293.3h0M439.6 266.9h0M438.5 296.9h0M438.9 288.4h0M441.8 296.3h0M446.5 297.3h0M439.7 294.1h0M448.6 275.8h0M450.6 263.0h0M445.5 290.2h0M434.5 292.6h0M466.0 257.4h0M440.6 261.9h0M465.3 282.2h0M423.8 249.8h0M437.2 285.4h0M448.7 287.9h0M458.4 272.2h0M446.5 278.4h0M439.2 296.6h0M429.4 261.3h0M439.1 285.3h0M441.8 296.2h0M453.2 266.0h0M423.9 251.4h0M426.8 274.9h0M447.1 285.8h0M454.1 262.5h0M443.2 296.1h0M423.1 278.3h0M438.5 278.5h0M448.4 260.6h0M444.3 298.4h0M434.0 262.5h0M448.5 279.2h0M425.0 271.3h0M450.4 252.0h0M458.4 258.5h0M451.4 257.6h0M438.3 292.1h0M463.2 257.8h0M447.9 268.9h0M432.2 261.6h0M459.3 256.5h0M448.3 263.1h0M437.1 284.3h0M429.6 283.5h0M438.5 298.3h0M459.2 280.2h0M435.3 288.6h0M454.2 262.7h0M437.6 288.3h0M431.1 276.8h0M437.9 288.3h0M434.8 278.3h0M446.2 288.8h0M461.3 268.8h0M440.6 274.9h0M453.2 260.8h0M415.8 259.7h0M438.6 266.3h0M454.9 276.3h0M435.3 283.4h0M438.7 294.2h0M438.6 295.5h0M451.8 263.0h0M435.8 292.6h0M441.0 297.2h0M441.8 287.8h0M450.6 267.2h0M455.7 275.9h0M415.8 249.7h0M455.9 252.6h0M441.3 298.3h0M438.4 252.2h0M437.8 275.2h0M445.3 277.1h0M458.7 260.4h0M438.9 291.1h0M452.1 276.1h0M441.8 294.1h0M447.4 268.9h0M438.8 264.2h0M441.0 297.6h0M457.0 266.6h0M459.8 268.9h0M449.7 251.9h0M471.6 253.5h0M452.1 288.1h0M425.7 280.5h0M448.4 276.5h0M463.3 258.8h0M440.7 287.3h0M425.1 258.2h0M441.5 277.3h0M437.8 287.2h0M452.7 258.1h0M436.1 249.0h0M437.6 289.5h0M467.2 266.7h0M448.1 295.0h0M436.4 277.6h0M446.9 276.1h0M450.4 286.5h0M450.7 298.3h0M450.5 274.1h0M444.1 296.2h0M446.8 265.9h0M434.7 257.5h0M424.0 265.6h0M450.7 289.8h0M426.4 287.2h0M446.1 279.8h0M447.4 278.2h0M429.9 270.9h0M455.2 274.8h0M429.9 251.7h0M435.7 294.5h0M463.5 257.1h0M428.9 270.3h0M445.2 291.4h0M451.2 266.0h0M465.1 262.9h0M440.3 257.8h0M439.0 258.7h0M442.2 297.0h0M454.9 271.0h0M414.9 251.1h0M451.1 265.7h0M453.1 254.6h0M456.0 259.8h0M435.3 262.8h0M435.7 294.8h0M415.4 285.7h0M453.8 289.3h0M438.2 289.9h0M464.7 276.9h0M439.1 287.7h0M443.3 257.6h0M450.1 295.5h0M469.5 279.5h0M423.1 296.4h0M454.5 294.5h0M414.1 278.7h0M464.0 254.5h0M397.5 295.5h0M434.3 253.9h0M443.2 277.3h0M454.9 283.2h0M481.1 264.7h0M442.5 290.7h0M445.4 287.7h0M460.8 291.7h0M447.1 288.7h0M455.7 294.8h0M429.2 256.4h0M480.3 271.8h0M480.1 295.2h0M433.5 296.0h0M433.7 243.4h0M460.7 296.2h0M434.8 290.1h0M416.6 261.6h0M448.4 269.2h0M438.4 280.3h0M444.8 268.8h0M434.6 296.3h0M460.3 286.6h0M447.1 282.5h0M456.6 283.4h0M494.3 279.0h0M422.9 293.4h0M469.3 248.9h0M455.3 282.7h0M474.1 272.9h0M446.2 291.6h0M473.1 260.2h0M425.0 244.1h0M414.8 259.0h0M457.3 295.0h0M469.7 258.4h0M451.3 296.1h0M439.5 258.4h0M429.4 257.7h0M463.1 248.1h0M413.0 250.6h0M440.0 261.3h0M419.2 283.1h0M469.6 251.3h0M429.9 296.1h0M456.0 294.9h0M459.5 264.2h0M435.9 280.3h0M440.6 294.0h0M424.3 288.0h0M437.4 248.0h0M436.6 295.8h0M413.8 264.1h0M430.9 293.9h0M463.4 283.6h0M459.1 295.1h0M460.3 296.2h0M460.4 289.1h0M455.0 255.3h0M439.2 296.2h0M445.2 264.2h0M448.5 274.9h0M446.9 264.8h0M414.4 294.9h0M439.6 259.4h0M444.7 285.3h0M410.7 244.0h0M451.3 272.6h0M418.9 255.8h0M464.8 291.8h0M406.3 244.5h0M454.7 250.3h0M434.1 252.2h0M444.4 292.2h0M430.9 255.6h0M434.1 285.7h0M421.3 264.5h0M465.3 243.3h0M449.8 267.9h0M449.4 279.0h0M457.6 296.0h0M432.5 280.2h0M443.9 258.5h0M472.3 254.3h0M459.6 292.4h0M456.6 245.1h0M457.3 265.1h0M462.4 292.3h0M436.5 295.9h0M439.5 289.3h0M458.8 267.8h0M451.7 249.4h0M442.3 267.0h0M461.8 288.0h0M438.0 256.6h0M457.9 285.9h0M444.6 288.3h0M434.6 289.0h0M444.9 284.3h0M452.9 258.1h0M416.7 288.0h0M401.3 288.4h0M444.6 294.5h0M462.2 258.9h0M439.5 278.5h0M445.8 282.6h0M448.3 268.4h0M456.4 243.3h0M433.8 296.2h0M436.1 287.6h0M444.6 281.6h0M460.4 289.4h0M462.6 247.5h0M475.3 264.6h0M462.3 263.4h0M434.6 282.0h0M427.4 265.9h0M417.1 259.4h0M432.4 259.0h0M434.0 251.7h0M444.5 296.4h0M453.2 290.8h0M448.1 293.4h0M453.3 287.9h0M463.5 295.6h0M479.2 296.3h0M457.5 262.9h0M436.2 287.8h0M448.0 249.6h0M444.0 295.9h0M431.8 270.1h0M447.9 285.2h0M447.6 276.6h0M433.2 244.9h0M404.7 295.9h0M435.7 253.0h0M401.4 266.3h0M478.2 290.4h0M444.8 277.3h0M434.0 263.5h0M446.4 256.1h0M448.4 292.7h0M444.8 292.5h0M425.6 254.6h0M434.9 251.6h0M452.6 244.1h0M422.4 294.8h0M481.5 259.7h0M433.3 284.2h0M437.5 287.8h0M435.9 282.7h0M428.7 268.6h0M439.8 279.2h0M449.0 254.1h0M444.5 250.4h0M456.3 293.5h0M456.8 292.0h0M440.2 264.7h0M457.5 289.8h0M432.2 294.4h0M468.6 263.5h0M444.8 288.0h0M416.7 266.5h0M448.1 267.6h0M454.0 245.5h0M437.7 271.2h0M433.4 288.4h0M465.6 283.5h0M456.5 273.0h0M417.6 258.7h0M454.2 295.5h0M431.7 248.2h0M459.8 295.0h0M450.0 276.7h0M444.4 279.0h0M439.4 283.9h0M427.0 268.2h0M413.6 295.8h0M432.8 293.5h0M457.9 254.7h0M434.0 291.9h0M455.3 276.7h0M446.3 278.9h0M436.3 288.8h0M458.5 270.5h0M449.8 272.0h0M468.5 249.0h0M442.9 264.4h0M429.9 254.2h0M412.2 262.5h0M437.5 254.2h0M455.2 296.2h0M420.1 288.9h0M463.1 279.0h0M430.4 257.0h0M462.3 295.8h0M417.0 283.5h0M460.6 245.2h0M441.1 293.2h0M462.4 254.0h0M413.9 267.1h0M447.4 290.1h0M447.2 249.4h0M438.8 260.3h0M444.2 286.5h0M464.6 280.6h0M460.3 274.1h0M444.5 296.5h0M441.1 298.0h0M446.5 297.6h0M446.7 295.5h0M446.4 293.7h0M448.2 296.4h0M442.6 297.0h0M444.3 295.4h0M448.4 292.2h0M439.3 293.5h0M441.8 295.4h0M445.8 293.9h0M449.0 290.5h0M444.8 297.5h0M443.9 296.8h0M429.7 287.2h0M442.8 297.6h0M443.2 291.7h0M446.8 298.0h0M436.7 293.1h0M443.4 288.1h0M445.5 293.9h0M439.3 285.8h0M446.7 297.3h0M449.7 295.5h0M445.9 297.4h0M446.0 290.4h0M439.4 294.9h0M440.2 294.1h0M445.1 296.9h0M443.3 295.6h0M438.1 298.2h0M438.4 292.2h0M441.9 292.9h0M437.8 293.6h0M443.0 291.2h0M440.2 297.0h0M441.1 296.3h0M442.1 294.6h0M443.6 289.9h0M444.1 294.1h0M444.7 296.7h0M439.6 290.3h0M443.9 294.7h0M440.4 294.2h0M449.2 286.2h0M448.6 291.8h0M445.0 296.7h0M443.9 296.3h0M443.9 295.8h0M448.5 296.0h0M442.3 298.3h0M443.3 294.1h0M445.0 294.2h0M449.7 295.7h0M437.2 296.8h0M446.7 298.5h0M442.0 287.0h0M442.3 292.9h0M436.4 292.7h0M441.6 294.7h0M442.9 292.1h0M448.3 292.4h0M440.7 296.3h0M446.6 293.4h0M442.1 293.4h0M440.3 284.8h0M439.2 296.4h0M443.4 298.0h0M447.3 294.4h0M439.5 294.8h0M446.7 291.4h0M445.2 291.9h0M447.0 295.5h0M443.1 293.2h0M446.8 292.5h0M448.2 289.4h0M439.7 292.4h0M444.3 296.6h0M444.1 294.0h0M454.1 278.5h0M444.1 295.2h0M444.1 296.9h0M442.6 291.0h0M440.2 294.1h0M443.6 287.2h0M441.5 296.8h0M443.7 295.9h0M441.7 296.6h0M441.9 296.4h0M446.1 292.8h0M439.8 295.8h0M443.7 294.8h0M445.1 287.5h0M448.9 287.3h0M443.0 295.6h0M438.7 286.4h0M443.2 291.5h0M443.6 296.8h0M446.6 287.7h0M436.5 294.7h0M445.9 293.1h0M442.6 297.5h0M445.4 296.7h0M448.8 297.2h0M445.2 293.7h0M440.5 291.0h0M444.5 293.8h0M443.4 296.5h0M448.2 295.7h0M442.1 293.1h0M446.2 297.8h0M450.8 290.6h0M440.6 288.6h0M444.3 292.8h0M445.0 295.6h0M437.2 294.4h0M446.7 294.2h0M444.5 298.3h0M448.5 293.2h0M444.2 293.4h0M439.9 292.0h0M442.5 291.9h0M450.8 292.0h0M445.8 293.4h0M445.7 291.3h0M448.2 292.9h0M445.0 296.3h0M444.1 296.5h0M438.9 295.1h0M435.6 294.1h0M446.5 293.5h0M442.0 296.3h0M442.0 292.2h0M440.7 294.5h0M443.1 296.0h0M443.6 296.9h0M442.0 297.1h0M439.8 296.6h0M445.7 294.2h0M440.5 287.6h0M445.4 295.2h0M445.3 298.3h0M441.4 294.8h0M442.5 294.9h0M442.9 295.3h0M442.2 292.2h0M444.0 298.0h0M440.1 297.7h0M445.6 296.9h0M439.0 294.6h0M438.8 292.4h0M446.0 296.9h0M443.1 291.6h0M442.3 293.7h0M445.8 295.2h0M440.6 295.3h0M443.6 296.9h0M442.0 283.9h0M448.5 294.1h0M448.3 294.6h0M440.1 294.3h0M442.5 284.9h0M440.6 295.8h0M442.3 297.5h0M440.7 296.9h0M442.8 292.1h0M439.9 290.6h0M433.1 291.5h0M442.7 295.6h0M446.8 298.1h0M448.2 294.9h0M440.2 293.2h0M439.9 298.3h0M439.7 292.6h0M440.2 297.1h0M439.7 297.2h0M441.6 296.0h0M446.0 296.0h0M444.5 294.2h0M445.0 295.1h0M447.2 293.8h0M443.0 294.9h0M442.3 292.2h0M444.6 298.0h0M449.3 292.2h0M443.9 298.0h0M446.7 282.4h0M444.6 296.3h0M447.8 295.9h0M447.0 289.4h0M445.6 293.4h0M446.3 294.6h0M442.6 295.6h0M446.7 289.6h0M440.5 298.3h0M444.6 296.8h0M442.3 298.3h0M438.0 293.7h0M442.8 298.4h0M445.5 293.2h0M443.9 291.6h0M445.5 294.8h0M445.5 288.7h0M442.6 295.9h0M447.2 297.3h0M440.5 295.2h0M440.8 296.4h0M441.9 296.0h0M444.7 295.3h0M442.3 297.6h0M443.1 296.6h0M445.8 297.2h0M447.6 292.4h0M441.1 297.3h0M446.6 293.7h0M440.9 294.9h0M447.9 289.4h0M444.5 292.8h0M449.6 292.8h0M444.8 297.3h0M442.2 296.3h0M440.4 290.6h0M444.0 287.2h0M441.6 295.7h0M449.3 297.0h0M438.3 296.1h0M439.3 297.3h0M440.7 290.3h0M445.6 297.3h0M446.6 298.3h0M438.9 292.1h0M445.6 289.2h0M447.6 285.9h0M450.8 291.4h0M442.7 297.5h0M440.4 296.3h0M441.1 286.3h0M448.6 292.7h0M441.3 293.3h0M439.7 294.8h0M443.0 296.4h0M447.4 290.4h0M445.5 288.0h0M446.3 292.2h0M445.5 293.6h0M441.5 295.1h0M443.1 290.6h0M436.9 287.8h0M443.8 292.9h0M442.9 296.7h0M445.7 294.6h0M440.3 295.0h0M456.2 289.3h0M443.2 295.9h0M442.9 297.1h0M443.6 296.0h0M441.1 291.8h0M445.1 297.1h0M445.0 298.5h0M449.8 295.7h0M443.8 298.5h0M442.0 297.7h0M446.3 295.0h0M444.2 294.1h0M441.5 296.4h0M442.1 298.3h0M448.7 293.0h0M441.8 298.2h0M441.5 296.5h0M446.9 297.4h0M446.4 287.8h0M443.0 293.5h0M445.9 293.8h0M444.8 285.1h0M447.3 296.4h0M444.6 298.2h0M444.4 287.8h0M443.6 296.0h0M447.8 293.1h0M444.1 291.9h0M445.4 295.5h0M448.3 287.4h0M445.6 297.8h0M446.9 294.6h0M444.0 297.9h0M445.1 296.8h0M447.1 297.9h0M441.7 294.5h0M441.6 294.0h0M442.1 295.2h0M441.0 297.1h0M446.7 295.0h0M441.6 285.3h0M442.2 290.8h0M438.9 289.4h0M439.1 295.5h0M447.7 294.3h0M445.4 295.7h0M437.9 293.2h0M444.1 297.6h0M438.3 293.6h0M441.6 292.3h0M446.3 295.9h0M443.2 298.4h0M442.2 297.0h0M446.1 292.0h0M446.1 296.2h0M440.3 297.8h0M441.6 294.8h0M444.3 289.4h0M444.5 297.3h0M443.5 298.3h0M445.8 296.2h0M442.7 285.2h0M450.8 291.2h0M443.4 296.4h0M450.6 292.2h0M438.6 292.8h0M445.8 297.7h0M443.9 296.0h0M444.7 297.0h0M446.2 291.6h0M443.6 298.1h0M436.0 294.9h0M440.1 298.2h0M446.5 297.1h0M440.2 295.7h0M442.7 297.2h0M442.0 298.2h0M442.9 295.0h0M446.8 294.3h0M445.5 295.2h0M442.8 292.5h0M442.7 292.6h0M441.5 291.7h0M452.0 295.1h0M440.7 298.3h0M445.0 298.0h0M439.3 291.3h0M444.0 295.1h0M442.6 296.5h0M443.0 297.2h0M442.4 298.0h0M439.9 297.4h0M444.2 285.5h0M444.4 293.1h0M444.1 294.9h0M441.6 292.6h0M443.6 296.0h0M443.3 296.5h0M441.0 292.9h0M438.5 295.9h0M442.8 296.9h0M444.2 289.6h0M443.1 285.6h0M440.7 290.4h0M445.3 294.3h0M442.6 296.2h0M437.4 296.2h0M443.3 297.8h0M444.2 297.7h0M444.6 297.2h0M450.5 292.4h0M441.0 297.1h0M439.7 285.0h0M444.0 293.7h0M438.9 293.6h0M445.7 290.8h0M441.9 292.1h0M442.9 295.2h0M442.2 294.1h0M444.4 295.3h0M442.4 298.0h0M440.6 291.2h0M441.0 298.3h0M441.2 298.3h0M445.7 296.7h0M439.8 290.9h0M438.7 289.5h0M443.7 288.7h0M447.4 290.3h0M444.7 297.6h0M449.1 291.7h0M443.0 298.3h0M445.0 297.0h0M445.8 290.2h0M441.4 297.3h0M442.5 292.9h0M441.5 296.1h0M439.9 294.1h0M441.2 298.2h0M442.7 295.3h0M437.2 294.6h0M444.4 297.2h0M448.8 288.7h0M446.4 295.6h0M438.7 289.9h0M438.0 290.9h0M445.7 297.8h0M441.3 290.7h0M437.4 293.3h0M448.9 297.0h0M442.5 296.8h0M439.0 294.4h0M439.9 296.4h0M441.3 288.6h0M446.4 292.1h0M438.8 297.8h0M447.5 292.6h0M442.4 296.0h0M451.6 291.5h0M450.0 292.0h0M444.9 289.6h0M447.1 291.6h0M444.6 288.3h0M442.6 297.0h0M446.3 293.8h0M446.4 293.3h0M440.9 296.2h0M442.1 296.1h0M441.4 292.6h0M443.8 298.3h0M448.0 293.4h0M445.1 297.6h0M445.7 296.0h0M438.2 294.9h0M440.2 295.5h0M444.6 296.1h0M441.6 297.5h0M440.2 296.7h0M442.9 298.3h0M451.3 294.1h0M444.5 292.4h0M444.0 290.9h0M441.4 296.7h0M441.2 294.3h0M437.1 290.9h0M446.5 289.9h0M442.0 295.8h0M446.2 298.0h0M443.4 292.8h0M441.8 295.5h0M438.0 287.8h0M442.0 293.4h0M445.8 286.3h0M440.1 288.5h0M441.2 297.5h0M442.6 297.5h0M444.7 296.3h0M445.2 291.6h0M440.5 295.9h0M446.9 296.9h0M435.1 284.0h0M439.9 295.7h0M439.0 295.0h0M440.2 290.4h0M439.7 298.2h0M455.2 293.1h0M443.6 295.0h0M443.0 291.8h0M440.5 294.3h0M440.1 291.0h0M440.8 293.6h0M445.6 294.5h0M443.4 294.2h0M444.0 297.5h0M441.8 298.1h0M441.6 297.0h0M443.0 297.5h0M448.1 297.5h0M448.3 290.9h0M447.3 292.1h0M437.4 292.5h0M437.5 293.8h0M443.3 296.1h0M448.2 297.2h0M442.0 283.7h0M447.4 295.8h0M445.8 286.4h0M450.1 292.8h0M448.9 295.2h0M441.7 298.3h0M447.9 296.0h0M445.5 297.7h0M445.2 294.1h0M442.2 296.0h0M448.0 293.2h0M443.4 282.8h0M442.8 298.5h0M440.4 296.1h0M441.7 290.2h0M445.3 294.7h0M444.4 295.1h0M450.4 298.0h0M439.5 291.0h0M444.4 293.7h0M445.5 293.9h0M446.0 295.1h0M451.1 293.5h0M444.4 289.9h0M437.0 295.5h0M441.6 295.4h0M442.2 297.1h0M446.4 297.9h0M446.9 295.0h0M441.9 298.1h0M440.2 289.2h0M442.2 293.8h0M441.7 295.9h0M440.1 298.0h0M452.7 292.5h0M443.9 293.6h0M441.3 296.9h0M441.3 296.1h0M443.4 294.1h0M442.9 298.0h0M443.6 297.5h0M438.5 285.3h0M453.8 290.0h0M442.7 297.0h0M438.4 290.9h0M443.2 297.7h0M443.3 298.0h0M447.0 297.3h0M449.1 291.9h0M446.7 295.7h0M441.2 293.0h0M441.0 293.0h0M445.9 295.2h0M444.4 296.0h0M441.3 292.7h0M445.9 295.0h0M440.4 298.3h0M442.7 291.7h0M441.4 297.1h0M444.3 296.5h0M441.5 293.6h0M442.2 292.6h0M448.0 296.4h0M443.6 294.7h0M446.3 285.2h0M446.4 292.0h0M447.3 296.4h0M439.9 297.6h0M439.2 295.1h0M448.9 289.0h0M434.5 292.4h0M443.4 298.2h0M444.3 298.5h0M388.9 262.7h0M388.9 272.8h0M388.9 276.9h0M388.9 287.2h0M388.9 282.4h0M388.9 276.9h0M388.9 279.6h0M388.9 277.5h0M388.9 270.2h0M388.9 260.6h0M388.9 269.6h0M388.9 265.1h0M388.9 291.9h0M388.9 275.6h0M388.9 282.7h0M388.9 292.2h0M388.9 285.6h0M388.9 262.6h0M388.9 257.4h0M388.9 279.5h0M388.9 293.5h0M388.9 275.4h0M388.9 291.0h0M388.9 280.0h0M388.9 292.8h0M388.9 273.4h0M388.9 285.6h0M388.9 285.2h0M388.9 288.6h0M388.9 287.1h0M388.9 267.0h0M388.9 263.0h0M388.9 288.4h0M388.9 292.5h0M388.9 274.7h0M388.9 285.0h0M388.9 292.1h0M388.9 267.4h0M388.9 272.4h0M388.9 282.2h0M388.9 260.7h0M388.9 276.4h0M388.9 272.8h0M388.9 275.6h0M388.9 265.8h0M498.3 259.2h0M498.3 290.2h0M498.3 275.9h0M498.3 269.6h0M498.3 263.9h0M498.3 264.8h0M498.3 295.1h0M498.3 291.3h0M498.3 264.9h0M498.3 284.8h0M498.3 261.1h0M498.3 276.4h0M498.3 276.1h0M498.3 283.2h0M498.3 295.7h0M498.3 280.3h0M498.3 272.2h0M498.3 289.9h0M498.3 287.1h0M498.3 274.7h0M498.3 273.9h0M498.3 272.6h0M498.3 291.5h0M498.3 265.7h0M498.3 279.6h0M498.3 258.1h0M498.3 291.0h0M498.3 295.1h0M498.3 264.3h0M498.3 260.3h0M498.3 286.9h0M498.3 280.0h0M498.3 272.1h0M498.3 272.8h0M498.3 271.0h0M498.3 257.8h0M498.3 257.8h0M498.3 296.7h0M498.3 293.5h0M498.3 276.0h0M498.3 283.6h0M498.3 290.1h0M498.3 276.1h0M498.3 283.0h0M498.3 258.2h0" stroke="#cdd6e2" stroke-width="1.3" stroke-linecap="round" fill="none"/>
<path d="M440.5 273.6h0M437.8 254.6h0M423.8 274.4h0M438.0 271.9h0M440.9 282.1h0M435.9 269.2h0M441.4 263.3h0M440.3 268.6h0M433.4 264.2h0M440.1 276.3h0M432.0 263.5h0M437.8 280.1h0M438.5 264.6h0M437.3 267.0h0M437.7 266.2h0M431.7 260.8h0M433.4 258.9h0M437.1 272.2h0M435.0 272.2h0M435.6 258.1h0M441.4 261.9h0M433.0 270.4h0M436.7 263.0h0M436.4 260.2h0M437.8 272.2h0M437.4 262.1h0M431.9 257.3h0M441.2 280.6h0M439.3 255.9h0M433.4 259.5h0M440.0 282.5h0M429.8 257.0h0M441.7 272.7h0M439.0 273.8h0M439.8 269.5h0M436.8 276.7h0M426.8 254.3h0M438.3 265.2h0M428.4 257.2h0M441.2 283.1h0M388.9 261.2h0M436.4 274.0h0M438.1 265.7h0M441.4 264.3h0M439.9 285.1h0M441.7 273.0h0M439.8 279.2h0M440.7 263.0h0M438.2 266.8h0M440.0 274.9h0M439.4 268.9h0M439.1 270.2h0M439.2 279.2h0M438.4 263.7h0M439.6 278.9h0M438.0 274.8h0M440.1 260.4h0M437.5 268.1h0M440.7 254.0h0M440.2 267.4h0M441.8 258.6h0M434.6 253.7h0M438.8 275.8h0M435.0 269.2h0M436.3 262.4h0M437.9 278.2h0M440.9 286.4h0M441.0 276.9h0M435.4 260.8h0M434.8 264.9h0M440.5 272.2h0M434.6 276.6h0M433.7 264.1h0M437.2 263.0h0M440.1 268.3h0M433.6 265.1h0M439.5 259.4h0M440.4 282.3h0M439.8 274.8h0M435.3 267.3h0M437.9 270.3h0M438.6 270.9h0M436.4 264.5h0M438.7 255.0h0M431.8 253.9h0M436.9 260.9h0M439.6 273.5h0M440.5 272.1h0M439.2 282.1h0M440.4 261.1h0M432.6 269.6h0M388.9 280.5h0M439.6 283.7h0M434.0 265.0h0M438.0 271.6h0M437.0 272.8h0M439.4 279.5h0M428.7 258.3h0M437.2 284.9h0M438.3 266.4h0M434.1 270.2h0" stroke="#3a7bbd" stroke-width="1.5" stroke-linecap="round" fill="none"/>
<path d="M436.1 274.9h0M433.3 260.2h0M437.5 262.9h0M435.4 256.9h0M435.9 271.7h0M435.1 265.9h0M431.2 261.7h0M439.9 273.8h0M440.9 282.8h0M437.8 267.9h0M438.9 275.6h0M440.5 253.6h0M436.7 270.4h0M440.9 267.9h0M439.3 260.3h0M424.5 258.0h0M438.0 270.5h0M439.8 287.4h0M439.6 272.5h0M418.2 268.7h0M439.3 278.9h0" stroke="#3a7bbd" stroke-width="2.2" stroke-linecap="round" fill="none"/>
<path d="M446.8 266.2h0M453.1 263.6h0M462.3 282.6h0M448.3 274.2h0M459.3 261.0h0M448.5 278.1h0M456.8 258.1h0M446.3 281.6h0M468.8 250.7h0M450.1 259.4h0M451.5 262.0h0M445.5 267.3h0M448.6 258.9h0M447.5 248.5h0M453.0 268.1h0M458.7 242.5h0M446.8 248.1h0M446.3 269.1h0M449.1 254.3h0M456.3 250.4h0M449.0 263.7h0M446.3 274.9h0M457.2 262.3h0M458.6 259.0h0M456.5 269.4h0M450.1 254.7h0M457.3 252.4h0M457.7 250.9h0M451.7 272.9h0M447.0 264.6h0M456.6 267.6h0M454.2 268.3h0M456.5 249.1h0M461.9 242.7h0M452.1 246.8h0M474.9 258.9h0M459.4 255.8h0M464.3 246.6h0M445.9 259.1h0M447.8 271.8h0M446.7 277.2h0M451.0 272.9h0M451.5 249.4h0M453.7 269.8h0M452.6 264.5h0M459.7 256.6h0M447.6 283.6h0M448.6 270.3h0M446.8 273.1h0M461.5 254.6h0M454.8 254.3h0M445.7 269.9h0M469.9 270.4h0M451.0 278.0h0M449.0 261.2h0M454.2 248.3h0M457.1 257.5h0M446.6 280.0h0M449.4 270.0h0M455.1 260.1h0M446.2 284.4h0M446.5 282.0h0M456.2 271.2h0M448.5 277.3h0M461.2 244.0h0M448.8 258.4h0M446.1 269.1h0M453.7 257.8h0M450.6 246.2h0M454.7 252.2h0M449.8 259.9h0M447.4 245.0h0M445.4 257.0h0M452.6 257.1h0M451.9 245.6h0M450.7 250.4h0M445.4 251.3h0M450.1 252.1h0M455.9 265.0h0M498.3 261.9h0M451.6 265.5h0M447.3 284.8h0M445.4 280.9h0M460.3 251.8h0M452.6 250.0h0M459.6 245.6h0M446.5 278.2h0M445.9 270.4h0M447.9 279.2h0M451.8 267.5h0M451.7 266.2h0M470.6 249.6h0M454.5 264.6h0M458.9 250.6h0M448.6 287.0h0M447.8 266.3h0M451.6 272.6h0M449.2 274.9h0M460.0 244.8h0M460.2 257.9h0M454.2 247.2h0M447.8 253.4h0M446.7 281.5h0M450.9 275.4h0M449.1 285.2h0M451.4 258.3h0M456.0 245.4h0M498.3 273.2h0M450.6 275.2h0M449.7 245.0h0M477.7 274.6h0M457.9 260.5h0M447.9 256.4h0M446.9 246.8h0M459.8 254.8h0M498.3 280.8h0M451.2 265.2h0M462.0 249.3h0M453.3 255.7h0M445.4 258.7h0M450.9 258.4h0M450.6 266.6h0M460.3 255.9h0" stroke="#f04a36" stroke-width="1.5" stroke-linecap="round" fill="none"/>
<path d="M446.4 286.9h0M448.2 260.5h0M473.1 251.0h0M448.7 249.1h0M475.2 254.1h0M471.4 250.6h0M459.5 251.9h0M455.1 246.0h0M449.3 275.2h0M455.5 246.0h0M447.6 278.1h0M451.9 255.6h0M456.1 265.4h0M449.2 265.4h0M449.6 257.9h0M447.5 277.6h0M464.1 243.7h0M454.8 258.3h0M446.7 282.6h0" stroke="#f04a36" stroke-width="2.2" stroke-linecap="round" fill="none"/>
<line x1="384.3" y1="289.1" x2="501.9" y2="289.1" stroke="#333" stroke-width="0.6" stroke-dasharray="1.5 1.6"/>
<text x="498.3" y="294.1" font-size="5.3" text-anchor="end"><tspan font-style="italic">P</tspan>=value=0.05</text>
<rect x="384.3" y="186.8" width="117.6" height="117.1" fill="none" stroke="#707070" stroke-width="0.85"/>
<line x1="399.1" y1="303.9" x2="399.1" y2="305.09999999999997" stroke="#555" stroke-width="0.5"/>
<text x="399.1" y="310.4" font-size="5.0" text-anchor="middle">−10</text>
<line x1="421.4" y1="303.9" x2="421.4" y2="305.09999999999997" stroke="#555" stroke-width="0.5"/>
<text x="421.4" y="310.4" font-size="5.0" text-anchor="middle">−5</text>
<line x1="443.6" y1="303.9" x2="443.6" y2="305.09999999999997" stroke="#555" stroke-width="0.5"/>
<text x="443.6" y="310.4" font-size="5.0" text-anchor="middle">0</text>
<line x1="465.9" y1="303.9" x2="465.9" y2="305.09999999999997" stroke="#555" stroke-width="0.5"/>
<text x="465.9" y="310.4" font-size="5.0" text-anchor="middle">5</text>
<line x1="488.1" y1="303.9" x2="488.1" y2="305.09999999999997" stroke="#555" stroke-width="0.5"/>
<text x="488.1" y="310.4" font-size="5.0" text-anchor="middle">10</text>
<line x1="383.1" y1="298.5" x2="384.3" y2="298.5" stroke="#555" stroke-width="0.5"/>
<text x="382.0" y="300.2" font-size="5.0" text-anchor="end">0</text>
<line x1="383.1" y1="263.1" x2="384.3" y2="263.1" stroke="#555" stroke-width="0.5"/>
<text x="382.0" y="264.8" font-size="5.0" text-anchor="end">5</text>
<line x1="383.1" y1="227.6" x2="384.3" y2="227.6" stroke="#555" stroke-width="0.5"/>
<text x="382.0" y="229.3" font-size="5.0" text-anchor="end">10</text>
<line x1="383.1" y1="192.2" x2="384.3" y2="192.2" stroke="#555" stroke-width="0.5"/>
<text x="382.0" y="193.8" font-size="5.0" text-anchor="end">15</text>
<text x="444.6" y="316.4" font-size="5.1" text-anchor="middle">log2(FC)</text>
<text transform="translate(376.2,241.8) rotate(-90)" font-size="5.2" text-anchor="middle">−log10(<tspan font-style="italic">P</tspan>=value)</text>
<text x="390.7" y="196.9" font-size="5.05">Sig : 122</text>
<text x="390.7" y="203.7" font-size="5.05">VIP &gt; 1</text>
<text x="390.7" y="210.5" font-size="5.05"><tspan font-style="italic">P</tspan> &lt; 0.05</text>
<text x="390.7" y="217.3" font-size="5.05">log2(FC) &lt; 0</text>
<text x="390.7" y="224.1" font-size="5.05">Down</text>
<text x="496.0" y="196.6" font-size="5.1" text-anchor="end">Sig : 142</text>
<text x="496.0" y="203.4" font-size="5.1" text-anchor="end">VIP &gt; 1</text>
<text x="496.0" y="210.3" font-size="5.1" text-anchor="end"><tspan font-style="italic">P</tspan> &lt; 0.05</text>
<text x="496.0" y="217.1" font-size="5.1" text-anchor="end">log2(FC) &gt; 0</text>
<text x="496.0" y="224.0" font-size="5.1" text-anchor="end">Up</text>
<text x="510.5" y="221.5" font-size="4.4" text-anchor="middle">VIP</text>
<circle cx="509.9" cy="227.5" r="0.6" fill="#111"/>
<text x="514.8" y="229.0" font-size="4.4">1</text>
<circle cx="509.9" cy="236" r="0.9" fill="#111"/>
<text x="514.8" y="237.5" font-size="4.4">9</text>
<circle cx="509.9" cy="244.3" r="1.2" fill="#111"/>
<text x="514.8" y="245.8" font-size="4.4">17</text>
<circle cx="509.9" cy="253" r="0.75" fill="#3a7bbd"/>
<text x="514.8" y="254.5" font-size="4.4">Significant Down</text>
<circle cx="509.9" cy="261.4" r="0.75" fill="#cfd8e3"/>
<text x="514.8" y="262.9" font-size="4.4">Non-significant</text>
<circle cx="509.9" cy="269.5" r="0.75" fill="#f04a36"/>
<text x="514.8" y="271.0" font-size="4.4">Significant Up</text>
<text x="86.7" y="336.2" font-size="5.1" text-anchor="middle">S-VS-C</text>
<text x="86.7" y="341.6" font-size="5.1" text-anchor="middle">Volcano Plot</text>
<path d="M75.5 446.1h0M79.9 451.8h0M80.4 434.8h0M80.8 446.8h0M81.2 407.6h0M74.0 443.7h0M82.5 421.3h0M75.2 431.1h0M74.4 436.3h0M79.0 434.3h0M70.4 436.2h0M75.0 448.5h0M77.3 452.6h0M88.8 437.8h0M74.0 440.1h0M73.9 442.2h0M80.9 443.4h0M77.2 452.0h0M79.3 417.5h0M83.3 448.0h0M86.4 452.8h0M57.5 420.9h0M84.6 454.1h0M75.4 440.2h0M76.4 430.2h0M83.5 438.9h0M77.8 441.3h0M78.8 452.7h0M76.7 415.1h0M80.9 447.0h0M77.2 452.2h0M76.2 452.9h0M83.8 445.7h0M90.5 416.4h0M84.6 445.9h0M79.8 445.7h0M89.0 407.2h0M79.2 445.9h0M79.5 446.3h0M81.9 414.1h0M82.7 436.8h0M92.4 442.8h0M85.2 412.8h0M65.2 427.8h0M80.7 445.1h0M77.8 452.0h0M77.7 429.2h0M45.6 411.1h0M94.4 426.6h0M68.9 437.8h0M87.8 431.7h0M73.0 449.2h0M105.5 417.2h0M79.5 434.5h0M80.0 414.6h0M84.0 450.0h0M78.8 439.3h0M75.8 444.0h0M86.4 439.8h0M88.1 448.0h0M59.6 436.8h0M74.4 443.7h0M74.8 437.1h0M78.5 445.8h0M88.5 442.2h0M76.8 426.2h0M63.5 443.6h0M81.4 443.9h0M70.9 414.6h0M81.1 416.8h0M84.0 427.3h0M81.1 432.8h0M57.3 430.1h0M85.8 447.9h0M79.7 443.2h0M78.7 412.5h0M56.6 432.3h0M63.2 418.1h0M74.6 449.9h0M62.2 430.3h0M70.7 444.0h0M83.4 443.8h0M93.3 443.2h0M77.9 440.6h0M82.3 440.2h0M92.6 424.8h0M75.2 441.9h0M76.5 451.7h0M85.2 431.2h0M80.8 446.6h0M74.4 448.9h0M90.9 448.4h0M87.5 425.9h0M76.5 435.4h0M98.4 443.5h0M86.1 444.4h0M60.6 424.1h0M58.1 433.6h0M70.6 422.1h0M78.3 451.7h0M82.7 440.9h0M73.1 441.1h0M88.1 453.5h0M79.9 448.8h0M80.3 403.4h0M89.3 437.6h0M87.1 447.7h0M78.0 441.4h0M93.8 406.6h0M88.2 428.4h0M72.8 431.4h0M70.2 401.0h0M73.9 443.8h0M69.1 406.5h0M66.9 427.6h0M74.9 451.2h0M72.7 436.6h0M75.8 447.2h0M76.0 415.4h0M74.0 436.1h0M76.3 404.5h0M77.1 437.5h0M78.2 442.0h0M65.9 444.1h0M53.7 431.1h0M98.6 418.8h0M80.8 444.1h0M65.8 439.2h0M81.0 454.1h0M73.5 418.6h0M71.6 429.7h0M86.2 445.5h0M76.3 453.4h0M89.4 449.4h0M79.3 451.0h0M80.5 446.9h0M72.4 426.8h0M78.3 442.7h0M90.8 445.9h0M90.1 444.2h0M98.6 427.4h0M83.3 447.9h0M79.4 453.5h0M80.8 453.1h0M73.1 443.1h0M74.8 446.8h0M84.6 426.9h0M80.4 449.2h0M67.9 434.3h0M96.3 405.7h0M78.9 453.0h0M85.6 432.9h0M67.0 429.9h0M86.9 442.4h0M76.7 447.5h0M57.2 436.7h0M75.4 443.9h0M80.9 441.5h0M79.5 442.2h0M81.0 415.1h0M75.4 439.9h0M85.2 447.9h0M77.9 431.4h0M76.6 439.2h0M73.8 447.8h0M82.2 429.3h0M60.8 442.5h0M73.4 442.9h0M82.5 434.5h0M74.0 437.8h0M101.2 423.3h0M84.6 431.1h0M65.6 445.3h0M80.1 447.0h0M91.6 444.6h0M74.8 444.5h0M82.2 455.4h0M71.4 451.6h0M81.5 451.2h0M72.2 404.0h0M74.8 455.2h0M77.8 450.8h0M63.3 426.9h0M77.6 439.2h0M76.3 450.4h0M83.6 444.8h0M89.5 449.9h0M84.0 448.6h0M75.3 434.4h0M91.0 418.3h0M74.2 434.8h0M74.5 437.3h0M72.6 434.4h0M74.5 421.9h0M75.9 438.6h0M83.9 444.1h0M76.8 447.0h0M89.3 427.2h0M65.5 399.6h0M87.6 448.0h0M83.3 455.0h0M78.5 433.9h0M74.7 445.8h0M82.1 439.0h0M79.1 444.4h0M72.3 420.7h0M85.2 442.4h0M78.3 418.2h0M65.2 437.0h0M83.4 440.9h0M84.5 441.1h0M79.0 449.6h0M87.3 420.6h0M71.3 426.7h0M92.2 440.8h0M97.7 407.2h0M86.1 439.3h0M68.4 430.1h0M91.5 444.6h0M83.4 429.6h0M65.8 446.1h0M80.3 442.2h0M89.7 439.9h0M83.4 454.5h0M77.7 417.7h0M74.1 449.1h0M69.6 445.2h0M70.1 414.0h0M78.8 442.5h0M57.3 426.8h0M74.2 430.1h0M76.4 454.1h0M78.6 452.7h0M70.1 409.8h0M81.7 432.9h0M79.3 439.0h0M79.5 429.0h0M74.6 430.6h0M75.5 454.3h0M89.1 432.7h0M78.3 429.2h0M84.1 423.3h0M78.4 441.2h0M87.2 441.1h0M97.5 402.9h0M59.6 421.9h0M90.3 423.9h0M68.4 450.3h0M82.7 448.2h0M69.1 433.3h0M89.7 428.9h0M78.8 433.4h0M79.8 444.5h0M70.6 415.8h0M72.1 441.0h0M71.9 447.6h0M76.9 434.6h0M81.6 438.2h0M85.8 435.2h0M69.7 447.7h0M79.3 432.4h0M77.8 440.6h0M82.0 448.4h0M70.4 423.5h0M77.6 448.4h0M79.6 446.9h0M82.0 438.0h0M81.6 441.9h0M63.4 409.2h0M102.7 425.1h0M77.9 411.8h0M84.0 427.6h0M82.0 436.4h0M77.6 441.5h0M85.2 431.3h0M83.9 448.0h0M74.4 447.9h0M74.3 448.3h0M76.5 426.7h0M87.8 436.8h0M81.6 416.1h0M81.5 421.4h0M71.7 441.6h0M85.8 441.0h0M79.7 437.8h0M66.6 442.0h0M82.3 450.4h0M88.6 435.9h0M78.9 451.9h0M75.2 425.6h0M92.6 419.9h0M78.5 436.6h0M81.3 449.3h0M61.9 433.9h0M70.9 409.3h0M70.4 421.0h0M78.2 453.8h0M82.6 452.0h0M86.8 439.6h0M82.0 450.5h0M82.9 444.8h0M88.3 415.8h0M86.7 438.8h0M93.7 435.9h0M73.0 442.4h0M70.9 435.7h0M72.3 400.6h0M96.1 424.9h0M78.6 441.1h0M72.0 443.2h0M75.3 441.6h0M84.5 430.8h0M72.8 439.8h0M68.3 432.1h0M84.3 400.5h0M70.6 450.5h0M75.9 448.6h0M75.6 440.7h0M82.7 436.1h0M84.1 441.9h0M67.9 433.8h0M80.7 430.9h0M70.0 449.7h0M83.7 449.4h0M82.3 444.1h0M65.0 433.0h0M70.4 446.4h0M81.2 448.6h0M83.4 446.0h0M89.5 436.1h0M77.6 439.1h0M74.6 448.2h0M84.6 420.4h0M79.8 449.3h0M80.3 451.6h0M73.0 425.7h0M92.6 428.8h0M93.8 436.5h0M76.3 431.7h0M77.3 455.1h0M84.2 427.0h0M67.9 423.8h0M83.3 452.0h0M74.0 440.0h0M65.6 433.9h0M79.0 435.7h0M73.8 432.6h0M92.5 442.2h0M79.7 445.0h0M85.9 441.7h0M79.2 421.3h0M92.0 438.8h0M73.5 450.0h0M71.3 451.4h0M78.8 449.0h0M85.4 433.6h0M77.8 445.1h0M90.3 415.1h0M84.2 411.0h0M77.5 440.9h0M66.4 444.5h0M84.6 451.6h0M54.6 429.7h0M79.9 444.2h0M69.1 447.5h0M79.1 447.5h0M63.4 439.3h0M78.8 446.2h0M75.2 453.7h0M69.6 435.3h0M70.7 442.5h0M88.8 423.0h0M83.4 418.0h0M78.1 439.6h0M78.8 448.3h0M71.0 413.4h0M74.1 447.0h0M73.2 414.0h0M72.2 405.3h0M79.9 449.8h0M70.6 446.1h0M84.1 447.4h0M78.2 451.8h0M63.2 431.4h0M75.8 453.3h0M69.7 426.2h0M66.0 439.3h0M87.4 409.1h0M79.6 413.9h0M70.9 407.4h0M74.4 443.2h0M75.1 442.0h0M83.1 447.0h0M81.0 445.1h0M85.9 431.0h0M86.4 450.7h0M79.3 451.1h0M82.2 450.5h0M75.0 441.7h0M68.0 438.2h0M79.5 432.6h0M85.2 429.4h0M79.2 454.4h0M70.3 431.1h0M78.7 451.8h0M90.4 432.7h0M78.6 448.5h0M65.5 437.6h0M71.8 414.6h0M77.9 449.5h0M75.5 425.9h0M73.2 440.8h0M77.3 419.4h0M81.7 441.7h0M85.6 442.9h0M71.8 439.5h0M92.7 421.1h0M45.6 425.6h0M98.7 436.4h0M70.0 436.9h0M71.4 440.9h0M59.9 427.0h0M90.8 438.7h0M76.1 441.8h0M58.6 423.7h0M82.7 447.3h0M58.9 405.1h0M77.0 449.4h0M76.1 450.7h0M98.3 428.8h0M89.5 437.4h0M78.3 453.7h0M84.1 443.4h0M84.1 444.4h0M75.5 452.3h0M75.7 433.6h0M82.0 424.7h0M103.4 425.4h0M70.4 442.6h0M87.1 438.4h0M94.7 436.7h0M80.7 436.1h0M80.1 442.6h0M70.5 428.6h0M73.3 422.3h0M85.6 415.4h0M90.7 439.4h0M70.8 428.2h0M80.7 443.3h0M57.5 417.6h0M80.6 440.6h0M59.4 435.1h0M68.7 447.5h0M79.1 454.3h0M84.6 444.7h0M79.8 436.3h0M86.8 447.5h0M63.1 436.7h0M78.6 438.6h0M84.3 441.8h0M81.4 438.1h0M75.5 441.9h0M76.0 448.0h0M87.7 444.2h0M73.9 451.1h0M71.5 420.3h0M82.3 432.5h0M81.5 444.6h0M81.5 402.8h0M64.8 443.1h0M84.7 435.2h0M72.8 414.9h0M90.8 433.5h0M83.0 427.5h0M78.1 450.8h0M82.1 446.0h0M82.8 437.9h0M83.4 430.6h0M73.3 447.8h0M76.9 448.8h0M78.8 445.2h0M76.3 449.3h0M73.4 436.4h0M78.7 437.9h0M65.2 432.8h0M77.9 427.1h0M85.1 422.3h0M76.8 431.2h0M69.8 451.8h0M100.4 432.0h0M86.9 434.7h0M77.7 440.0h0M81.4 451.3h0M86.7 447.9h0M82.6 442.2h0M90.3 416.3h0M83.1 446.5h0M80.3 450.3h0M79.2 446.2h0M75.7 442.8h0M66.5 409.2h0M76.6 447.9h0M83.2 445.5h0M67.9 444.2h0M80.1 432.6h0M71.9 446.7h0M74.3 447.2h0M84.2 442.8h0M63.8 406.9h0M83.0 450.5h0M83.5 442.2h0M71.8 440.3h0M72.4 416.4h0M74.7 452.4h0M77.7 446.6h0M63.5 421.5h0M74.6 447.6h0M76.5 442.1h0M85.0 452.0h0M91.1 434.9h0M69.1 444.9h0M67.4 432.5h0M78.7 447.6h0M90.3 436.6h0M68.9 445.3h0M68.9 446.3h0M74.3 432.4h0M78.1 438.9h0M77.2 440.9h0M70.8 448.3h0M74.8 439.9h0M78.5 410.7h0M77.0 447.6h0M83.1 432.4h0M77.4 445.2h0M77.8 444.8h0M81.3 427.5h0M72.7 434.2h0M75.6 423.9h0M75.5 436.8h0M85.1 452.8h0M75.9 428.9h0M75.2 438.6h0M80.8 429.3h0M90.5 441.7h0M103.4 428.7h0M76.9 435.9h0M69.9 442.7h0M71.0 446.6h0M80.9 428.7h0M98.6 418.1h0M79.0 453.5h0M83.2 444.0h0M87.1 445.4h0M85.9 438.2h0M101.7 420.1h0M81.8 442.7h0M84.6 434.5h0M99.6 411.6h0M94.9 428.1h0M76.9 451.4h0M74.1 451.4h0M73.3 446.6h0M74.2 438.7h0M70.0 436.2h0M73.5 425.0h0M83.8 447.8h0M73.3 446.1h0M83.7 423.7h0M79.8 443.8h0M78.6 439.1h0M97.4 414.7h0M68.6 438.3h0M91.5 432.7h0M72.8 452.9h0M75.9 451.9h0M76.8 447.5h0M60.0 426.6h0M58.6 423.0h0M78.5 442.4h0M80.6 406.8h0M76.3 443.3h0M60.6 414.4h0M77.8 431.2h0M84.5 441.6h0M83.0 442.7h0M72.1 429.5h0M79.4 434.2h0M75.2 440.9h0M66.4 403.3h0M77.9 448.7h0M72.8 443.4h0M56.7 411.8h0M74.2 443.2h0M105.7 416.7h0M86.4 441.1h0M81.6 442.9h0M77.4 455.8h0M74.1 443.8h0M83.1 442.9h0M65.0 416.8h0M82.0 441.9h0M112.6 424.5h0M86.1 447.8h0M79.1 443.2h0M87.8 435.8h0M79.6 452.3h0M90.0 446.5h0M79.8 446.5h0M92.4 430.5h0M72.7 421.3h0M71.2 446.6h0M77.7 450.8h0M74.1 440.5h0M66.9 447.1h0M76.5 435.6h0M85.7 437.5h0M74.9 449.4h0M73.5 444.0h0M82.3 441.3h0M73.2 443.4h0M96.0 432.8h0M57.4 436.3h0M77.0 431.7h0M83.1 450.3h0M79.8 415.7h0M71.2 442.7h0M82.5 422.7h0M78.1 439.8h0M70.8 438.1h0M75.6 434.3h0M74.7 442.2h0M75.2 429.0h0M81.8 421.9h0M89.0 433.7h0M61.6 420.3h0M79.3 447.6h0M69.2 451.9h0M79.2 446.4h0M106.1 418.5h0M75.8 419.9h0M101.3 430.5h0M81.9 440.7h0M89.0 439.6h0M79.1 438.7h0M77.9 443.6h0M97.1 427.9h0M82.9 445.4h0M84.4 442.2h0M63.0 424.8h0M86.9 424.3h0M71.7 448.1h0M79.6 427.1h0M84.6 435.5h0M83.6 423.0h0M64.6 423.8h0M71.2 452.3h0M76.1 453.2h0M73.2 422.2h0M85.2 447.9h0M74.0 436.9h0M70.0 441.1h0M76.0 429.9h0M82.1 446.0h0M82.6 434.9h0M81.8 454.8h0M69.6 432.2h0M56.0 436.0h0M79.9 439.5h0M86.7 431.2h0M76.8 451.5h0M81.3 453.3h0M80.7 422.7h0M94.9 445.1h0M73.7 451.5h0M64.9 427.4h0M77.5 436.6h0M82.4 431.7h0M63.1 437.3h0M67.6 433.5h0M97.8 403.1h0M88.1 440.9h0M70.5 452.3h0M76.4 449.6h0M73.6 433.5h0M71.5 430.0h0M77.0 425.1h0M71.5 450.7h0M72.7 440.3h0M74.5 444.4h0M82.4 443.1h0M73.3 413.2h0M70.0 439.7h0M71.2 452.1h0M83.0 439.0h0M71.6 427.2h0M78.8 431.1h0M77.1 440.2h0M76.9 453.1h0M73.0 437.0h0M66.2 431.8h0M75.8 449.7h0M78.6 452.6h0M91.2 431.0h0M73.8 446.1h0M71.4 444.4h0M86.1 444.9h0M73.4 451.1h0M95.5 406.2h0M81.4 445.9h0M82.2 440.5h0M83.4 422.4h0M71.2 444.6h0M73.2 452.9h0M82.3 434.1h0M85.0 432.9h0M80.9 439.8h0M78.6 434.0h0M72.4 440.2h0M76.5 428.4h0M90.9 430.5h0M76.8 437.0h0M78.9 443.2h0M69.9 445.8h0M74.4 443.5h0M74.8 451.9h0M63.6 434.0h0M62.6 432.1h0M83.3 418.2h0M82.3 445.7h0M78.7 445.9h0M69.9 433.8h0M60.7 445.6h0M67.9 448.3h0M81.7 454.1h0M64.3 445.2h0M71.1 450.6h0M84.6 443.9h0M90.8 445.8h0M70.3 445.3h0M77.0 450.3h0M83.1 420.2h0M70.7 441.6h0M53.5 405.3h0M88.8 431.4h0M80.6 414.5h0M64.8 436.0h0M72.0 441.8h0M76.2 436.4h0M85.9 443.4h0M75.2 445.7h0M77.7 443.7h0M68.9 431.6h0M86.3 449.3h0M73.9 452.4h0M69.3 438.4h0M87.5 440.3h0M86.2 441.3h0M83.2 437.1h0M67.8 438.1h0M75.1 451.3h0M80.2 441.5h0M64.6 438.5h0M69.2 429.0h0M98.0 417.5h0M85.1 418.6h0M70.2 434.2h0M93.4 435.4h0M74.3 440.6h0M61.4 416.4h0M77.5 444.2h0M58.9 418.7h0M81.0 445.8h0M80.8 443.6h0M78.0 453.9h0M77.9 450.1h0M80.5 448.5h0M80.5 452.6h0M95.1 420.6h0M84.4 441.0h0M82.1 427.2h0M79.0 424.1h0M67.2 427.9h0M76.0 449.1h0M78.0 426.4h0M81.6 438.1h0M74.4 406.2h0M66.4 436.7h0M85.3 434.6h0M55.7 421.3h0M78.1 448.3h0M78.4 437.3h0M94.7 416.7h0M80.2 436.3h0M80.1 450.7h0M70.2 445.4h0M83.5 408.5h0M88.2 430.7h0M78.9 449.7h0M94.0 435.8h0M79.2 441.8h0M92.2 433.3h0M78.9 447.4h0M82.2 450.9h0M84.6 451.8h0M93.3 431.8h0M82.9 402.7h0M83.3 449.6h0M69.5 443.7h0M76.5 455.1h0M82.7 453.6h0M86.0 449.9h0M66.0 415.8h0M88.7 413.1h0M85.8 437.8h0M72.7 448.8h0M66.7 446.4h0M69.8 428.1h0M53.5 410.4h0M81.9 453.1h0M80.0 443.5h0M78.4 425.1h0M88.1 435.4h0M80.3 451.6h0M105.5 410.5h0M89.1 437.0h0M88.1 418.5h0M59.5 408.7h0M82.2 447.5h0M92.8 438.6h0M86.8 437.9h0M58.5 415.9h0M87.0 424.8h0M76.1 439.2h0M75.9 440.5h0M78.7 446.1h0M80.0 430.6h0M76.2 441.4h0M93.6 435.8h0M74.9 447.7h0M76.5 450.4h0M89.4 443.7h0M67.1 437.9h0M82.0 449.8h0M76.0 449.1h0M71.6 442.7h0M74.6 447.8h0M81.0 441.2h0M68.2 435.3h0M86.8 443.5h0M79.5 450.8h0M69.8 444.7h0M68.1 405.0h0M67.3 418.0h0M76.9 431.5h0M74.8 453.3h0M86.3 452.3h0M70.3 440.8h0M81.9 448.5h0M55.4 400.6h0M67.0 444.6h0M81.0 438.6h0M81.6 429.2h0M83.9 438.0h0M66.8 446.5h0M74.5 448.8h0M79.0 440.5h0M71.6 430.3h0M91.7 445.4h0M96.4 418.2h0M88.0 443.5h0M80.6 441.5h0M76.3 453.4h0M86.7 441.6h0M76.7 445.6h0M72.9 437.9h0M79.4 451.2h0M70.8 442.8h0M71.9 427.9h0M78.9 441.2h0M79.8 453.9h0M74.0 414.6h0M69.3 436.8h0M69.8 442.0h0M76.1 444.7h0M82.9 441.1h0M89.4 411.4h0M87.3 448.6h0M88.8 420.7h0M104.8 421.1h0M86.7 414.6h0M67.8 419.3h0M88.2 453.2h0M102.2 410.2h0M62.9 424.0h0M71.4 424.3h0M82.1 409.5h0M90.9 412.3h0M80.5 443.2h0M63.8 431.4h0M83.0 427.4h0M69.2 434.5h0M91.3 420.4h0M101.8 427.2h0M106.2 418.3h0M75.8 442.0h0M80.7 427.7h0M82.8 436.2h0M84.5 440.9h0M73.4 417.3h0M79.3 448.9h0M84.8 420.1h0M83.9 455.2h0M51.0 409.6h0M89.7 441.6h0M65.4 445.1h0M70.9 424.0h0M91.3 411.4h0M93.2 414.5h0M79.2 453.7h0M85.5 452.5h0M95.1 411.0h0M86.5 418.5h0M73.3 437.4h0M72.2 454.4h0M67.8 428.1h0M79.8 450.1h0M88.2 436.9h0M72.4 451.1h0M79.4 454.3h0M73.4 443.6h0M93.6 433.6h0M86.5 452.4h0M85.9 429.5h0M90.6 435.2h0M72.0 414.2h0M79.2 445.7h0M85.9 447.8h0M64.7 415.6h0M69.9 439.2h0M73.4 428.2h0M81.6 415.3h0M89.3 416.4h0M59.5 430.6h0M72.4 448.9h0M102.2 419.1h0M79.7 450.4h0M80.9 449.6h0M77.3 450.7h0M64.4 420.9h0M78.1 455.1h0M68.0 440.2h0M52.4 416.1h0M92.9 429.7h0M41.3 428.0h0M88.9 431.4h0M67.7 420.3h0M81.8 451.4h0M77.0 448.4h0M87.8 424.0h0M85.3 442.2h0M83.3 450.7h0M74.8 445.7h0M83.3 443.0h0M73.4 441.3h0M83.0 445.7h0M85.4 428.6h0M75.3 435.6h0M72.2 418.2h0M84.1 446.2h0M60.1 434.3h0M87.5 435.0h0M88.5 449.1h0M69.3 427.6h0M70.1 430.6h0M67.6 446.9h0M78.5 455.8h0M83.5 446.0h0M74.3 443.8h0M83.1 412.7h0M52.1 415.9h0M58.4 421.9h0M82.1 420.2h0M83.6 450.8h0M88.4 451.8h0M71.4 445.2h0M83.3 443.6h0M72.4 412.8h0M80.3 446.4h0M85.7 434.5h0M75.1 444.5h0M53.7 425.5h0M79.3 446.0h0M74.7 446.7h0M88.7 446.5h0M71.6 445.5h0M74.6 424.9h0M82.9 434.9h0M76.6 438.1h0M67.4 451.4h0M71.2 449.2h0M75.2 440.4h0M85.1 446.3h0M83.4 423.1h0M100.3 425.6h0M88.5 445.8h0M101.4 433.1h0M84.3 450.1h0M86.0 442.0h0M86.9 428.4h0M82.5 454.4h0M89.5 415.1h0M68.8 444.3h0M94.9 417.3h0M68.8 432.4h0M94.6 414.0h0M89.9 415.2h0M74.9 439.2h0M70.5 455.8h0M69.2 444.1h0M72.4 409.5h0M68.1 442.9h0M83.4 452.3h0M64.7 409.5h0M67.1 436.1h0M68.6 451.3h0M89.0 420.1h0M71.6 425.6h0M79.3 448.3h0M79.0 450.6h0M83.0 451.5h0M70.5 434.0h0M73.6 454.7h0M75.1 448.2h0M101.4 411.9h0M89.6 434.7h0M65.5 443.4h0M82.2 441.4h0M70.7 422.8h0M87.3 418.4h0M94.6 431.0h0M87.7 451.7h0M70.6 440.7h0M75.2 423.0h0M81.6 426.4h0M80.5 435.5h0M91.8 430.5h0M60.7 415.2h0M89.9 420.4h0M71.5 452.7h0M72.4 455.5h0M80.3 439.7h0M75.9 454.2h0M74.5 432.2h0M116.9 409.5h0M90.3 425.0h0M85.0 438.9h0M100.1 417.8h0M82.9 435.1h0M56.6 433.9h0M74.6 445.2h0M75.8 454.4h0M64.0 447.7h0M82.3 439.2h0M80.7 452.7h0M68.3 420.5h0M74.5 448.3h0M86.2 448.7h0M88.9 422.0h0M80.5 430.1h0M71.7 416.4h0M94.3 426.5h0M72.2 450.7h0M85.3 444.0h0M86.3 442.0h0M78.7 451.7h0M86.0 454.4h0M81.0 431.0h0M79.7 443.8h0M70.6 423.0h0M89.0 427.9h0M82.1 442.3h0M82.0 438.0h0M83.2 450.9h0M88.0 424.7h0M65.8 429.9h0M69.3 434.4h0M68.1 423.5h0M81.4 455.6h0M84.3 446.3h0M79.6 453.5h0M80.6 455.9h0M84.1 450.2h0M85.5 443.1h0M86.2 411.5h0M71.9 452.4h0M83.8 446.7h0M72.6 448.7h0M87.7 431.7h0M64.5 417.3h0M87.6 423.2h0M78.6 453.7h0M69.2 426.7h0M85.1 427.4h0M73.5 448.2h0M81.6 432.9h0M90.7 432.3h0M62.1 432.8h0M83.0 445.7h0M62.1 439.6h0M91.5 435.6h0M96.4 423.5h0M67.9 434.4h0M76.0 451.2h0M64.7 432.6h0M92.9 437.4h0M88.4 440.0h0M54.8 414.4h0M85.4 412.5h0M70.4 420.6h0M84.6 416.5h0M74.2 413.3h0M93.5 438.7h0M85.6 423.2h0M92.1 414.8h0M72.1 455.8h0M102.3 414.9h0M72.0 452.1h0M59.2 409.3h0M42.1 420.2h0M86.7 426.3h0M83.1 413.3h0M94.4 429.8h0M80.0 448.9h0M76.6 454.2h0M85.2 434.0h0M87.9 413.5h0M82.0 434.7h0M74.0 445.6h0M92.8 422.9h0M84.8 446.3h0M83.3 424.2h0M80.6 448.3h0M82.3 430.8h0M75.9 451.7h0M80.5 438.1h0M74.4 451.2h0M90.4 442.2h0M70.6 430.4h0M69.4 434.8h0M89.4 441.9h0M71.9 431.3h0M65.6 437.8h0M70.7 427.1h0M77.4 454.7h0M79.1 448.1h0M89.3 444.5h0M91.7 413.3h0M74.2 451.9h0M73.0 414.3h0M64.6 424.5h0M82.5 453.9h0M53.5 425.3h0M88.2 421.8h0M80.9 444.1h0M80.2 454.1h0M98.0 424.5h0M65.9 432.3h0M84.8 450.2h0M78.8 452.0h0M71.2 441.0h0M71.6 426.3h0M73.5 435.2h0M83.6 443.5h0M84.6 423.7h0M71.9 448.5h0M83.9 451.7h0M61.9 414.4h0M81.1 439.6h0M66.1 415.2h0M80.7 438.1h0M82.1 433.1h0M72.5 454.5h0M84.3 434.0h0M74.3 441.4h0M85.7 424.0h0M71.3 455.5h0M90.9 441.2h0M71.1 435.0h0M72.6 446.0h0M84.5 422.8h0M88.7 452.6h0M81.9 416.8h0M64.7 423.5h0M75.6 441.6h0M81.4 427.2h0M61.8 414.4h0M65.4 414.2h0M85.3 446.1h0M95.7 414.7h0M66.4 428.9h0M75.1 440.9h0M79.7 453.2h0M84.5 419.8h0M62.4 412.6h0M57.5 415.8h0M89.9 446.8h0M81.2 443.1h0M83.3 422.4h0M81.1 446.5h0M80.2 454.4h0M86.2 435.5h0M88.6 427.9h0M56.6 453.8h0M107.0 439.2h0M77.8 450.8h0M82.6 441.3h0M70.7 431.8h0M107.1 448.9h0M68.1 428.8h0M76.0 420.8h0M70.7 426.4h0M30.4 428.9h0M60.1 418.9h0M82.8 417.4h0M86.3 408.4h0M88.6 452.8h0M97.3 407.3h0M71.1 420.9h0M53.6 447.4h0M87.2 451.9h0M106.9 433.8h0M93.5 446.2h0M61.3 441.9h0M99.2 417.5h0M83.9 452.2h0M83.6 451.7h0M82.3 428.8h0M66.6 425.0h0M126.8 449.3h0M78.5 419.9h0M85.0 436.7h0M89.4 448.4h0M71.8 439.5h0M117.4 453.7h0M93.0 434.1h0M66.0 413.2h0M91.4 407.9h0M95.0 432.3h0M85.8 442.9h0M74.8 449.2h0M80.8 435.4h0M63.4 425.1h0M68.7 416.4h0M69.3 450.1h0M61.7 452.6h0M79.1 446.3h0M68.6 407.6h0M82.3 452.8h0M62.6 446.3h0M79.5 426.2h0M85.7 434.7h0M72.2 444.1h0M80.4 446.5h0M66.3 410.3h0M77.2 449.0h0M69.4 421.1h0M77.2 409.5h0M72.1 445.7h0M80.1 412.7h0M100.1 421.6h0M50.8 443.6h0M77.6 452.9h0M70.2 447.7h0M73.5 412.4h0M68.2 409.2h0M82.0 408.9h0M98.8 405.0h0M67.1 440.5h0M65.3 451.7h0M80.5 414.0h0M87.6 451.2h0M64.8 453.3h0M80.5 414.5h0M69.6 453.9h0M105.0 422.0h0M88.3 438.2h0M71.6 453.0h0M51.1 431.7h0M93.5 449.7h0M95.8 405.1h0M53.2 438.9h0M112.9 446.4h0M61.0 452.8h0M57.4 443.1h0M89.3 404.6h0M94.6 423.0h0M104.5 451.3h0M93.8 410.2h0M76.7 415.6h0M64.6 434.6h0M104.8 452.0h0M61.8 445.8h0M61.4 425.8h0M52.5 418.1h0M89.3 424.1h0M102.7 452.8h0M62.8 452.7h0M36.6 433.7h0M83.8 445.6h0M73.7 420.2h0M69.7 436.3h0M67.3 448.6h0M100.8 453.8h0M80.1 428.9h0M70.6 426.0h0M111.7 412.5h0M83.6 414.2h0M95.9 445.5h0M56.3 450.1h0M92.6 405.2h0M90.1 424.3h0M70.5 434.0h0M98.4 419.5h0M67.6 408.3h0M88.3 453.3h0M74.9 432.5h0M64.8 446.6h0M75.5 425.0h0M76.9 442.8h0M78.4 451.8h0M76.6 453.4h0M79.0 433.9h0M59.1 410.5h0M63.1 431.5h0M59.2 420.3h0M73.5 440.1h0M68.3 444.7h0M95.6 403.7h0M90.0 439.0h0M94.6 415.0h0M67.4 453.8h0M69.3 445.5h0M92.0 453.3h0M55.8 422.4h0M45.4 407.5h0M108.2 415.1h0M97.1 446.0h0M101.6 439.8h0M86.6 420.4h0M100.9 419.8h0M37.7 449.6h0M90.6 404.6h0M89.9 418.6h0M93.4 453.9h0M63.4 415.1h0M54.8 417.8h0M76.3 411.7h0M76.9 453.2h0M105.9 435.6h0M76.3 404.7h0M40.8 451.1h0M67.8 449.1h0M54.8 450.6h0M73.8 414.2h0M72.0 413.9h0M57.7 452.8h0M70.9 417.3h0M96.6 416.2h0M65.2 451.2h0M76.1 427.6h0M73.2 430.4h0M69.5 451.3h0M94.9 421.0h0M78.1 453.6h0M87.3 442.8h0M67.0 417.7h0M62.1 437.2h0M62.4 442.7h0M68.6 421.1h0M105.5 437.2h0M100.7 448.0h0M86.9 452.2h0M79.0 432.9h0M85.1 447.9h0M105.6 410.9h0M136.5 452.6h0M85.3 451.8h0M52.4 429.1h0M79.9 414.7h0M68.5 429.6h0M65.5 449.2h0M57.5 428.8h0M41.3 407.9h0M82.8 428.1h0M76.4 436.3h0M86.6 424.2h0M58.5 405.6h0M34.6 431.0h0M72.6 453.8h0M62.6 453.3h0M71.7 416.6h0M90.5 429.7h0M88.7 412.0h0M75.4 424.1h0M97.2 438.1h0M78.1 453.9h0M71.2 407.5h0M70.8 442.9h0M52.3 414.0h0M100.5 440.3h0M79.4 404.7h0M58.2 413.6h0M72.6 444.7h0M74.2 426.5h0M73.7 434.0h0M77.2 425.3h0M97.9 413.2h0M62.3 447.4h0M61.2 447.2h0M108.5 440.4h0M64.3 443.5h0M102.1 444.5h0M72.6 423.0h0M72.7 439.0h0M85.7 418.8h0M105.5 423.4h0M68.5 443.6h0M91.1 435.4h0M85.5 422.9h0M75.2 433.8h0M74.7 435.0h0M77.9 450.7h0M80.1 452.7h0M78.4 451.1h0M74.4 449.8h0M80.4 453.2h0M82.3 452.1h0M78.4 455.5h0M75.7 454.4h0M80.8 455.7h0M79.4 452.4h0M76.2 452.8h0M84.5 448.1h0M74.0 454.6h0M79.3 455.9h0M80.5 455.4h0M73.9 451.1h0M76.9 455.4h0M78.1 451.3h0M77.7 454.9h0M83.1 451.0h0M74.9 452.8h0M78.5 452.8h0M76.0 455.3h0M83.8 452.5h0M76.4 455.3h0M84.7 454.2h0M68.1 450.9h0M78.1 452.4h0M83.3 448.9h0M77.2 453.8h0M79.5 450.9h0M90.7 442.4h0M73.4 448.9h0M81.6 453.8h0M80.7 455.7h0M83.0 451.4h0M76.3 455.8h0M81.2 451.5h0M79.5 453.4h0M78.3 446.9h0M86.2 445.4h0M77.1 455.8h0M75.0 445.3h0M81.0 448.1h0M84.9 448.7h0M76.7 454.5h0M71.9 450.2h0M78.4 450.5h0M87.8 450.9h0M76.7 454.5h0M75.6 454.4h0M79.1 452.0h0M77.1 452.2h0M78.6 450.4h0M84.9 451.6h0M78.9 446.0h0M82.3 451.9h0M78.5 447.9h0M81.1 455.2h0M73.9 446.2h0M76.4 454.1h0M76.7 448.4h0M78.6 455.9h0M80.5 453.0h0M74.2 454.8h0M77.1 456.0h0M81.6 453.6h0M76.0 455.4h0M82.1 452.1h0M78.0 455.9h0M81.9 452.7h0M76.4 454.2h0M82.0 450.5h0M72.5 454.3h0M76.6 450.0h0M85.9 446.5h0M80.7 452.4h0M80.5 455.5h0M76.8 454.0h0M78.2 455.3h0M81.5 452.5h0M76.8 451.2h0M80.5 448.7h0M79.6 454.5h0M78.1 452.6h0M78.1 452.4h0M80.8 454.2h0M74.8 454.6h0M79.4 454.8h0M80.2 452.7h0M73.7 453.6h0M76.5 455.2h0M82.7 451.7h0M79.6 449.1h0M78.0 453.5h0M77.0 455.5h0M86.3 444.7h0M88.2 448.9h0M83.0 449.6h0M78.8 454.6h0M78.6 454.2h0M80.1 453.7h0M76.9 446.3h0M81.7 448.6h0M70.0 452.1h0M77.0 456.0h0M77.6 450.6h0M73.7 452.9h0M78.5 447.4h0M74.8 446.3h0M70.9 450.8h0M82.6 448.9h0M82.5 452.0h0M75.8 453.5h0M78.8 453.5h0M79.8 452.8h0M78.4 452.4h0M80.8 455.9h0M78.8 455.3h0M74.8 454.3h0M71.4 449.0h0M75.3 454.9h0M76.6 452.2h0M68.0 449.2h0M76.4 448.2h0M82.0 454.0h0M77.9 455.6h0M73.7 452.8h0M85.8 441.9h0M77.6 449.7h0M76.9 455.0h0M73.3 442.7h0M81.5 454.6h0M83.5 454.5h0M75.9 451.7h0M73.3 441.1h0M70.6 451.5h0M81.1 454.4h0M76.3 454.1h0M77.8 449.5h0M76.9 454.5h0M78.3 454.9h0M84.2 450.4h0M79.6 453.3h0M81.4 454.0h0M76.3 452.9h0M80.1 453.7h0M78.4 453.9h0M89.7 452.1h0M76.3 446.1h0M81.5 451.6h0M75.3 449.4h0M79.6 455.7h0M74.1 448.6h0M74.8 453.1h0M80.7 455.1h0M82.1 447.8h0M74.2 451.5h0M80.4 450.7h0M78.8 453.3h0M70.0 449.4h0M74.7 452.2h0M80.2 452.3h0M79.1 452.2h0M77.8 451.1h0M84.1 453.2h0M76.3 451.7h0M76.4 445.4h0M79.1 453.0h0M78.9 453.0h0M77.4 455.1h0M77.7 455.3h0M77.2 450.9h0M82.2 453.1h0M71.9 448.4h0M76.3 453.6h0M76.2 454.9h0M73.3 454.2h0M73.7 446.3h0M79.8 448.3h0M74.0 450.0h0M80.5 450.2h0M78.0 453.5h0M75.9 455.3h0M77.0 454.4h0M79.5 450.4h0M76.2 454.0h0M79.4 453.2h0M77.0 451.1h0M74.9 452.6h0M79.0 451.0h0M78.3 455.7h0M73.4 450.5h0M77.8 446.8h0M77.0 452.3h0M83.5 450.3h0M81.8 449.0h0M81.7 450.5h0M75.5 452.5h0M81.7 452.6h0M79.2 451.8h0M81.7 454.1h0M66.9 443.1h0M81.0 455.9h0M80.6 452.9h0M81.0 455.4h0M77.1 453.0h0M77.8 454.2h0M74.4 452.6h0M77.2 455.2h0M76.2 448.4h0M65.7 450.5h0M77.6 448.8h0M80.8 453.3h0M77.1 451.4h0M78.7 452.9h0M85.2 452.7h0M83.3 452.1h0M78.0 451.3h0M76.8 453.4h0M78.5 451.7h0M76.6 455.3h0M76.8 455.8h0M84.8 447.7h0M84.8 452.1h0M75.2 447.4h0M70.4 449.6h0M74.3 452.1h0M78.2 456.0h0M76.9 453.6h0M73.9 453.2h0M76.0 452.1h0M75.4 454.1h0M77.9 451.8h0M75.7 454.7h0M85.5 448.2h0M79.4 451.8h0M77.8 455.2h0M75.8 452.7h0M78.9 453.6h0M79.1 451.7h0M79.0 454.7h0M73.5 455.4h0M78.5 454.5h0M82.0 451.7h0M74.3 446.9h0M76.5 453.3h0M77.6 454.0h0M73.4 454.2h0M76.0 455.6h0M77.2 455.6h0M86.4 452.6h0M77.3 450.7h0M77.2 449.0h0M83.9 449.2h0M81.9 449.2h0M79.2 455.3h0M75.8 450.9h0M88.9 450.6h0M82.2 448.9h0M83.5 453.9h0M80.3 452.2h0M71.7 448.2h0M68.9 452.8h0M82.4 455.5h0M78.2 455.3h0M77.2 450.3h0M79.2 451.7h0M80.4 454.3h0M89.2 448.5h0M80.9 452.4h0M84.3 455.3h0M72.1 452.0h0M72.6 455.3h0M86.5 446.7h0M77.6 455.5h0M77.1 453.8h0M80.9 455.0h0M77.7 453.4h0M79.9 454.0h0M79.9 449.0h0M81.6 451.0h0M84.9 451.5h0M88.7 451.8h0M78.2 455.7h0M74.7 449.8h0M82.8 451.2h0M76.9 454.3h0M78.1 455.0h0M86.6 451.6h0M77.0 451.8h0M78.9 453.7h0M78.6 450.5h0M80.8 455.3h0M84.2 453.7h0M77.6 451.3h0M72.5 447.8h0M68.0 448.8h0M76.3 454.6h0M77.9 455.6h0M78.4 452.1h0M77.1 453.4h0M75.5 448.7h0M80.2 454.3h0M82.7 451.9h0M75.0 454.9h0M78.0 448.1h0M79.2 450.4h0M76.4 452.9h0M80.2 448.7h0M77.6 455.0h0M65.5 447.6h0M76.1 455.2h0M78.9 455.9h0M87.4 446.1h0M77.0 454.7h0M84.1 455.4h0M74.5 449.3h0M82.6 455.1h0M81.8 454.8h0M77.9 453.7h0M81.7 451.3h0M85.4 452.8h0M77.3 454.1h0M80.2 448.1h0M80.3 455.9h0M78.6 455.4h0M77.2 455.8h0M83.5 452.9h0M79.4 454.6h0M87.3 451.3h0M76.0 454.8h0M79.3 454.5h0M78.9 454.8h0M78.6 453.3h0M80.3 451.0h0M75.6 454.2h0M76.6 454.9h0M74.1 453.5h0M82.2 453.4h0M77.4 451.1h0M77.2 455.7h0M77.4 452.9h0M77.9 455.4h0M83.4 449.3h0M74.9 452.0h0M79.3 439.9h0M82.6 452.6h0M80.4 446.6h0M75.3 449.3h0M78.0 453.2h0M73.7 455.0h0M81.8 452.1h0M75.1 454.3h0M72.7 449.1h0M84.1 450.7h0M76.8 455.9h0M82.1 453.0h0M74.2 453.0h0M80.2 450.7h0M80.1 452.9h0M87.3 451.8h0M75.0 451.2h0M76.2 450.5h0M82.0 454.3h0M77.4 452.9h0M78.1 446.2h0M78.7 448.6h0M73.8 450.2h0M79.2 452.0h0M77.2 454.0h0M74.2 451.6h0M78.9 448.2h0M80.5 448.0h0M78.3 452.5h0M73.7 453.0h0M75.3 455.2h0M81.1 452.6h0M73.3 453.5h0M78.0 453.2h0M80.5 453.4h0M77.2 456.0h0M74.4 454.2h0M82.1 447.2h0M72.8 449.8h0M74.6 453.8h0M77.9 451.7h0M84.3 450.0h0M76.9 450.6h0M85.5 446.8h0M79.6 452.5h0M82.3 448.1h0M85.3 450.6h0M73.3 452.8h0M79.3 453.6h0M73.5 449.1h0M80.1 451.3h0M79.8 455.5h0M82.7 449.4h0M77.0 450.9h0M87.4 447.2h0M79.1 447.6h0M78.1 455.9h0M79.6 450.1h0M77.8 453.4h0M74.5 450.1h0M79.6 449.5h0M74.9 452.3h0M79.4 455.3h0M75.1 455.1h0M77.1 453.5h0M68.8 445.1h0M85.6 448.8h0M82.2 453.4h0M80.0 450.4h0M76.7 452.2h0M80.7 456.0h0M76.6 453.9h0M75.1 452.8h0M81.9 450.6h0M79.3 452.1h0M77.9 455.5h0M77.0 449.6h0M77.4 454.5h0M83.1 450.8h0M76.5 446.7h0M86.8 451.2h0M79.2 450.1h0M79.4 456.0h0M82.4 447.7h0M87.5 449.3h0M74.2 450.9h0M75.7 453.6h0M72.7 452.2h0M82.0 451.8h0M73.1 455.8h0M76.1 451.5h0M74.5 453.9h0M77.9 453.8h0M78.4 455.8h0M79.2 451.7h0M80.5 452.7h0M78.7 446.4h0M76.7 447.5h0M80.5 453.8h0M79.8 454.4h0M79.4 455.7h0M82.2 452.2h0M77.1 451.5h0M82.2 450.4h0M74.2 449.6h0M84.4 452.3h0M86.0 448.7h0M77.4 452.1h0M76.9 453.9h0M76.0 455.0h0M84.3 451.9h0M79.6 450.3h0M78.7 452.8h0M75.6 453.5h0M79.0 454.9h0M75.0 455.3h0M74.7 450.9h0M78.7 455.8h0M79.3 452.5h0M77.6 449.4h0M79.9 449.5h0M74.3 449.3h0M81.1 454.9h0M75.8 452.9h0M79.9 445.0h0M84.9 449.5h0M72.0 443.6h0M80.3 455.0h0M74.5 449.7h0M77.9 455.5h0M76.3 455.7h0M78.9 454.7h0M85.9 449.4h0M79.7 450.3h0M80.1 455.4h0M76.8 449.7h0M80.8 449.1h0M74.9 455.4h0M76.7 452.9h0M79.9 447.2h0M73.0 448.0h0M82.5 454.6h0M74.6 450.2h0M78.2 450.5h0M76.0 450.0h0M79.6 444.1h0M78.4 447.7h0M73.1 451.8h0M84.0 449.5h0M81.2 442.2h0M77.0 452.5h0M77.7 455.5h0M78.2 451.4h0M78.7 447.9h0M76.5 455.3h0M80.8 440.8h0M78.8 452.0h0M74.4 452.8h0M82.7 452.9h0M76.9 455.1h0M78.6 453.3h0M72.2 452.3h0M77.7 451.7h0M82.5 449.6h0M77.2 453.9h0M76.4 453.3h0M82.3 455.0h0M78.5 452.7h0M78.1 454.9h0M68.4 445.6h0M75.7 451.4h0M77.4 451.4h0M75.7 449.2h0M71.4 449.5h0M79.6 451.1h0M76.7 450.9h0M78.6 453.3h0M84.9 450.2h0M77.9 454.5h0M77.8 454.6h0M72.8 455.8h0M78.4 453.3h0M79.3 446.7h0M77.6 448.9h0M79.8 453.2h0M75.8 451.0h0M76.4 450.7h0M75.0 450.6h0M81.7 448.8h0M77.8 454.7h0M77.9 454.3h0M79.3 455.4h0M83.6 451.8h0M75.0 452.2h0M76.9 448.3h0M77.2 451.5h0M68.5 449.5h0M75.9 448.8h0M85.9 447.5h0M80.8 452.7h0M77.9 455.0h0M79.9 455.6h0M84.0 454.4h0M83.7 455.4h0M22.9 430.4h0M22.9 429.9h0M22.9 436.8h0M22.9 432.4h0M22.9 442.3h0M22.9 447.0h0M22.9 439.0h0M22.9 427.5h0M22.9 435.7h0M22.9 433.2h0M22.9 439.2h0M22.9 424.7h0M22.9 428.0h0M22.9 441.1h0M22.9 446.1h0M22.9 441.0h0M22.9 423.9h0M22.9 443.3h0M22.9 443.5h0M22.9 436.4h0M22.9 436.2h0M22.9 436.9h0M22.9 420.7h0M22.9 445.3h0M22.9 436.4h0M22.9 447.1h0M22.9 421.4h0M22.9 439.2h0M22.9 445.0h0M22.9 441.4h0M22.9 424.0h0M22.9 433.0h0M22.9 442.2h0M22.9 420.2h0M22.9 428.0h0M22.9 431.9h0M22.9 417.2h0M22.9 426.2h0M22.9 450.2h0M22.9 443.1h0M22.9 443.7h0M22.9 445.8h0M22.9 427.5h0M22.9 430.4h0M22.9 437.1h0M133.7 434.9h0M133.7 424.0h0M133.7 452.7h0M133.7 434.0h0M133.7 451.6h0M133.7 440.9h0M133.7 421.8h0M133.7 452.9h0M133.7 430.6h0M133.7 452.9h0M133.7 432.4h0M133.7 433.8h0M133.7 450.5h0M133.7 420.1h0M133.7 453.1h0M133.7 426.7h0M133.7 438.4h0M133.7 440.9h0M133.7 440.5h0M133.7 445.0h0M133.7 426.8h0M133.7 451.3h0M133.7 426.0h0M133.7 425.9h0M133.7 436.5h0M133.7 440.4h0M133.7 453.7h0M133.7 428.3h0M133.7 451.5h0M133.7 429.7h0M133.7 435.3h0M133.7 433.0h0M133.7 445.0h0M133.7 421.8h0M133.7 420.0h0M133.7 426.3h0M133.7 443.3h0M133.7 422.0h0M133.7 422.5h0M133.7 447.5h0M133.7 417.9h0M133.7 434.2h0M133.7 426.9h0M133.7 443.6h0M133.7 418.5h0" stroke="#cdd6e2" stroke-width="1.3" stroke-linecap="round" fill="none"/>
<path d="M70.9 434.5h0M64.4 423.7h0M61.9 411.0h0M72.7 422.2h0M71.8 426.9h0M45.7 442.1h0M69.0 415.6h0M71.7 402.6h0M67.2 414.0h0M57.0 440.7h0M56.5 425.7h0M74.3 443.1h0M73.6 421.1h0M70.2 416.5h0M74.8 405.5h0M59.6 434.5h0M60.1 411.1h0M60.1 426.3h0M74.3 422.0h0M68.5 407.1h0M76.3 411.4h0M72.2 427.7h0M68.0 428.5h0M51.9 405.1h0M66.2 422.8h0M56.1 438.2h0M22.9 441.3h0M72.5 420.6h0M62.9 411.2h0M66.7 417.5h0M65.1 416.1h0M69.7 425.5h0M67.3 409.3h0M74.9 442.7h0M70.1 411.0h0M72.9 436.6h0M73.4 423.1h0M56.0 409.9h0M56.9 422.9h0M52.5 431.2h0M68.4 418.8h0M72.9 440.4h0M74.1 417.0h0M65.1 403.2h0M74.2 413.8h0M59.6 411.4h0M52.7 401.5h0M75.5 422.3h0M57.6 414.1h0M75.3 435.5h0M66.4 424.7h0M48.4 399.5h0M72.1 442.8h0M74.1 401.0h0M55.9 428.7h0M57.7 419.4h0M61.7 418.5h0M64.0 415.2h0M65.8 435.2h0M46.6 414.6h0M72.8 404.0h0M60.5 406.5h0M75.6 411.8h0M74.6 422.6h0M75.6 425.6h0M75.6 434.7h0M74.8 407.1h0M65.4 406.5h0M63.6 437.3h0M57.0 413.9h0M69.4 425.9h0M72.1 418.0h0M76.4 426.1h0M50.3 403.3h0M66.9 414.8h0M73.0 411.3h0M73.9 424.4h0M71.6 433.9h0M72.8 438.8h0M76.3 409.3h0M59.7 436.0h0M76.5 436.9h0M67.4 406.5h0M68.4 417.6h0M76.5 404.5h0M53.3 432.1h0M71.8 426.0h0M65.3 413.5h0M68.5 422.4h0M76.3 430.2h0M65.6 412.3h0M66.4 412.8h0M65.9 412.8h0M60.0 414.4h0M47.3 439.6h0M67.0 422.1h0M73.5 425.7h0M76.5 434.3h0M64.4 411.7h0M74.2 418.0h0M53.5 399.7h0M59.7 416.3h0M22.9 428.0h0M72.6 440.8h0M57.4 413.9h0M69.4 433.8h0M49.1 424.0h0M71.3 432.7h0M63.1 411.7h0M67.6 419.5h0M64.2 421.1h0M73.6 437.0h0M58.3 401.8h0M74.5 418.9h0M76.2 439.8h0M72.3 427.0h0M63.2 414.5h0M70.0 435.0h0M67.5 414.7h0M70.4 422.1h0M74.7 414.1h0M65.0 423.9h0M75.5 434.8h0M75.8 429.2h0M64.1 423.9h0M67.2 417.4h0M53.9 419.2h0" stroke="#3a7bbd" stroke-width="1.5" stroke-linecap="round" fill="none"/>
<path d="M22.9 432.7h0M48.5 416.5h0M74.9 431.1h0M73.6 420.7h0M76.8 428.4h0M74.2 411.4h0M68.5 423.6h0M74.2 401.5h0M69.0 406.3h0M59.8 410.3h0M48.5 431.6h0M73.8 441.1h0M66.7 420.9h0M72.9 407.5h0M74.9 413.8h0M72.2 415.9h0M61.3 421.3h0M75.7 442.3h0M67.9 429.7h0M54.8 399.3h0M55.7 441.6h0" stroke="#3a7bbd" stroke-width="2.2" stroke-linecap="round" fill="none"/>
<path d="M99.8 405.7h0M80.2 423.3h0M110.5 410.2h0M94.8 405.0h0M83.3 434.3h0M80.1 427.6h0M87.4 419.1h0M90.8 418.9h0M85.0 402.6h0M89.1 413.3h0M87.3 435.5h0M84.5 434.5h0M90.0 424.1h0M80.4 422.6h0M85.0 413.5h0M81.8 406.2h0M90.0 426.6h0M97.7 405.9h0M82.2 433.6h0M89.6 422.2h0M87.6 428.8h0M85.6 403.9h0M82.4 424.3h0M88.1 430.5h0M91.5 415.7h0M85.6 411.7h0M84.3 414.1h0M87.1 427.7h0M91.6 402.1h0M81.0 417.2h0M85.2 421.6h0M99.5 404.8h0M82.8 414.3h0M92.2 409.1h0M92.9 432.0h0M88.7 417.6h0M133.7 423.1h0M94.8 427.2h0M91.5 411.7h0M133.7 440.5h0M102.1 409.2h0M80.7 429.1h0M80.7 435.4h0M88.3 411.7h0M88.8 428.4h0M84.2 439.5h0M90.8 426.0h0M85.3 434.8h0M80.8 418.1h0M84.8 430.4h0M83.7 438.6h0M85.2 419.7h0M90.3 404.0h0M80.7 440.8h0M97.3 436.0h0M80.7 429.1h0M92.9 411.2h0M91.3 412.6h0M81.1 419.1h0M87.0 426.2h0M82.2 415.2h0M87.3 430.0h0M88.8 425.0h0M92.8 423.8h0M89.1 421.1h0M88.6 415.8h0M83.6 433.8h0M101.9 439.4h0M93.3 410.0h0M83.2 424.1h0M98.2 406.7h0M92.8 407.9h0M97.4 402.6h0M84.5 437.0h0M81.0 404.6h0M85.8 415.9h0M90.9 420.9h0M99.3 404.5h0M83.0 429.3h0M85.3 416.7h0M94.4 413.5h0M81.6 430.0h0M88.0 401.2h0M97.6 408.9h0M93.8 417.4h0M93.8 441.1h0M90.1 427.7h0M110.8 431.0h0M89.7 428.9h0M85.6 409.0h0M81.1 442.3h0M96.2 419.1h0M103.7 434.4h0M81.2 443.9h0M85.0 404.0h0M87.6 409.4h0M110.6 421.8h0M91.5 427.1h0M87.6 429.7h0M83.2 436.9h0M81.1 413.5h0M86.6 427.7h0M100.9 426.1h0M83.0 440.2h0M88.3 410.1h0M86.0 425.8h0M83.1 415.6h0M81.1 420.8h0M79.9 414.0h0M86.8 426.9h0M99.2 437.5h0M113.8 413.0h0M82.7 434.8h0M91.4 416.3h0M82.2 423.8h0M87.0 426.3h0M96.2 428.0h0M92.4 405.4h0M133.7 438.6h0M89.6 429.1h0M87.6 420.1h0M81.0 441.2h0M88.9 408.8h0M82.3 415.1h0M83.7 433.4h0M87.0 426.8h0M88.8 419.7h0M85.8 426.9h0M80.7 444.5h0M91.5 427.9h0M85.0 419.9h0M84.0 410.9h0M81.3 442.6h0M92.7 409.2h0M89.4 426.8h0M90.2 409.7h0M83.1 418.1h0M88.0 417.8h0M84.8 422.6h0M88.8 415.4h0M89.4 414.9h0M81.1 435.0h0M82.3 429.2h0M94.2 404.1h0M83.9 419.8h0M81.3 417.8h0M83.8 420.9h0M86.3 403.7h0" stroke="#f04a36" stroke-width="1.5" stroke-linecap="round" fill="none"/>
<path d="M83.6 435.0h0M106.9 411.1h0M82.2 441.2h0M89.6 414.5h0M80.0 437.5h0M81.8 411.1h0M83.8 437.3h0M82.9 425.9h0M106.8 430.3h0M91.9 404.0h0M82.7 425.9h0M82.0 433.0h0M84.3 439.0h0M84.1 410.7h0M82.4 431.0h0M81.6 420.6h0M85.3 408.9h0M92.3 417.6h0M92.9 403.4h0M87.8 433.8h0M89.3 405.1h0M91.5 423.9h0M82.8 432.6h0M84.0 410.7h0M83.4 437.6h0M86.8 416.3h0M85.7 416.4h0M80.9 411.9h0M91.0 424.4h0" stroke="#f04a36" stroke-width="2.2" stroke-linecap="round" fill="none"/>
<line x1="18.3" y1="447.8" x2="138.0" y2="447.8" stroke="#333" stroke-width="0.6" stroke-dasharray="1.5 1.6"/>
<text x="134.4" y="452.8" font-size="5.3" text-anchor="end"><tspan font-style="italic">P</tspan>=value=0.05</text>
<rect x="18.3" y="343.1" width="119.7" height="119.3" fill="none" stroke="#707070" stroke-width="0.85"/>
<line x1="33.3" y1="462.4" x2="33.3" y2="463.59999999999997" stroke="#555" stroke-width="0.5"/>
<text x="33.3" y="468.0" font-size="5.0" text-anchor="middle">−10</text>
<line x1="55.8" y1="462.4" x2="55.8" y2="463.59999999999997" stroke="#555" stroke-width="0.5"/>
<text x="55.8" y="468.0" font-size="5.0" text-anchor="middle">−5</text>
<line x1="78.3" y1="462.4" x2="78.3" y2="463.59999999999997" stroke="#555" stroke-width="0.5"/>
<text x="78.3" y="468.0" font-size="5.0" text-anchor="middle">0</text>
<line x1="100.8" y1="462.4" x2="100.8" y2="463.59999999999997" stroke="#555" stroke-width="0.5"/>
<text x="100.8" y="468.0" font-size="5.0" text-anchor="middle">5</text>
<line x1="123.3" y1="462.4" x2="123.3" y2="463.59999999999997" stroke="#555" stroke-width="0.5"/>
<text x="123.3" y="468.0" font-size="5.0" text-anchor="middle">10</text>
<line x1="17.1" y1="456.0" x2="18.3" y2="456.0" stroke="#555" stroke-width="0.5"/>
<text x="16.0" y="457.7" font-size="5.0" text-anchor="end">0</text>
<line x1="17.1" y1="422.4" x2="18.3" y2="422.4" stroke="#555" stroke-width="0.5"/>
<text x="16.0" y="424.1" font-size="5.0" text-anchor="end">5</text>
<line x1="17.1" y1="388.9" x2="18.3" y2="388.9" stroke="#555" stroke-width="0.5"/>
<text x="16.0" y="390.6" font-size="5.0" text-anchor="end">10</text>
<line x1="17.1" y1="355.4" x2="18.3" y2="355.4" stroke="#555" stroke-width="0.5"/>
<text x="16.0" y="357.1" font-size="5.0" text-anchor="end">15</text>
<text x="78.3" y="474.9" font-size="5.1" text-anchor="middle">log2(FC)</text>
<text transform="translate(10.2,398.0) rotate(-90)" font-size="5.2" text-anchor="middle">−log10(<tspan font-style="italic">P</tspan>=value)</text>
<text x="25.0" y="353.0" font-size="5.15">Sig : 148</text>
<text x="25.0" y="359.8" font-size="5.15">VIP &gt; 1</text>
<text x="25.0" y="366.6" font-size="5.15"><tspan font-style="italic">P</tspan> &lt; 0.05</text>
<text x="25.0" y="373.4" font-size="5.15">log2(FC) &lt; 0 Down</text>
<text x="131.6" y="353.2" font-size="5.15" text-anchor="end">Sig : 177</text>
<text x="131.6" y="360.1" font-size="5.15" text-anchor="end">VIP &gt; 1</text>
<text x="131.6" y="366.9" font-size="5.15" text-anchor="end"><tspan font-style="italic">P</tspan> &lt; 0.05</text>
<text x="131.6" y="373.8" font-size="5.15" text-anchor="end">log2(FC) &gt; 0</text>
<text x="131.6" y="380.6" font-size="5.15" text-anchor="end">Up</text>
<text x="153.7" y="379.0" font-size="4.45" text-anchor="middle">VIP</text>
<circle cx="146.1" cy="384.9" r="0.6" fill="#111"/>
<text x="151.5" y="386.4" font-size="4.45">1</text>
<circle cx="146.1" cy="393.2" r="0.9" fill="#111"/>
<text x="151.5" y="394.7" font-size="4.45">9</text>
<circle cx="146.1" cy="401.4" r="1.2" fill="#111"/>
<text x="151.5" y="402.9" font-size="4.45">17</text>
<circle cx="146.1" cy="413" r="0.75" fill="#3a7bbd"/>
<text x="151.5" y="414.5" font-size="4.45">Significant Down</text>
<circle cx="146.1" cy="421.4" r="0.75" fill="#cfd8e3"/>
<text x="151.5" y="422.9" font-size="4.45">Non-significant</text>
<circle cx="146.1" cy="429.2" r="0.75" fill="#f04a36"/>
<text x="151.5" y="430.7" font-size="4.45">Significant Up</text>
<text x="260.9" y="333.9" font-size="5.1" text-anchor="middle">G-VS-S</text>
<text x="260.9" y="339.3" font-size="5.1" text-anchor="middle">Volcano Plot</text>
<path d="M268.0 426.6h0M230.9 417.4h0M266.0 449.0h0M256.9 434.1h0M267.3 430.9h0M261.4 440.7h0M281.8 426.9h0M261.1 442.8h0M251.8 440.4h0M259.0 443.0h0M268.8 421.9h0M257.4 438.1h0M258.9 444.8h0M265.1 450.8h0M264.2 438.9h0M254.2 439.6h0M284.5 416.4h0M262.4 437.9h0M263.9 443.7h0M271.8 438.6h0M272.4 431.8h0M275.1 410.4h0M263.9 448.7h0M266.0 427.3h0M255.4 438.8h0M259.4 439.5h0M255.6 447.0h0M237.7 436.5h0M251.1 428.3h0M262.2 447.9h0M262.0 448.9h0M255.2 418.2h0M269.8 426.1h0M264.3 444.7h0M273.4 440.2h0M260.9 433.4h0M257.2 433.7h0M263.3 437.5h0M266.8 432.9h0M266.7 412.5h0M262.7 438.1h0M244.0 423.9h0M259.4 438.0h0M276.3 414.1h0M256.1 440.3h0M257.4 450.1h0M250.4 441.6h0M265.6 425.0h0M260.0 438.5h0M248.2 438.5h0M269.4 432.1h0M280.4 421.8h0M264.2 418.4h0M246.5 423.8h0M250.2 426.5h0M256.5 449.1h0M263.3 435.2h0M276.7 426.1h0M265.1 434.0h0M262.2 439.5h0M252.7 434.3h0M256.0 442.0h0M269.7 440.7h0M269.9 437.7h0M252.1 427.1h0M258.5 429.0h0M268.5 407.0h0M251.7 437.8h0M286.1 428.2h0M253.9 427.4h0M259.1 446.0h0M257.2 426.2h0M261.9 437.6h0M269.1 428.2h0M269.7 436.2h0M260.3 440.5h0M257.3 445.5h0M264.9 412.6h0M259.8 450.0h0M275.1 441.1h0M252.5 427.5h0M246.5 415.2h0M257.8 431.4h0M270.5 434.3h0M270.9 416.9h0M262.4 434.7h0M256.9 449.9h0M268.0 420.4h0M254.8 433.6h0M265.2 440.2h0M259.5 447.5h0M254.7 440.5h0M253.6 433.8h0M261.1 444.5h0M263.2 442.2h0M255.8 449.2h0M259.6 425.1h0M257.7 440.3h0M258.5 444.7h0M264.2 426.6h0M262.4 446.0h0M262.4 429.3h0M253.8 435.6h0M258.2 447.9h0M250.0 444.6h0M260.3 430.3h0M260.7 441.2h0M275.6 432.1h0M260.7 442.1h0M253.3 419.9h0M262.9 446.8h0M263.8 428.3h0M271.4 439.3h0M262.2 447.9h0M269.3 442.4h0M258.4 426.5h0M257.0 442.1h0M256.6 437.2h0M265.8 404.7h0M251.1 428.3h0M263.8 417.4h0M262.2 434.1h0M256.4 426.8h0M261.5 444.5h0M264.0 437.6h0M258.7 441.5h0M261.5 444.3h0M265.3 448.9h0M257.0 437.8h0M249.7 434.0h0M259.2 445.7h0M279.5 418.5h0M248.4 442.2h0M272.0 438.0h0M259.6 434.2h0M252.9 444.2h0M253.7 423.3h0M257.5 447.7h0M239.5 436.4h0M253.1 432.0h0M259.4 441.8h0M262.3 441.4h0M277.7 439.9h0M264.3 443.7h0M266.5 436.7h0M263.0 446.0h0M256.4 449.7h0M261.8 437.6h0M256.1 418.8h0M265.8 445.7h0M262.6 446.7h0M257.2 445.3h0M254.1 441.8h0M264.3 441.8h0M259.3 443.1h0M263.5 436.0h0M276.6 416.1h0M249.1 415.3h0M250.1 435.2h0M234.7 418.6h0M258.6 441.1h0M262.5 447.5h0M260.5 441.2h0M265.8 414.8h0M268.5 445.3h0M241.8 427.2h0M260.4 435.7h0M262.3 428.8h0M258.6 431.5h0M256.0 445.7h0M263.0 435.5h0M240.1 431.4h0M265.1 428.2h0M257.1 448.0h0M253.3 448.9h0M262.7 437.0h0M255.6 440.8h0M256.2 416.2h0M274.1 438.4h0M258.2 400.8h0M265.2 436.7h0M257.1 448.6h0M263.4 446.3h0M255.7 410.4h0M246.1 422.5h0M250.1 432.3h0M260.5 443.6h0M262.4 439.7h0M242.2 433.9h0M283.7 407.5h0M240.4 421.7h0M258.1 438.0h0M260.0 422.7h0M262.7 446.7h0M259.2 429.0h0M249.7 416.0h0M259.8 422.1h0M253.4 442.9h0M252.1 437.1h0M248.3 437.2h0M258.5 422.0h0M254.9 439.9h0M268.3 426.6h0M266.1 447.6h0M259.1 404.9h0M253.1 435.8h0M264.9 440.7h0M259.7 429.9h0M254.6 443.6h0M251.5 421.9h0M266.2 447.6h0M246.8 439.5h0M263.2 425.2h0M268.0 446.2h0M265.1 444.4h0M266.2 446.1h0M267.8 417.8h0M245.5 426.5h0M263.9 446.1h0M262.9 437.6h0M271.2 422.6h0M265.7 430.9h0M256.0 445.7h0M270.1 433.0h0M259.1 415.2h0M264.9 433.7h0M253.0 417.7h0M265.8 432.9h0M257.5 411.6h0M264.5 448.1h0M265.1 442.0h0M262.6 446.4h0M266.7 437.2h0M267.9 414.5h0M257.7 449.7h0M263.2 432.1h0M255.0 442.6h0M262.7 446.8h0M249.3 432.5h0M269.4 435.5h0M254.7 449.3h0M275.2 405.7h0M261.6 437.5h0M250.5 444.7h0M266.3 435.9h0M260.8 436.0h0M258.9 434.1h0M258.7 444.1h0M268.1 447.2h0M244.1 405.2h0M262.9 428.0h0M272.9 443.6h0M253.7 441.1h0M267.2 444.6h0M258.3 446.6h0M255.6 437.8h0M261.7 428.9h0M268.8 441.2h0M275.2 433.6h0M261.7 436.1h0M272.2 427.3h0M262.6 448.6h0M258.8 438.6h0M272.5 424.5h0M257.2 437.8h0M246.4 440.0h0M253.3 434.9h0M259.4 430.5h0M254.7 445.0h0M261.3 442.9h0M266.2 438.7h0M260.0 440.8h0M269.8 417.3h0M252.1 437.1h0M265.5 441.7h0M251.1 417.4h0M263.7 406.0h0M259.0 428.6h0M254.2 419.2h0M259.1 447.5h0M271.0 434.5h0M256.8 447.3h0M260.8 415.8h0M261.7 415.4h0M260.0 444.5h0M274.3 443.0h0M252.4 438.4h0M267.9 424.8h0M258.9 445.0h0M251.4 429.4h0M254.8 444.8h0M261.5 424.0h0M259.3 412.2h0M263.8 441.3h0M266.0 426.2h0M259.2 414.1h0M264.4 446.2h0M256.6 448.1h0M260.1 437.3h0M255.3 436.4h0M264.1 419.6h0M259.3 440.0h0M261.2 446.1h0M263.2 429.8h0M271.2 446.0h0M253.0 434.3h0M272.3 431.2h0M260.2 435.4h0M255.3 430.5h0M263.6 432.2h0M266.6 437.4h0M255.1 408.3h0M252.8 435.2h0M257.7 440.6h0M261.4 441.4h0M254.4 445.1h0M293.9 421.5h0M271.1 445.2h0M254.6 446.6h0M254.1 444.2h0M260.9 446.1h0M264.8 448.0h0M257.7 445.5h0M273.2 425.6h0M263.4 440.6h0M258.2 436.0h0M260.9 424.5h0M260.4 400.0h0M257.9 436.0h0M250.5 418.2h0M263.1 420.1h0M256.2 433.1h0M263.1 411.3h0M258.7 431.3h0M270.1 445.6h0M259.2 442.0h0M256.2 424.8h0M254.7 424.4h0M250.6 417.0h0M265.4 417.9h0M246.8 428.1h0M263.1 447.6h0M264.0 434.6h0M251.5 431.9h0M242.7 410.7h0M247.4 427.1h0M288.8 400.5h0M262.1 447.5h0M263.7 446.3h0M262.2 450.8h0M258.1 440.1h0M265.6 422.0h0M259.6 436.7h0M262.0 434.7h0M252.8 421.6h0M240.1 411.0h0M274.0 424.2h0M252.7 435.1h0M256.3 439.2h0M252.6 443.4h0M259.4 446.4h0M263.1 444.7h0M265.1 430.6h0M257.9 447.8h0M265.9 415.6h0M251.7 431.2h0M263.4 435.8h0M256.9 440.2h0M262.2 447.3h0M275.4 428.2h0M250.1 418.4h0M285.0 412.9h0M256.3 422.9h0M260.5 425.5h0M249.1 425.7h0M260.3 435.2h0M269.3 440.7h0M264.8 441.8h0M264.4 446.6h0M259.4 446.4h0M257.9 438.7h0M256.4 446.3h0M248.1 439.2h0M263.4 447.8h0M264.2 440.5h0M253.7 438.6h0M242.2 401.7h0M265.5 427.1h0M246.4 435.8h0M265.9 439.9h0M265.9 427.7h0M265.5 446.0h0M259.6 446.9h0M266.4 448.8h0M258.9 444.3h0M245.9 399.9h0M266.2 426.8h0M267.7 439.4h0M255.4 445.9h0M270.2 437.1h0M250.6 416.6h0M262.1 443.9h0M253.4 441.4h0M265.2 434.7h0M259.5 448.7h0M255.6 432.9h0M262.3 432.7h0M255.3 438.8h0M266.8 444.3h0M263.0 440.9h0M267.9 448.3h0M260.3 442.5h0M264.9 448.9h0M278.5 439.7h0M267.8 447.5h0M260.8 444.1h0M260.1 447.5h0M257.1 450.1h0M258.2 400.8h0M249.4 437.3h0M260.6 440.6h0M266.2 445.6h0M267.6 441.7h0M256.8 403.6h0M254.3 428.4h0M266.8 425.9h0M269.2 428.8h0M261.2 442.3h0M257.4 423.8h0M269.8 442.9h0M258.9 445.6h0M248.0 433.4h0M266.9 426.2h0M263.5 434.3h0M258.1 446.4h0M269.2 431.9h0M253.6 440.0h0M255.2 439.7h0M258.3 434.1h0M257.7 435.0h0M262.0 443.3h0M260.2 432.9h0M263.0 448.9h0M266.9 438.4h0M265.9 442.3h0M257.0 441.4h0M254.4 433.5h0M249.6 433.8h0M257.9 414.0h0M259.3 432.6h0M254.8 439.1h0M271.5 427.1h0M263.1 420.3h0M275.2 426.7h0M244.6 415.9h0M261.8 419.1h0M251.2 434.2h0M266.6 419.9h0M257.8 446.8h0M247.3 411.5h0M255.2 444.8h0M253.1 435.8h0M251.3 439.0h0M257.9 425.7h0M246.6 419.9h0M261.5 424.3h0M259.0 448.1h0M265.2 448.4h0M261.5 440.1h0M275.0 429.6h0M260.6 433.8h0M265.7 444.7h0M254.8 414.2h0M264.8 440.3h0M254.5 433.7h0M260.4 444.8h0M261.6 446.1h0M244.8 417.7h0M254.0 450.5h0M264.0 439.9h0M254.7 435.8h0M262.6 439.8h0M264.4 441.8h0M265.0 431.8h0M256.7 423.3h0M264.1 436.6h0M262.0 423.1h0M268.3 433.2h0M273.6 440.3h0M263.4 448.1h0M263.5 403.6h0M263.9 447.6h0M270.0 443.7h0M250.0 433.2h0M264.7 445.1h0M257.3 447.2h0M259.7 424.5h0M259.3 438.5h0M256.0 444.0h0M260.4 441.1h0M288.3 416.1h0M262.8 446.4h0M249.8 417.5h0M251.5 419.1h0M262.1 443.3h0M262.2 438.5h0M257.2 440.7h0M261.1 448.2h0M258.0 442.5h0M265.2 440.0h0M256.9 432.7h0M247.2 411.2h0M265.0 426.7h0M252.7 443.3h0M260.9 422.1h0M261.8 449.4h0M254.2 438.2h0M237.5 421.0h0M256.3 429.0h0M281.7 427.4h0M259.4 445.0h0M278.6 417.7h0M269.8 441.1h0M259.4 434.1h0M265.7 424.5h0M263.1 428.9h0M246.9 400.0h0M261.2 434.1h0M285.2 415.2h0M276.4 431.7h0M257.0 430.7h0M259.9 445.3h0M265.5 438.5h0M240.5 414.8h0M262.5 445.2h0M278.3 421.4h0M262.0 451.0h0M244.4 418.3h0M262.5 429.0h0M273.7 427.5h0M252.8 427.7h0M252.5 436.5h0M267.9 422.5h0M262.0 438.2h0M265.0 424.4h0M255.4 438.4h0M263.0 422.7h0M259.7 431.2h0M272.1 408.9h0M257.0 423.8h0M259.9 437.1h0M259.1 443.4h0M257.4 432.9h0M265.3 437.8h0M267.0 443.4h0M254.9 441.1h0M268.3 442.5h0M259.2 444.7h0M271.2 426.1h0M261.0 441.4h0M259.3 447.2h0M253.5 428.9h0M249.8 411.5h0M256.4 445.8h0M256.3 399.3h0M265.7 414.7h0M248.4 434.1h0M275.3 434.4h0M260.3 443.8h0M253.0 433.9h0M262.2 440.9h0M267.2 430.8h0M253.3 438.7h0M278.9 438.1h0M263.0 443.6h0M265.4 439.0h0M258.8 422.7h0M264.7 444.9h0M255.1 435.3h0M259.5 413.8h0M269.8 399.3h0M258.2 431.0h0M276.8 415.5h0M253.0 435.7h0M255.5 441.0h0M264.1 450.6h0M225.4 422.0h0M230.2 411.4h0M250.2 433.0h0M258.2 439.8h0M288.9 433.3h0M261.0 447.2h0M260.7 405.5h0M263.7 441.6h0M262.0 444.8h0M266.8 426.8h0M276.6 404.3h0M246.6 418.3h0M247.9 435.9h0M271.7 435.4h0M264.4 426.1h0M268.5 441.6h0M270.8 434.5h0M257.2 440.7h0M258.5 432.5h0M263.5 424.4h0M256.8 437.3h0M259.1 431.0h0M265.0 443.2h0M252.8 439.1h0M257.5 426.1h0M269.0 436.5h0M257.6 431.1h0M257.2 441.7h0M260.6 444.8h0M270.2 434.8h0M263.8 443.8h0M262.7 417.5h0M264.7 443.3h0M260.0 420.5h0M260.2 445.2h0M258.6 446.7h0M268.2 447.6h0M259.5 419.8h0M256.8 426.0h0M261.0 444.8h0M264.5 420.3h0M265.4 422.4h0M262.2 434.4h0M238.9 418.8h0M253.7 433.2h0M262.6 434.1h0M247.7 423.4h0M279.1 426.4h0M268.3 434.2h0M246.3 410.4h0M257.6 443.7h0M257.2 423.1h0M255.8 439.2h0M258.9 431.3h0M254.3 421.3h0M252.1 437.8h0M250.9 437.6h0M268.7 440.2h0M276.5 439.1h0M243.4 436.2h0M257.9 441.8h0M261.0 442.8h0M257.8 445.6h0M255.1 423.4h0M270.7 415.3h0M251.9 421.8h0M257.2 420.9h0M264.4 437.8h0M259.5 448.7h0M267.8 438.8h0M253.5 434.8h0M260.4 436.5h0M262.1 446.3h0M245.4 416.5h0M261.8 444.8h0M267.9 416.6h0M260.5 440.0h0M254.5 435.1h0M273.4 445.3h0M248.1 441.8h0M270.0 435.4h0M256.0 432.9h0M265.0 445.4h0M246.9 412.5h0M261.1 413.8h0M254.1 442.5h0M266.3 448.9h0M260.5 433.2h0M238.3 426.1h0M263.0 418.8h0M260.6 443.2h0M270.1 407.6h0M265.7 436.6h0M276.8 420.3h0M251.5 428.0h0M241.3 412.4h0M263.1 441.1h0M262.6 429.9h0M279.7 435.8h0M258.7 444.6h0M258.1 425.3h0M251.0 416.8h0M281.0 428.8h0M241.7 415.1h0M253.6 430.7h0M261.6 447.3h0M259.5 442.0h0M262.6 449.4h0M259.2 447.9h0M262.9 435.7h0M264.4 447.9h0M261.5 420.1h0M265.3 443.8h0M259.7 445.7h0M255.6 423.8h0M257.2 433.7h0M273.5 433.7h0M259.0 432.5h0M257.7 432.5h0M257.1 442.8h0M247.4 433.5h0M277.9 432.4h0M252.9 434.6h0M260.8 429.0h0M258.0 422.5h0M251.5 425.6h0M265.3 433.5h0M261.4 434.5h0M273.2 408.2h0M247.7 443.3h0M262.6 445.0h0M265.0 445.0h0M253.8 442.8h0M257.7 448.6h0M245.1 431.5h0M258.7 406.3h0M259.5 439.1h0M261.5 425.7h0M258.8 416.7h0M250.8 439.0h0M269.2 425.5h0M253.6 431.5h0M259.7 404.7h0M244.2 432.0h0M266.5 434.4h0M243.5 434.1h0M261.8 435.3h0M277.7 428.9h0M254.1 443.3h0M252.2 435.7h0M271.2 437.3h0M257.0 402.0h0M267.2 435.7h0M250.8 436.8h0M260.1 418.2h0M269.9 422.2h0M268.1 433.5h0M266.1 444.6h0M255.2 449.1h0M267.2 439.9h0M254.0 441.5h0M262.8 445.1h0M256.5 440.5h0M269.9 446.5h0M258.7 420.7h0M265.1 447.6h0M259.0 434.3h0M253.7 437.3h0M254.5 440.2h0M255.9 448.0h0M258.6 436.5h0M266.4 447.3h0M274.5 437.9h0M265.7 446.9h0M261.5 444.1h0M263.5 448.9h0M265.3 433.2h0M250.6 444.9h0M258.3 447.3h0M273.5 440.5h0M252.0 433.1h0M261.3 444.5h0M254.4 431.4h0M267.4 443.2h0M262.8 441.9h0M264.3 447.3h0M274.9 431.0h0M270.4 439.7h0M260.7 436.8h0M241.3 430.8h0M254.3 432.8h0M242.1 425.0h0M268.7 440.3h0M278.4 432.3h0M255.5 442.7h0M254.9 440.8h0M257.4 443.0h0M261.5 445.4h0M266.4 429.2h0M243.4 429.7h0M265.2 439.1h0M256.4 426.6h0M263.5 448.0h0M245.8 436.1h0M258.1 448.6h0M247.9 435.0h0M263.7 443.6h0M256.4 430.7h0M258.7 439.7h0M273.8 436.3h0M270.2 438.4h0M272.7 441.5h0M257.8 441.6h0M257.4 443.7h0M253.6 420.1h0M258.7 430.1h0M248.3 429.3h0M270.6 429.1h0M260.2 435.2h0M256.8 438.7h0M257.6 442.9h0M267.0 448.2h0M269.7 434.2h0M264.8 446.5h0M272.0 414.1h0M262.5 446.7h0M253.6 406.8h0M240.8 418.4h0M231.4 411.6h0M275.8 432.6h0M263.9 445.2h0M267.4 429.6h0M269.8 425.2h0M259.1 438.5h0M253.6 410.6h0M267.1 445.5h0M263.7 429.8h0M255.9 445.0h0M259.0 415.2h0M261.0 440.7h0M256.4 437.4h0M245.6 412.1h0M261.7 431.1h0M258.9 446.4h0M262.6 448.2h0M267.3 441.3h0M234.5 427.0h0M257.3 444.7h0M274.7 443.3h0M263.6 404.3h0M266.9 442.9h0M271.8 423.3h0M257.7 442.0h0M254.8 427.6h0M264.8 448.9h0M259.7 429.3h0M255.5 446.3h0M263.5 443.0h0M261.0 431.3h0M259.3 441.4h0M266.1 448.6h0M259.1 432.5h0M265.1 429.0h0M267.1 436.7h0M284.9 419.5h0M257.1 441.4h0M267.8 421.7h0M268.1 427.1h0M265.1 404.3h0M263.7 423.8h0M258.7 449.0h0M256.3 444.9h0M272.3 432.9h0M256.0 444.2h0M281.8 428.0h0M260.0 447.9h0M269.2 444.5h0M270.5 427.0h0M246.1 418.2h0M259.7 449.1h0M239.3 422.0h0M265.2 437.2h0M262.8 409.4h0M272.0 434.2h0M261.2 446.7h0M284.6 412.4h0M253.3 427.6h0M259.8 438.7h0M254.7 445.6h0M266.0 427.8h0M253.3 447.1h0M259.4 429.0h0M254.6 443.5h0M253.9 421.4h0M261.5 446.2h0M256.7 422.4h0M260.6 440.2h0M273.6 431.3h0M260.5 444.0h0M259.1 446.4h0M272.7 450.7h0M266.2 439.6h0M260.8 450.3h0M274.5 445.5h0M289.4 418.9h0M278.9 425.6h0M252.5 417.6h0M258.1 431.8h0M254.3 431.0h0M268.7 424.2h0M271.4 406.6h0M267.0 438.0h0M259.4 444.5h0M257.8 428.3h0M264.3 442.7h0M264.5 443.8h0M279.8 436.7h0M271.0 416.4h0M269.0 445.2h0M246.8 413.5h0M264.7 444.6h0M253.2 444.7h0M249.2 438.8h0M244.8 423.1h0M244.6 434.3h0M306.3 407.5h0M273.7 431.1h0M258.9 431.2h0M239.4 414.3h0M247.7 444.0h0M256.2 428.7h0M265.9 431.7h0M268.5 437.9h0M256.7 450.2h0M260.1 445.4h0M265.4 451.0h0M260.4 446.0h0M252.6 418.3h0M251.3 424.6h0M248.5 421.1h0M283.3 411.0h0M259.9 451.5h0M259.1 439.8h0M265.8 440.1h0M248.5 437.1h0M261.8 446.2h0M256.9 425.0h0M252.2 426.3h0M253.8 444.2h0M254.6 433.7h0M259.7 442.8h0M256.4 451.2h0M257.0 407.5h0M264.1 435.6h0M274.2 435.5h0M255.5 431.4h0M259.6 444.8h0M270.7 412.9h0M260.0 445.6h0M265.0 439.5h0M256.5 412.7h0M272.8 442.9h0M264.8 444.7h0M254.2 434.0h0M254.2 446.4h0M264.7 440.3h0M265.4 450.7h0M237.3 410.9h0M276.2 424.9h0M252.7 433.1h0M257.7 431.1h0M252.2 441.1h0M257.4 426.5h0M260.0 447.6h0M258.4 448.8h0M245.0 430.0h0M259.0 447.8h0M294.8 409.0h0M253.8 429.8h0M259.3 442.5h0M262.6 442.6h0M257.3 408.1h0M257.5 425.2h0M272.3 437.2h0M269.3 436.5h0M256.4 434.6h0M250.6 437.3h0M266.6 411.8h0M264.3 423.8h0M243.7 409.0h0M248.7 449.5h0M256.6 436.7h0M266.0 440.2h0M253.8 446.8h0M250.8 447.0h0M270.6 407.3h0M266.4 427.7h0M257.1 432.5h0M257.4 423.2h0M258.4 451.3h0M239.4 419.0h0M267.1 440.6h0M257.4 418.4h0M257.1 430.2h0M239.6 406.6h0M269.9 426.4h0M266.5 450.5h0M253.3 421.8h0M254.0 451.1h0M266.9 427.7h0M228.3 407.4h0M254.1 444.6h0M275.1 425.4h0M257.6 431.6h0M275.1 422.4h0M255.1 438.3h0M267.2 418.4h0M265.8 439.1h0M265.2 426.0h0M247.7 419.3h0M265.9 415.3h0M265.0 422.1h0M274.5 440.2h0M271.8 436.5h0M275.0 415.9h0M265.0 432.1h0M281.3 411.9h0M255.3 451.3h0M246.5 408.3h0M241.0 418.0h0M252.0 442.1h0M257.9 447.9h0M262.1 449.0h0M256.0 415.7h0M256.5 444.3h0M293.9 430.8h0M284.8 409.9h0M251.3 433.8h0M260.5 448.4h0M256.6 444.7h0M268.1 451.5h0M248.3 418.1h0M263.2 448.9h0M255.4 415.3h0M268.4 443.3h0M259.1 436.8h0M272.5 407.4h0M258.0 421.1h0M256.0 410.0h0M255.3 447.4h0M267.0 421.0h0M240.5 415.0h0M259.3 444.1h0M256.1 429.6h0M257.3 436.9h0M265.9 415.0h0M253.7 443.7h0M257.7 450.3h0M264.2 448.4h0M265.9 440.7h0M275.8 414.1h0M263.6 451.4h0M272.0 422.7h0M265.5 426.9h0M274.9 447.7h0M257.8 441.4h0M265.5 439.2h0M243.3 408.4h0M248.5 435.3h0M257.7 425.2h0M258.5 423.9h0M281.4 427.9h0M267.1 426.7h0M275.0 408.1h0M265.0 438.7h0M260.3 443.2h0M255.8 449.1h0M264.6 446.1h0M256.8 444.6h0M276.9 410.5h0M257.2 437.9h0M269.4 441.1h0M265.8 446.2h0M253.8 411.3h0M264.0 447.8h0M275.5 423.0h0M256.2 441.5h0M277.8 424.8h0M271.6 434.3h0M267.1 443.4h0M250.9 422.0h0M258.6 447.9h0M246.1 412.7h0M274.5 437.3h0M271.3 411.3h0M254.2 440.5h0M249.2 415.5h0M267.1 435.5h0M256.1 409.1h0M239.2 421.6h0M259.7 447.6h0M283.7 414.6h0M277.0 432.6h0M264.9 411.7h0M257.4 439.9h0M240.2 417.9h0M266.2 420.4h0M236.0 420.0h0M253.4 422.5h0M266.4 449.4h0M262.0 448.0h0M255.7 440.3h0M254.2 427.1h0M272.0 414.7h0M270.3 414.3h0M238.9 422.9h0M263.0 451.3h0M276.2 418.3h0M266.6 429.4h0M244.9 440.9h0M265.0 447.3h0M255.3 436.8h0M267.3 421.2h0M257.3 408.9h0M277.2 417.3h0M267.0 411.8h0M249.2 433.6h0M264.8 445.6h0M262.6 441.4h0M286.1 406.6h0M255.4 436.4h0M258.2 419.3h0M263.5 434.1h0M258.6 430.7h0M259.6 448.2h0M250.6 420.2h0M262.6 449.5h0M252.1 429.9h0M279.1 413.8h0M264.4 435.0h0M238.5 407.6h0M255.2 424.2h0M273.1 441.8h0M246.0 417.5h0M268.6 421.1h0M275.4 417.3h0M263.3 442.7h0M250.7 439.1h0M255.3 439.8h0M256.2 448.9h0M259.1 433.2h0M266.0 421.4h0M259.3 442.5h0M265.4 436.9h0M270.3 435.4h0M252.3 428.9h0M273.2 427.3h0M251.3 436.9h0M266.7 435.3h0M252.5 433.7h0M279.0 430.0h0M252.1 436.4h0M264.6 428.3h0M261.7 449.9h0M263.6 420.7h0M253.7 447.3h0M267.4 444.3h0M249.5 420.2h0M264.0 446.3h0M269.6 437.1h0M263.3 449.8h0M267.9 450.1h0M273.5 411.1h0M250.0 412.4h0M268.0 413.3h0M263.8 451.5h0M282.7 412.8h0M263.5 431.9h0M258.3 441.9h0M265.2 451.2h0M264.7 418.5h0M252.7 432.0h0M267.8 410.7h0M262.5 434.8h0M269.1 429.2h0M272.1 414.8h0M254.1 444.1h0M254.8 448.4h0M266.2 438.4h0M263.7 420.2h0M263.9 430.8h0M251.3 431.9h0M248.3 422.8h0M255.6 434.1h0M248.2 441.9h0M274.1 431.2h0M266.6 432.8h0M262.2 448.8h0M257.1 435.6h0M235.0 407.6h0M256.7 426.4h0M258.9 451.2h0M256.8 450.3h0M258.3 442.0h0M259.0 437.9h0M251.3 415.6h0M271.2 429.6h0M253.3 432.5h0M262.4 446.9h0M261.9 443.2h0M250.0 441.6h0M271.5 431.1h0M271.8 416.3h0M252.0 427.6h0M252.5 449.9h0M252.1 450.5h0M270.5 408.2h0M249.0 445.6h0M260.4 449.7h0M265.0 426.6h0M265.7 423.4h0M266.1 428.0h0M253.1 449.5h0M274.1 441.4h0M260.1 446.4h0M257.7 450.8h0M257.1 448.9h0M265.6 436.4h0M251.5 438.0h0M224.1 445.2h0M251.0 419.4h0M230.0 449.3h0M274.2 428.4h0M238.4 449.3h0M262.6 430.9h0M261.9 428.4h0M284.3 438.1h0M278.3 447.5h0M250.7 445.5h0M254.8 445.6h0M262.6 444.8h0M254.2 447.5h0M249.4 437.2h0M241.1 447.1h0M295.9 428.1h0M265.4 449.0h0M242.2 445.8h0M239.0 405.5h0M269.1 436.7h0M275.4 404.2h0M236.2 420.9h0M264.1 443.2h0M244.5 441.3h0M265.2 446.0h0M284.5 406.9h0M300.3 447.0h0M274.9 418.5h0M260.4 435.3h0M245.1 449.4h0M263.8 432.6h0M260.2 426.5h0M295.4 443.2h0M271.5 426.2h0M243.7 420.0h0M259.7 411.1h0M250.4 419.6h0M262.4 444.8h0M235.8 402.8h0M256.1 443.1h0M227.3 442.3h0M300.4 422.4h0M224.4 447.3h0M256.4 449.5h0M279.6 441.1h0M229.1 423.0h0M246.8 409.4h0M269.4 445.3h0M290.9 444.3h0M254.7 449.5h0M251.4 422.2h0M281.1 448.3h0M269.6 433.3h0M273.8 445.8h0M251.5 409.4h0M276.1 419.9h0M252.4 444.5h0M271.8 428.5h0M262.3 416.9h0M266.2 442.6h0M267.7 444.0h0M245.9 440.0h0M281.5 419.5h0M241.6 428.9h0M233.1 403.5h0M247.6 445.9h0M274.8 445.8h0M243.2 408.6h0M285.1 435.8h0M252.8 430.2h0M271.9 435.7h0M284.3 440.2h0M260.0 430.2h0M223.2 446.4h0M269.5 415.6h0M257.8 449.3h0M276.0 444.3h0M256.0 426.3h0M271.9 447.9h0M254.4 432.0h0M279.0 429.1h0M266.5 417.8h0M271.5 402.1h0M264.2 410.3h0M266.6 401.5h0M228.8 428.6h0M283.6 408.7h0M264.1 413.1h0M261.9 435.3h0M281.6 449.6h0M277.5 446.1h0M259.8 433.0h0M235.8 427.7h0M251.2 440.5h0M254.3 427.0h0M263.7 407.6h0M287.9 426.7h0M267.3 428.9h0M271.8 436.3h0M258.7 438.9h0M262.8 439.5h0M295.0 417.6h0M290.5 404.0h0M261.4 421.1h0M284.2 444.4h0M240.7 428.7h0M247.3 431.3h0M260.8 441.7h0M273.0 433.7h0M252.0 449.1h0M266.2 402.0h0M241.2 409.2h0M286.0 446.9h0M265.2 449.6h0M271.2 445.3h0M243.2 446.7h0M245.3 432.3h0M245.7 423.3h0M241.8 418.7h0M267.9 420.7h0M265.2 436.3h0M254.6 417.7h0M237.2 421.5h0M231.7 424.2h0M275.9 434.6h0M267.3 440.8h0M248.5 428.6h0M270.9 442.9h0M259.8 448.3h0M250.8 434.8h0M246.9 440.3h0M247.5 447.0h0M276.0 434.7h0M272.0 433.9h0M275.6 437.9h0M250.1 444.8h0M286.2 432.3h0M275.3 437.5h0M257.8 423.4h0M234.3 409.7h0M261.4 444.8h0M243.7 435.8h0M260.7 426.1h0M265.4 444.5h0M272.6 436.8h0M255.9 405.4h0M272.9 427.2h0M258.2 426.3h0M267.3 428.2h0M256.8 428.0h0M259.0 416.0h0M240.1 440.4h0M251.9 439.3h0M259.3 419.5h0M287.0 431.6h0M248.3 403.4h0M260.2 449.3h0M248.9 415.7h0M255.8 403.9h0M239.9 445.7h0M248.6 402.2h0M231.4 449.4h0M270.3 441.3h0M258.0 449.5h0M252.1 441.5h0M250.9 446.3h0M232.2 428.6h0M278.7 426.1h0M242.0 434.1h0M262.7 430.3h0M273.2 442.4h0M257.6 426.9h0M250.0 445.6h0M248.6 409.5h0M231.7 437.6h0M268.5 438.8h0M257.3 443.1h0M257.0 440.2h0M264.3 428.5h0M261.0 407.1h0M244.4 423.9h0M259.3 440.4h0M231.8 418.2h0M248.5 424.2h0M262.4 421.9h0M284.1 404.8h0M268.3 449.4h0M276.2 406.6h0M255.6 438.7h0M239.5 442.5h0M267.2 444.9h0M253.3 449.4h0M249.4 442.9h0M280.8 447.6h0M245.8 433.2h0M253.3 414.3h0M255.4 403.3h0M246.3 438.2h0M238.5 444.4h0M247.1 420.1h0M233.1 447.2h0M294.2 422.9h0M260.5 445.5h0M264.6 417.0h0M267.7 431.1h0M270.4 440.1h0M260.3 443.3h0M276.4 420.5h0M240.0 433.9h0M259.1 448.1h0M276.3 421.5h0M245.9 410.9h0M249.3 447.7h0M256.0 444.2h0M255.7 425.2h0M230.0 445.1h0M258.6 440.2h0M251.8 423.8h0M269.9 441.1h0M239.3 448.8h0M258.5 446.2h0M257.7 446.5h0M261.8 448.6h0M260.5 449.1h0M261.0 447.0h0M257.7 448.0h0M260.3 445.7h0M258.7 450.8h0M263.0 449.6h0M254.1 443.9h0M258.2 445.8h0M261.5 451.3h0M259.6 450.2h0M264.6 447.5h0M258.3 446.8h0M262.4 439.8h0M262.2 450.7h0M260.2 444.3h0M256.2 447.9h0M266.2 438.7h0M258.9 449.6h0M257.5 438.5h0M265.2 447.0h0M258.1 448.8h0M263.3 441.6h0M262.8 450.7h0M265.1 449.8h0M258.7 450.0h0M257.0 446.2h0M257.4 449.3h0M261.0 441.9h0M256.2 449.7h0M259.3 443.8h0M264.1 449.7h0M258.6 449.5h0M259.5 446.8h0M257.2 446.5h0M257.3 447.2h0M261.6 448.8h0M257.5 447.5h0M262.4 440.7h0M255.5 450.5h0M262.7 447.8h0M260.2 449.0h0M261.3 450.2h0M263.3 449.7h0M260.1 449.8h0M263.4 447.1h0M261.2 448.3h0M256.3 450.2h0M261.2 449.6h0M264.2 445.1h0M260.9 447.6h0M262.8 445.8h0M257.9 449.2h0M260.1 450.3h0M265.3 450.8h0M262.6 446.0h0M251.3 441.4h0M260.6 448.7h0M263.5 449.9h0M262.5 451.1h0M258.7 450.5h0M264.6 443.1h0M261.9 450.6h0M264.0 449.7h0M262.3 451.0h0M256.7 448.3h0M257.1 450.9h0M256.2 449.6h0M259.3 448.3h0M263.9 445.1h0M260.0 448.9h0M266.6 441.2h0M260.1 445.7h0M262.2 449.0h0M259.3 451.3h0M262.1 450.1h0M259.7 451.4h0M263.3 448.4h0M263.3 442.9h0M259.2 446.2h0M258.1 451.2h0M266.1 446.4h0M261.9 445.3h0M262.2 448.3h0M261.3 450.5h0M259.6 445.1h0M256.0 444.4h0M260.1 446.1h0M260.3 450.6h0M260.2 444.9h0M254.2 446.4h0M258.4 448.4h0M259.7 447.6h0M256.2 450.1h0M255.3 441.5h0M260.1 451.2h0M258.9 448.4h0M258.0 450.2h0M262.2 450.5h0M251.9 443.2h0M255.9 439.6h0M261.3 449.5h0M259.0 450.7h0M260.7 445.9h0M259.5 448.8h0M261.5 451.1h0M260.4 445.6h0M259.8 446.9h0M264.9 447.3h0M257.3 444.5h0M260.8 445.5h0M263.1 445.3h0M257.5 450.3h0M265.3 449.6h0M264.1 449.6h0M263.8 447.9h0M261.0 447.5h0M257.0 450.3h0M262.5 449.7h0M259.6 440.2h0M260.8 450.6h0M273.3 436.5h0M265.8 447.8h0M262.8 450.4h0M258.3 449.5h0M255.2 446.8h0M263.3 443.7h0M260.9 449.8h0M251.5 442.7h0M261.7 450.3h0M266.9 447.9h0M259.7 449.1h0M255.9 444.8h0M260.8 450.8h0M262.0 448.9h0M258.4 446.2h0M266.8 446.2h0M259.7 449.0h0M260.9 447.6h0M260.5 450.0h0M262.6 443.9h0M263.5 446.0h0M255.1 447.5h0M259.9 449.4h0M260.2 446.0h0M265.8 450.1h0M261.1 449.4h0M262.0 450.7h0M263.1 450.0h0M265.9 448.8h0M265.4 450.6h0M264.2 450.0h0M263.1 444.3h0M259.8 450.7h0M260.6 445.0h0M255.8 448.9h0M263.4 447.6h0M258.1 442.2h0M255.6 442.5h0M257.7 451.2h0M262.2 445.7h0M262.2 447.7h0M265.0 448.2h0M263.1 445.2h0M263.6 451.2h0M257.6 450.0h0M258.3 448.2h0M263.5 447.6h0M252.2 448.6h0M256.9 449.0h0M259.3 451.3h0M260.1 445.5h0M261.3 449.3h0M258.6 448.1h0M261.9 449.6h0M264.9 450.1h0M261.9 448.4h0M260.9 450.9h0M256.1 446.4h0M261.0 451.5h0M260.7 439.8h0M259.2 445.9h0M256.0 449.3h0M261.3 447.8h0M263.6 448.5h0M265.1 448.9h0M265.2 451.5h0M262.2 442.4h0M252.7 446.0h0M263.8 443.7h0M265.1 448.1h0M262.0 449.8h0M257.3 447.5h0M268.6 445.5h0M260.3 451.1h0M260.8 450.3h0M267.5 448.9h0M262.2 446.3h0M258.0 449.7h0M262.3 447.1h0M263.4 441.5h0M269.2 449.0h0M258.0 451.1h0M262.0 450.8h0M259.1 449.1h0M257.3 444.9h0M256.4 444.4h0M258.0 447.7h0M265.7 450.0h0M260.3 449.9h0M258.7 445.1h0M262.6 449.2h0M255.4 447.0h0M256.9 446.3h0M260.3 449.6h0M259.5 451.2h0M259.8 443.4h0M265.1 449.8h0M265.2 444.7h0M259.5 444.6h0M258.7 448.0h0M263.0 447.7h0M259.2 450.4h0M263.7 442.3h0M261.2 450.2h0M256.9 441.9h0M258.1 450.8h0M256.5 446.1h0M262.1 448.3h0M258.3 445.3h0M266.2 447.3h0M254.9 442.7h0M262.1 448.8h0M259.6 449.8h0M256.2 447.7h0M257.2 446.8h0M261.5 448.0h0M258.0 446.7h0M253.8 443.8h0M264.6 449.8h0M260.5 450.7h0M265.2 443.7h0M257.6 447.6h0M262.8 445.4h0M261.8 450.7h0M265.5 444.1h0M264.4 450.1h0M260.1 449.3h0M262.5 449.7h0M259.6 447.8h0M258.1 445.9h0M262.0 449.1h0M261.9 451.3h0M263.9 448.9h0M262.7 449.6h0M263.6 445.6h0M258.9 449.7h0M264.7 448.9h0M260.9 447.8h0M262.3 438.4h0M259.8 448.6h0M267.3 442.4h0M261.6 445.0h0M256.7 446.4h0M265.1 450.0h0M259.2 447.9h0M267.7 451.4h0M262.6 451.2h0M260.9 443.8h0M261.1 439.3h0M255.5 444.7h0M264.5 449.6h0M265.6 449.2h0M263.5 445.5h0M261.0 448.9h0M262.3 448.5h0M270.6 445.9h0M261.6 446.2h0M262.9 451.0h0M255.9 443.4h0M256.3 443.6h0M262.0 451.2h0M262.9 447.2h0M261.7 445.4h0M258.9 450.7h0M261.7 451.0h0M257.4 451.3h0M259.5 450.4h0M258.8 444.4h0M264.4 449.1h0M259.2 448.4h0M260.1 445.7h0M263.5 449.5h0M256.1 442.2h0M262.3 446.7h0M269.6 448.1h0M260.6 445.1h0M263.2 446.1h0M264.4 446.8h0M263.4 450.6h0M259.5 451.4h0M265.4 448.5h0M255.7 449.6h0M265.6 447.2h0M261.3 450.3h0M266.6 443.1h0M261.7 448.3h0M254.2 442.6h0M263.1 447.1h0M262.8 442.5h0M263.1 436.7h0M260.7 450.0h0M259.5 449.4h0M259.0 451.0h0M259.0 449.7h0M261.1 449.3h0M262.7 451.3h0M260.3 448.6h0M263.9 450.0h0M256.6 448.8h0M260.1 442.5h0M266.0 441.0h0M260.1 450.6h0M258.9 450.5h0M264.0 443.5h0M259.9 445.4h0M257.4 449.0h0M263.7 448.3h0M263.1 450.4h0M262.6 446.1h0M259.1 450.2h0M257.3 451.3h0M252.4 441.2h0M261.3 441.8h0M263.3 448.0h0M256.4 444.8h0M266.9 441.6h0M261.2 445.1h0M258.7 451.1h0M258.5 448.5h0M263.6 449.9h0M264.6 448.0h0M266.5 444.6h0M258.1 450.8h0M262.8 442.7h0M260.9 446.8h0M259.6 450.3h0M261.4 450.2h0M259.3 445.4h0M262.0 451.4h0M261.7 449.1h0M259.4 449.3h0M257.0 445.8h0M260.2 451.1h0M258.4 451.4h0M265.9 447.4h0M266.7 450.5h0M264.6 444.5h0M260.7 450.6h0M264.7 449.5h0M260.1 448.6h0M260.4 451.3h0M257.6 441.7h0M260.5 447.6h0M260.8 450.1h0M263.4 436.2h0M261.4 449.0h0M261.9 450.7h0M263.8 446.9h0M262.9 443.0h0M255.8 442.9h0M266.7 446.8h0M254.6 447.2h0M268.8 433.9h0M257.4 451.3h0M262.7 450.7h0M256.4 447.3h0M261.6 450.0h0M263.3 445.9h0M263.0 450.7h0M262.2 446.3h0M266.7 440.4h0M258.3 442.7h0M258.2 449.7h0M256.8 449.0h0M261.8 449.5h0M262.1 450.9h0M259.1 448.6h0M263.0 448.0h0M261.7 451.2h0M258.6 445.2h0M268.7 442.1h0M258.4 451.1h0M262.5 444.5h0M262.0 439.8h0M264.6 448.7h0M261.5 446.8h0M268.1 446.0h0M263.9 446.0h0M263.4 443.1h0M261.7 450.3h0M259.8 448.9h0M259.0 448.0h0M263.5 449.0h0M263.3 447.1h0M263.4 448.1h0M260.9 443.0h0M265.2 449.1h0M265.2 449.1h0M257.2 449.5h0M261.1 447.8h0M258.4 435.6h0M265.2 449.3h0M257.4 451.5h0M264.2 444.9h0M259.4 448.3h0M264.8 450.0h0M259.9 449.0h0M260.8 448.5h0M265.3 439.1h0M265.2 447.2h0M264.3 447.7h0M255.7 449.7h0M261.0 445.6h0M257.0 448.9h0M261.1 449.5h0M267.4 444.7h0M255.5 448.9h0M263.8 445.3h0M264.9 449.2h0M259.0 449.0h0M259.1 443.8h0M262.7 446.7h0M260.7 445.0h0M260.4 449.0h0M266.9 447.3h0M258.9 447.5h0M264.1 450.2h0M260.8 450.5h0M258.6 449.3h0M257.3 449.2h0M257.4 450.3h0M261.7 449.2h0M254.9 443.2h0M257.2 450.7h0M261.7 444.0h0M260.3 451.4h0M259.2 445.4h0M258.1 448.6h0M256.0 449.6h0M259.6 445.3h0M264.2 446.2h0M261.0 450.2h0M262.7 446.4h0M259.1 447.9h0M256.0 446.6h0M259.2 450.0h0M257.3 447.0h0M259.4 448.6h0M267.0 447.5h0M261.7 450.7h0M261.8 449.1h0M264.1 444.5h0M262.8 447.4h0M271.9 445.1h0M262.8 451.2h0M261.8 448.9h0M258.3 448.3h0M255.2 445.7h0M262.8 445.1h0M256.9 449.2h0M265.7 448.0h0M261.5 450.4h0M254.6 445.3h0M257.9 451.4h0M257.9 446.4h0M258.9 439.7h0M258.0 449.0h0M259.3 440.5h0M265.1 447.2h0M260.6 446.6h0M257.4 448.8h0M252.9 444.4h0M258.8 442.7h0M256.7 449.5h0M263.0 450.8h0M263.5 451.5h0M260.5 443.8h0M253.8 448.9h0M257.8 449.5h0M267.5 449.3h0M257.0 443.1h0M258.4 446.9h0M254.0 439.8h0M263.2 447.8h0M252.0 442.7h0M260.4 451.3h0M256.6 447.0h0M257.9 451.1h0M256.2 448.6h0M262.5 446.6h0M261.1 449.2h0M257.6 448.4h0M271.8 445.0h0M262.2 448.9h0M255.3 441.6h0M263.5 448.8h0M265.3 449.6h0M257.8 449.2h0M261.3 451.3h0M261.3 449.9h0M258.6 446.8h0M259.5 440.3h0M266.1 448.9h0M262.2 440.3h0M261.4 447.3h0M257.0 448.9h0M258.2 447.7h0M257.8 450.4h0M258.7 449.0h0M263.3 450.2h0M263.8 439.5h0M262.2 450.5h0M263.2 445.5h0M264.6 445.3h0M259.9 451.1h0M261.3 449.8h0M261.4 447.8h0M263.4 440.0h0M262.6 447.5h0M262.2 448.4h0M265.1 440.9h0M259.3 448.8h0M261.8 445.0h0M265.3 444.0h0M264.9 445.5h0M263.6 443.4h0M256.2 449.9h0M259.7 451.4h0M263.9 447.5h0M259.8 445.1h0M263.5 447.3h0M261.6 451.0h0M262.2 449.4h0M249.9 442.0h0M258.5 451.0h0M257.1 449.4h0M261.5 448.2h0M208.7 439.7h0M208.7 433.8h0M208.7 419.3h0M208.7 418.2h0M208.7 447.6h0M208.7 417.2h0M208.7 443.4h0M208.7 415.3h0M208.7 439.2h0M208.7 447.7h0M208.7 435.3h0M208.7 439.5h0M208.7 417.4h0M208.7 434.5h0M208.7 435.4h0M208.7 436.0h0M208.7 420.6h0M208.7 434.9h0M208.7 414.8h0M208.7 422.3h0M208.7 445.6h0M208.7 445.8h0M208.7 440.5h0M208.7 445.1h0M208.7 419.7h0M208.7 442.5h0M208.7 423.3h0M208.7 416.8h0M208.7 433.6h0M208.7 437.8h0M208.7 429.0h0M208.7 414.3h0M208.7 437.8h0M208.7 435.6h0M208.7 425.5h0M208.7 417.9h0M208.7 422.3h0M208.7 442.5h0M208.7 445.1h0M208.7 418.4h0M208.7 445.8h0M208.7 425.5h0M208.7 443.0h0M208.7 418.2h0M208.7 444.5h0M313.3 414.8h0M313.3 433.7h0M313.3 439.6h0M313.3 449.8h0M313.3 437.7h0M313.3 426.8h0M313.3 446.1h0M313.3 446.1h0M313.3 424.8h0M313.3 441.5h0M313.3 428.8h0M313.3 448.7h0M313.3 435.5h0M313.3 441.2h0M313.3 424.5h0M313.3 447.6h0M313.3 439.7h0M313.3 420.9h0M313.3 431.8h0M313.3 435.8h0M313.3 440.9h0M313.3 431.0h0M313.3 445.6h0M313.3 438.3h0M313.3 449.8h0M313.3 422.4h0M313.3 426.8h0M313.3 450.0h0M313.3 442.4h0M313.3 423.8h0M313.3 439.2h0M313.3 437.6h0M313.3 422.4h0M313.3 444.2h0M313.3 428.9h0M313.3 448.9h0M313.3 447.4h0M313.3 442.1h0M313.3 415.8h0M313.3 415.5h0M313.3 426.5h0M313.3 416.0h0M313.3 429.3h0M313.3 449.0h0M313.3 446.7h0" stroke="#cdd6e2" stroke-width="1.3" stroke-linecap="round" fill="none"/>
<path d="M258.4 410.1h0M258.1 406.9h0M250.9 403.8h0M255.0 417.0h0M258.6 438.7h0M247.4 398.4h0M256.9 437.7h0M258.4 434.0h0M251.8 404.5h0M256.1 402.0h0M258.2 427.2h0M255.8 409.6h0M256.9 435.7h0M227.3 430.7h0M243.5 435.9h0M254.5 410.5h0M255.1 422.0h0M256.2 422.4h0M253.6 431.2h0M257.6 428.3h0M258.1 407.1h0M249.8 432.9h0M254.9 433.5h0M259.3 411.2h0M255.5 429.6h0M254.8 413.7h0M254.8 410.3h0M252.2 399.1h0M259.6 434.1h0M250.8 417.7h0M254.1 411.5h0M248.8 407.2h0M258.8 428.8h0M259.0 437.0h0M248.8 419.2h0M253.4 395.6h0M229.8 424.7h0M256.6 397.7h0M259.2 427.5h0M255.4 412.0h0M259.0 439.0h0M256.7 415.2h0M258.5 441.1h0M252.2 422.6h0M252.8 419.1h0M253.7 424.0h0M247.1 409.4h0M247.5 402.5h0M252.3 419.2h0M258.7 428.1h0M246.2 404.4h0M255.8 411.3h0M257.3 402.8h0M257.8 415.1h0M251.0 418.3h0M247.2 405.9h0M258.2 423.2h0M244.8 405.0h0M255.5 424.1h0M256.4 402.4h0M259.0 436.1h0M256.0 423.8h0M233.5 430.7h0M238.8 410.0h0M258.3 437.6h0M256.8 435.3h0M246.7 408.3h0M258.4 439.6h0M257.9 430.5h0M252.4 404.8h0M254.5 416.9h0M257.9 413.1h0M254.0 406.6h0M258.3 438.6h0M253.8 411.5h0M254.4 412.9h0M253.1 409.0h0M256.4 421.8h0M259.3 422.9h0M255.1 411.1h0M257.0 419.4h0M258.1 412.1h0M254.8 410.8h0M249.5 413.1h0M208.7 428.5h0M258.5 439.4h0M256.6 417.1h0M259.6 425.4h0M258.7 433.2h0M255.9 410.8h0M248.2 402.3h0M255.3 414.4h0M248.4 400.8h0M254.3 428.2h0M250.7 398.7h0M253.9 411.5h0M255.9 416.4h0M246.8 410.1h0M254.2 414.3h0M246.6 399.5h0M256.8 398.7h0M257.3 406.0h0M257.3 409.3h0M259.4 420.5h0M252.7 423.7h0M259.1 423.7h0M245.6 398.0h0M258.3 419.2h0M233.4 422.3h0M257.7 414.2h0M254.4 396.7h0M242.9 398.0h0M256.9 407.0h0M255.7 408.0h0M257.8 422.8h0M246.6 414.7h0M230.5 421.8h0M255.2 415.1h0M251.6 414.8h0M208.7 428.3h0M258.6 410.8h0M252.3 407.7h0M248.6 415.8h0M256.8 412.6h0M258.3 411.1h0M256.6 427.3h0M258.8 436.8h0" stroke="#3a7bbd" stroke-width="1.5" stroke-linecap="round" fill="none"/>
<path d="M258.5 418.0h0M258.9 432.4h0M258.6 408.1h0M256.0 429.8h0M257.2 421.5h0M252.3 401.3h0M256.6 404.1h0M254.3 429.4h0M258.3 424.3h0M253.1 424.9h0M254.6 409.9h0M259.3 420.9h0M250.6 397.3h0M255.3 412.7h0M257.2 410.8h0M252.0 414.2h0M256.2 427.4h0M258.1 403.4h0M248.9 418.0h0M258.5 417.1h0" stroke="#3a7bbd" stroke-width="2.2" stroke-linecap="round" fill="none"/>
<path d="M269.1 399.6h0M264.4 429.8h0M267.9 402.2h0M280.2 403.9h0M280.0 410.5h0M264.9 423.1h0M269.1 428.0h0M282.3 427.6h0M272.6 404.1h0M274.9 413.8h0M265.8 437.2h0M277.2 404.8h0M270.4 402.5h0M277.0 402.9h0M277.3 411.1h0M268.2 405.5h0M264.8 401.2h0M287.4 424.6h0M273.0 407.1h0M263.6 406.0h0M265.9 426.8h0M265.8 395.1h0M275.6 412.1h0M276.7 414.2h0M267.7 407.7h0M263.1 426.6h0M273.9 419.1h0M265.5 424.0h0M273.6 399.6h0M266.6 406.6h0M265.4 413.6h0M264.7 439.8h0M265.2 398.9h0M264.8 404.9h0M264.0 431.5h0M272.3 413.0h0M272.6 420.5h0M291.4 433.8h0M264.1 427.6h0M269.3 421.2h0M263.8 441.3h0M265.1 398.7h0M269.8 411.6h0M269.4 421.8h0M275.3 408.6h0M274.5 399.3h0M270.7 396.8h0M266.7 416.1h0M277.5 407.4h0M270.5 427.5h0M263.9 430.0h0M269.5 415.2h0M271.4 423.5h0M264.9 433.4h0M273.0 407.7h0M266.2 403.4h0M278.1 400.9h0M266.1 426.6h0M270.3 423.1h0M276.2 421.1h0M263.3 421.1h0M265.5 409.3h0M266.5 403.5h0M272.1 400.0h0M268.7 398.1h0M278.0 404.0h0M269.2 415.7h0M270.7 426.0h0M264.1 414.8h0M278.8 409.5h0M269.8 396.4h0M271.9 420.0h0M267.9 427.7h0M266.5 412.7h0M265.4 434.4h0M283.1 399.2h0M272.0 410.7h0M263.6 411.6h0M275.9 414.1h0M267.2 434.3h0M283.0 395.5h0M285.0 417.0h0M281.6 399.8h0M279.3 409.5h0M266.9 430.1h0M262.8 437.2h0M265.2 418.7h0M264.4 429.0h0M270.9 403.1h0M263.4 399.0h0M267.0 406.4h0M278.8 407.8h0M264.0 396.1h0M267.4 401.6h0M277.3 404.0h0M276.5 406.6h0M265.9 414.0h0M289.0 418.7h0M275.4 409.0h0M282.9 397.8h0M269.0 426.1h0M264.2 397.4h0M278.4 407.3h0M265.2 399.3h0M263.1 395.0h0M274.3 412.2h0M268.0 421.7h0M269.7 417.6h0M268.1 417.0h0M268.8 424.6h0M274.4 414.7h0M279.7 406.1h0M263.4 433.7h0M266.4 408.6h0M271.8 412.3h0M266.4 425.2h0M272.9 398.1h0M276.7 416.5h0M264.9 418.7h0M265.8 430.0h0" stroke="#f04a36" stroke-width="1.5" stroke-linecap="round" fill="none"/>
<path d="M277.6 397.7h0M285.5 420.5h0M265.8 426.5h0M275.2 411.0h0M269.4 410.7h0M273.0 398.6h0M265.3 394.5h0M279.9 408.0h0M272.6 407.1h0M275.7 407.0h0M266.7 410.1h0M313.3 428.8h0M276.9 407.1h0M264.5 427.4h0M268.7 409.0h0M265.0 423.1h0M266.2 434.7h0M265.5 421.0h0M276.6 414.3h0M283.2 397.3h0M273.6 410.9h0" stroke="#f04a36" stroke-width="2.2" stroke-linecap="round" fill="none"/>
<line x1="203.4" y1="443.3" x2="318.0" y2="443.3" stroke="#333" stroke-width="0.6" stroke-dasharray="1.5 1.6"/>
<text x="314.4" y="448.3" font-size="5.3" text-anchor="end"><tspan font-style="italic">P</tspan>=value=0.05</text>
<rect x="203.4" y="343.2" width="114.6" height="112.8" fill="none" stroke="#707070" stroke-width="0.85"/>
<line x1="218.5" y1="456.0" x2="218.5" y2="457.2" stroke="#555" stroke-width="0.5"/>
<text x="218.5" y="462.4" font-size="5.0" text-anchor="middle">−10</text>
<line x1="239.8" y1="456.0" x2="239.8" y2="457.2" stroke="#555" stroke-width="0.5"/>
<text x="239.8" y="462.4" font-size="5.0" text-anchor="middle">−5</text>
<line x1="261.0" y1="456.0" x2="261.0" y2="457.2" stroke="#555" stroke-width="0.5"/>
<text x="261.0" y="462.4" font-size="5.0" text-anchor="middle">0</text>
<line x1="282.2" y1="456.0" x2="282.2" y2="457.2" stroke="#555" stroke-width="0.5"/>
<text x="282.2" y="462.4" font-size="5.0" text-anchor="middle">5</text>
<line x1="303.5" y1="456.0" x2="303.5" y2="457.2" stroke="#555" stroke-width="0.5"/>
<text x="303.5" y="462.4" font-size="5.0" text-anchor="middle">10</text>
<line x1="202.20000000000002" y1="451.5" x2="203.4" y2="451.5" stroke="#555" stroke-width="0.5"/>
<text x="201.1" y="453.2" font-size="5.0" text-anchor="end">0</text>
<line x1="202.20000000000002" y1="419.4" x2="203.4" y2="419.4" stroke="#555" stroke-width="0.5"/>
<text x="201.1" y="421.1" font-size="5.0" text-anchor="end">5</text>
<line x1="202.20000000000002" y1="387.2" x2="203.4" y2="387.2" stroke="#555" stroke-width="0.5"/>
<text x="201.1" y="388.9" font-size="5.0" text-anchor="end">10</text>
<line x1="202.20000000000002" y1="355.1" x2="203.4" y2="355.1" stroke="#555" stroke-width="0.5"/>
<text x="201.1" y="356.8" font-size="5.0" text-anchor="end">15</text>
<text x="260.8" y="468.4" font-size="5.1" text-anchor="middle">log2(FC)</text>
<text transform="translate(195.1,399.0) rotate(-90)" font-size="5.2" text-anchor="middle">−log10(<tspan font-style="italic">P</tspan>=value)</text>
<text x="209.5" y="352.8" font-size="4.95">Sig : 147</text>
<text x="209.5" y="359.3" font-size="4.95">VIP &gt; 1</text>
<text x="209.5" y="365.8" font-size="4.95"><tspan font-style="italic">P</tspan> &lt; 0.05</text>
<text x="209.5" y="372.3" font-size="4.95">log2(FC) &lt; 0</text>
<text x="209.5" y="378.8" font-size="4.95">Down</text>
<text x="311.6" y="352.7" font-size="4.95" text-anchor="end">Sig : 141</text>
<text x="311.6" y="359.2" font-size="4.95" text-anchor="end">VIP &gt; 1</text>
<text x="311.6" y="365.7" font-size="4.95" text-anchor="end"><tspan font-style="italic">P</tspan> &lt; 0.05</text>
<text x="311.6" y="372.2" font-size="4.95" text-anchor="end">log2(FC) &gt; 0</text>
<text x="311.6" y="378.7" font-size="4.95" text-anchor="end">Up</text>
<text x="332.0" y="378.3" font-size="4.24" text-anchor="middle">VIP</text>
<circle cx="325.1" cy="382.8" r="0.6" fill="#111"/>
<text x="330.5" y="384.3" font-size="4.24">1</text>
<circle cx="325.1" cy="391" r="0.9" fill="#111"/>
<text x="330.5" y="392.5" font-size="4.24">9</text>
<circle cx="325.1" cy="398.6" r="1.2" fill="#111"/>
<text x="330.5" y="400.1" font-size="4.24">17</text>
<circle cx="325.1" cy="409.5" r="0.75" fill="#3a7bbd"/>
<text x="330.5" y="411.0" font-size="4.24">Significant Down</text>
<circle cx="325.1" cy="417.6" r="0.75" fill="#cfd8e3"/>
<text x="330.5" y="419.1" font-size="4.24">Non-significant</text>
<circle cx="325.1" cy="425.4" r="0.75" fill="#f04a36"/>
<text x="330.5" y="426.9" font-size="4.24">Significant Up</text>
<text x="444.5" y="336.6" font-size="5.1" text-anchor="middle">S-VS-H</text>
<text x="444.5" y="342.1" font-size="5.1" text-anchor="middle">Volcano Plot</text>
<path d="M430.5 414.3h0M441.7 456.5h0M431.2 438.5h0M449.4 445.6h0M421.7 422.1h0M439.4 448.2h0M448.7 412.7h0M438.0 451.5h0M449.3 412.5h0M445.6 429.8h0M432.9 447.9h0M461.8 429.2h0M454.7 412.4h0M443.3 431.9h0M450.7 432.7h0M437.4 450.6h0M437.8 444.3h0M441.8 447.6h0M437.1 443.6h0M437.1 442.1h0M446.5 450.3h0M446.4 420.3h0M420.3 427.3h0M450.2 413.9h0M438.4 438.5h0M444.7 420.3h0M442.4 437.7h0M442.4 450.4h0M425.5 442.7h0M445.8 446.2h0M438.0 445.8h0M442.1 442.1h0M451.5 428.1h0M436.7 431.9h0M446.4 441.3h0M422.7 439.3h0M446.2 454.1h0M449.1 442.6h0M437.0 448.2h0M431.8 415.9h0M448.3 437.6h0M444.4 449.7h0M438.2 431.6h0M439.9 451.0h0M432.4 438.8h0M435.8 450.3h0M450.0 451.8h0M427.1 425.4h0M446.2 450.0h0M433.2 416.4h0M452.2 445.5h0M444.7 451.7h0M448.3 429.6h0M442.4 442.3h0M441.1 443.3h0M436.8 434.9h0M451.1 437.4h0M443.6 454.1h0M445.5 449.5h0M449.5 441.7h0M446.8 447.3h0M438.5 449.1h0M443.3 446.7h0M434.4 448.3h0M420.6 441.9h0M461.7 434.7h0M445.8 423.4h0M430.8 427.6h0M440.1 449.1h0M442.5 453.6h0M445.3 450.7h0M443.7 454.0h0M438.5 434.0h0M456.0 422.6h0M443.4 448.9h0M445.5 426.9h0M434.3 428.7h0M444.8 401.2h0M445.8 432.5h0M421.9 426.2h0M445.9 451.4h0M442.5 450.6h0M445.4 454.2h0M437.9 432.6h0M447.3 450.1h0M460.4 441.8h0M433.7 434.1h0M442.0 450.0h0M444.2 448.2h0M430.3 436.6h0M449.7 432.5h0M429.8 425.4h0M445.5 438.5h0M439.4 446.3h0M441.0 442.3h0M442.0 444.6h0M445.7 430.6h0M440.1 442.0h0M425.6 436.3h0M439.6 437.7h0M430.6 432.5h0M435.2 452.4h0M441.0 450.9h0M436.4 437.0h0M471.0 425.9h0M458.6 427.7h0M439.3 443.0h0M429.3 448.7h0M440.7 430.2h0M436.1 450.8h0M429.2 439.1h0M439.2 456.2h0M440.2 454.1h0M442.1 445.6h0M453.0 441.8h0M450.0 442.2h0M436.3 449.6h0M442.2 454.7h0M463.3 439.5h0M440.3 426.7h0M439.3 452.3h0M427.5 439.8h0M422.4 435.2h0M436.7 439.2h0M440.7 420.2h0M441.0 435.4h0M442.6 447.6h0M445.3 422.3h0M464.6 422.2h0M449.5 442.8h0M442.5 448.5h0M450.8 434.9h0M427.6 428.4h0M447.6 430.9h0M448.7 445.7h0M439.2 429.2h0M446.7 446.3h0M440.2 440.3h0M437.5 445.5h0M453.7 436.8h0M438.5 450.8h0M440.7 445.8h0M448.8 441.7h0M423.9 420.9h0M446.7 437.4h0M437.3 436.5h0M434.8 449.4h0M433.8 450.6h0M440.6 437.7h0M444.6 450.0h0M439.6 454.4h0M453.0 425.3h0M437.2 437.7h0M439.1 448.7h0M443.4 427.4h0M450.6 434.1h0M449.6 432.5h0M469.8 421.3h0M449.6 441.4h0M450.3 437.2h0M430.4 442.7h0M453.8 440.8h0M438.4 444.6h0M442.3 433.4h0M409.4 438.5h0M445.5 455.2h0M431.7 431.6h0M426.1 407.9h0M428.4 436.5h0M456.0 438.1h0M433.0 432.8h0M454.3 431.3h0M467.0 408.0h0M439.3 445.9h0M435.9 442.7h0M437.6 448.7h0M415.1 429.2h0M443.6 438.5h0M445.8 453.2h0M440.4 442.8h0M437.6 442.3h0M438.0 448.2h0M449.7 434.2h0M465.9 435.9h0M467.8 427.0h0M443.0 451.9h0M446.9 427.5h0M441.2 433.8h0M430.4 443.7h0M445.8 443.9h0M444.6 444.9h0M442.3 436.6h0M434.5 447.7h0M433.0 432.1h0M452.9 440.0h0M432.2 448.0h0M440.1 445.3h0M442.7 439.8h0M441.8 446.9h0M431.5 444.2h0M436.1 441.0h0M443.9 449.4h0M432.0 432.3h0M438.2 452.5h0M443.3 438.7h0M444.9 453.6h0M436.1 443.0h0M474.0 430.0h0M456.3 429.4h0M440.9 430.5h0M445.6 452.4h0M442.6 444.2h0M428.0 402.0h0M451.5 428.4h0M441.6 431.7h0M444.9 448.7h0M443.3 445.2h0M447.7 413.6h0M446.1 450.7h0M443.4 441.1h0M436.7 446.7h0M436.6 429.6h0M441.9 434.2h0M451.0 451.4h0M449.0 440.4h0M446.7 443.7h0M465.0 426.0h0M446.9 447.8h0M460.7 422.0h0M441.7 455.6h0M443.5 425.4h0M433.6 447.9h0M435.7 455.0h0M425.1 446.5h0M442.8 442.0h0M464.5 429.7h0M434.9 450.7h0M445.5 453.2h0M436.9 433.9h0M440.8 446.1h0M437.5 443.8h0M446.4 441.2h0M444.3 444.2h0M449.2 446.9h0M455.4 403.8h0M435.9 452.0h0M447.2 436.9h0M444.0 403.1h0M443.3 447.2h0M458.8 425.7h0M437.5 454.4h0M428.3 439.9h0M444.1 433.8h0M429.1 429.4h0M441.8 432.6h0M441.4 412.7h0M442.9 450.7h0M448.4 441.0h0M447.2 421.6h0M433.2 440.1h0M442.7 440.7h0M443.3 426.4h0M442.4 444.2h0M439.5 445.6h0M436.6 446.4h0M440.6 446.6h0M449.9 436.2h0M439.5 450.2h0M443.5 449.6h0M463.5 430.1h0M436.1 439.2h0M449.6 449.1h0M445.4 449.3h0M439.4 427.6h0M448.4 454.0h0M447.2 455.4h0M442.6 434.8h0M439.7 450.6h0M435.2 449.0h0M440.4 446.4h0M448.5 432.4h0M432.7 442.8h0M438.0 443.7h0M420.6 417.1h0M445.7 431.9h0M439.2 453.5h0M443.2 451.9h0M443.0 452.6h0M441.9 445.0h0M411.4 407.8h0M425.2 433.1h0M448.1 446.6h0M447.6 442.3h0M439.0 442.3h0M433.9 426.7h0M439.4 454.6h0M431.4 401.3h0M434.7 447.9h0M434.7 440.4h0M444.8 442.3h0M446.1 449.6h0M435.1 449.8h0M445.0 446.9h0M441.4 453.4h0M438.3 448.5h0M457.4 435.1h0M425.2 437.3h0M429.5 437.4h0M427.4 436.6h0M430.8 440.3h0M443.7 430.4h0M447.1 451.0h0M431.4 439.5h0M446.9 416.5h0M440.3 440.0h0M447.2 438.0h0M437.6 444.4h0M439.5 432.8h0M436.6 446.4h0M460.9 410.8h0M445.1 451.8h0M456.3 426.0h0M439.9 428.6h0M438.5 434.0h0M418.5 412.7h0M439.0 445.4h0M439.3 455.0h0M436.0 432.4h0M429.2 438.8h0M443.8 448.9h0M435.5 437.2h0M440.1 450.6h0M424.8 415.8h0M437.2 437.6h0M447.5 452.8h0M441.3 451.7h0M433.7 436.5h0M427.6 444.7h0M449.1 448.2h0M435.4 443.3h0M436.2 441.5h0M442.7 454.6h0M436.9 442.4h0M433.6 439.4h0M443.2 448.9h0M443.6 438.6h0M447.6 442.8h0M435.9 448.3h0M435.0 428.6h0M421.3 430.5h0M441.7 452.7h0M439.4 455.2h0M441.6 445.8h0M441.1 442.1h0M442.7 444.6h0M439.2 444.7h0M438.1 447.5h0M445.8 426.7h0M438.4 454.4h0M440.0 446.1h0M446.0 439.3h0M449.1 436.7h0M435.6 447.1h0M439.5 451.3h0M443.4 427.0h0M444.5 450.8h0M439.3 408.8h0M441.8 449.7h0M436.3 449.0h0M441.1 443.4h0M447.2 444.1h0M436.4 451.3h0M442.3 439.8h0M451.5 447.9h0M438.2 448.8h0M440.1 454.2h0M432.3 430.2h0M445.6 412.9h0M453.2 417.7h0M440.9 456.0h0M448.7 448.1h0M447.2 443.5h0M441.8 420.9h0M446.4 455.9h0M440.3 439.0h0M443.1 439.8h0M448.7 436.9h0M436.5 454.2h0M439.6 446.6h0M435.6 437.6h0M445.8 448.1h0M442.3 447.2h0M437.5 444.3h0M441.6 452.6h0M439.0 449.9h0M437.4 449.3h0M444.1 438.1h0M445.3 440.7h0M429.1 423.8h0M450.6 424.4h0M434.6 439.5h0M441.0 437.4h0M433.9 418.7h0M430.2 443.4h0M427.1 422.1h0M454.4 435.8h0M447.8 409.2h0M424.1 429.9h0M444.7 447.1h0M435.1 448.3h0M449.7 449.2h0M438.0 450.5h0M445.4 440.9h0M437.1 404.6h0M444.8 413.9h0M436.2 416.2h0M433.7 445.7h0M447.8 439.6h0M424.7 433.9h0M449.6 424.2h0M436.9 448.9h0M442.9 437.1h0M452.1 439.8h0M435.1 438.4h0M447.3 425.5h0M441.9 456.3h0M446.7 442.7h0M446.7 430.6h0M471.6 429.0h0M440.8 443.2h0M448.6 442.4h0M442.6 419.1h0M441.4 439.5h0M471.3 411.4h0M435.5 436.1h0M439.1 444.7h0M439.0 423.6h0M450.0 452.3h0M444.6 448.4h0M447.8 451.7h0M436.4 444.5h0M443.2 426.0h0M428.0 445.6h0M442.0 451.3h0M437.9 448.8h0M465.4 399.6h0M438.4 439.6h0M447.2 449.3h0M452.3 427.8h0M443.4 439.9h0M455.0 432.3h0M433.4 427.6h0M444.3 450.1h0M452.2 437.9h0M419.8 437.9h0M441.2 419.0h0M444.3 436.4h0M446.1 425.7h0M440.1 449.7h0M435.5 444.0h0M459.7 429.1h0M435.2 429.8h0M433.0 435.2h0M441.6 454.8h0M440.9 454.4h0M454.3 445.9h0M432.5 430.3h0M453.3 421.3h0M443.5 450.1h0M443.2 428.7h0M446.4 445.4h0M444.7 443.6h0M436.5 419.9h0M461.1 432.6h0M440.9 439.9h0M442.8 445.1h0M432.4 427.1h0M447.3 436.1h0M449.1 418.2h0M443.6 453.2h0M444.9 444.1h0M454.7 432.8h0M427.4 431.9h0M440.1 454.1h0M442.2 450.1h0M439.4 445.4h0M439.4 437.6h0M439.5 431.3h0M439.5 432.3h0M457.3 428.7h0M441.5 452.2h0M441.0 444.0h0M440.1 446.1h0M450.9 443.8h0M443.7 441.2h0M444.7 453.9h0M443.1 447.1h0M451.7 444.5h0M437.5 441.0h0M440.4 442.5h0M445.4 434.7h0M442.0 435.6h0M448.6 446.4h0M462.3 411.1h0M458.0 414.0h0M448.1 443.1h0M434.3 419.8h0M438.4 447.9h0M433.6 449.4h0M443.7 446.5h0M437.8 441.4h0M446.8 419.2h0M443.3 450.2h0M447.7 452.3h0M441.4 448.2h0M443.6 433.5h0M441.9 453.4h0M410.0 405.7h0M440.4 448.5h0M439.4 448.8h0M435.0 444.1h0M446.6 420.7h0M442.3 432.3h0M447.4 441.5h0M430.7 443.4h0M451.2 446.1h0M436.6 452.1h0M443.6 450.8h0M434.4 430.7h0M440.1 441.3h0M437.6 454.5h0M455.0 433.3h0M429.1 440.1h0M428.8 419.3h0M448.8 440.8h0M424.0 445.3h0M436.0 451.0h0M436.7 442.2h0M454.1 439.6h0M428.3 415.8h0M410.9 420.2h0M445.7 440.6h0M435.6 446.4h0M454.3 431.4h0M443.5 437.2h0M474.4 419.8h0M435.2 434.7h0M433.1 448.9h0M448.7 427.2h0M471.8 425.2h0M437.2 424.0h0M445.6 445.9h0M437.8 435.8h0M448.0 452.7h0M418.3 431.4h0M444.9 442.7h0M443.4 423.0h0M442.3 442.3h0M442.2 440.7h0M443.8 434.6h0M438.4 453.6h0M423.3 428.2h0M460.7 418.1h0M429.2 414.2h0M441.8 440.3h0M440.0 447.2h0M439.1 442.5h0M430.5 441.8h0M437.3 409.3h0M451.4 446.0h0M443.8 439.0h0M436.6 441.0h0M456.6 448.7h0M437.0 430.7h0M439.9 439.1h0M446.3 450.5h0M456.9 428.2h0M427.1 435.2h0M444.6 440.2h0M444.8 454.5h0M439.1 422.3h0M440.4 438.4h0M440.4 435.5h0M446.9 448.5h0M440.9 446.7h0M449.7 430.0h0M429.3 420.2h0M432.8 416.1h0M448.8 443.8h0M438.4 450.9h0M435.8 450.9h0M439.1 440.8h0M456.0 440.0h0M450.8 428.3h0M446.0 449.7h0M435.8 450.6h0M434.8 449.2h0M430.6 444.2h0M440.3 455.7h0M430.4 447.1h0M441.5 431.5h0M448.2 448.1h0M434.1 440.1h0M436.1 452.3h0M428.9 445.1h0M436.6 414.6h0M437.8 401.1h0M455.0 443.1h0M449.6 433.8h0M425.0 434.4h0M448.4 442.4h0M443.3 450.4h0M443.3 421.1h0M436.5 451.9h0M437.3 447.1h0M455.0 441.3h0M452.6 448.4h0M446.5 449.2h0M442.7 445.8h0M438.6 424.9h0M425.9 437.0h0M444.8 448.1h0M445.2 440.5h0M440.0 452.6h0M428.3 425.6h0M444.9 440.0h0M447.1 434.9h0M432.9 442.6h0M458.5 437.4h0M446.7 424.7h0M438.2 451.1h0M433.6 442.4h0M442.3 450.8h0M413.9 425.4h0M458.6 421.9h0M462.8 408.1h0M438.1 437.4h0M441.1 440.8h0M448.2 436.9h0M441.7 452.1h0M434.5 454.4h0M452.4 434.6h0M442.3 453.4h0M435.7 444.7h0M442.5 433.5h0M445.4 449.7h0M437.0 454.3h0M444.9 439.5h0M438.3 447.6h0M458.9 437.1h0M429.5 428.7h0M440.3 445.3h0M434.0 451.7h0M435.3 444.3h0M438.4 446.4h0M436.4 443.7h0M445.5 427.5h0M442.3 436.5h0M453.3 440.9h0M444.0 438.7h0M433.5 444.3h0M440.2 439.7h0M443.7 415.3h0M435.5 439.7h0M444.1 437.2h0M444.5 440.8h0M435.6 448.8h0M456.6 437.5h0M443.4 447.1h0M441.9 436.9h0M447.9 431.2h0M442.1 441.4h0M460.9 419.9h0M425.5 406.0h0M440.4 448.7h0M437.2 445.8h0M451.1 445.4h0M445.5 451.6h0M438.9 454.2h0M423.4 413.7h0M444.6 418.5h0M444.8 434.9h0M445.0 423.6h0M436.8 442.1h0M438.7 444.6h0M432.1 424.4h0M438.2 440.9h0M450.3 442.0h0M447.3 449.2h0M440.8 427.5h0M438.8 441.0h0M448.7 439.2h0M448.7 431.6h0M435.5 451.7h0M437.6 450.9h0M439.3 435.9h0M445.2 447.9h0M431.3 407.3h0M459.0 439.6h0M435.5 446.6h0M433.5 451.4h0M451.1 444.3h0M424.5 434.3h0M442.1 453.6h0M440.1 450.4h0M442.1 452.2h0M428.0 408.5h0M446.8 419.0h0M442.5 451.5h0M456.7 420.7h0M443.9 431.1h0M451.9 446.7h0M440.6 420.9h0M439.4 418.8h0M450.3 433.7h0M435.9 429.7h0M444.8 432.4h0M445.1 453.2h0M450.3 427.6h0M439.1 439.9h0M449.6 453.0h0M449.6 443.6h0M438.8 453.6h0M437.0 447.3h0M446.7 448.3h0M440.9 445.3h0M463.3 429.3h0M430.8 433.5h0M430.9 417.6h0M444.5 453.5h0M445.3 455.3h0M445.3 444.3h0M438.5 448.4h0M431.2 438.1h0M424.6 439.4h0M441.0 438.7h0M451.6 421.7h0M436.2 454.3h0M438.4 442.8h0M432.1 443.8h0M438.0 426.2h0M440.9 444.7h0M441.9 454.3h0M427.0 442.0h0M448.8 451.0h0M426.8 427.3h0M446.3 431.2h0M446.0 448.5h0M440.3 452.2h0M445.6 447.1h0M439.1 451.7h0M442.1 440.8h0M427.1 422.4h0M440.8 425.1h0M443.0 432.7h0M447.5 425.0h0M437.7 451.0h0M437.1 452.4h0M449.4 413.1h0M455.6 441.3h0M444.3 447.4h0M440.6 448.8h0M443.2 441.9h0M455.3 419.2h0M427.0 431.3h0M434.3 435.3h0M451.3 439.3h0M427.0 418.9h0M442.0 440.5h0M417.0 417.0h0M446.3 454.2h0M449.2 438.4h0M425.4 442.6h0M448.3 422.3h0M449.9 416.1h0M431.7 450.5h0M445.1 448.7h0M436.5 438.1h0M444.3 448.1h0M439.4 436.3h0M431.8 438.1h0M419.9 429.0h0M448.6 445.7h0M440.0 443.6h0M441.0 441.2h0M444.2 426.6h0M440.2 447.9h0M452.4 445.6h0M442.0 404.6h0M442.7 450.4h0M442.2 410.7h0M434.8 426.0h0M437.9 454.4h0M442.6 454.8h0M442.5 431.0h0M449.7 438.5h0M445.3 443.4h0M434.1 426.3h0M444.2 447.5h0M446.6 433.1h0M448.3 449.6h0M449.1 435.0h0M439.8 447.2h0M437.5 426.4h0M425.5 438.5h0M429.5 426.0h0M436.0 445.5h0M445.8 448.0h0M441.1 452.1h0M448.5 438.0h0M456.8 413.4h0M458.3 446.6h0M446.3 448.3h0M444.0 445.1h0M444.3 448.5h0M431.5 426.2h0M442.9 456.4h0M432.4 443.4h0M443.1 428.0h0M437.7 439.8h0M449.5 434.2h0M447.9 435.5h0M447.0 436.8h0M458.0 436.5h0M448.8 447.5h0M452.7 438.7h0M413.5 432.0h0M453.7 434.7h0M433.1 428.1h0M443.8 448.7h0M452.4 434.3h0M453.9 425.9h0M447.4 434.8h0M430.2 434.0h0M441.4 430.5h0M434.9 451.9h0M441.9 450.2h0M443.1 449.7h0M461.5 421.0h0M442.8 436.2h0M436.5 449.3h0M426.8 437.3h0M450.3 448.7h0M443.9 455.1h0M453.0 436.2h0M452.3 429.4h0M436.4 437.1h0M424.9 433.1h0M431.8 437.9h0M429.0 445.2h0M451.0 428.7h0M450.5 428.4h0M436.0 452.9h0M439.7 449.0h0M441.3 440.8h0M441.3 449.1h0M441.4 438.4h0M444.6 411.8h0M424.4 406.0h0M451.0 420.2h0M460.5 433.6h0M469.3 428.3h0M440.3 455.6h0M443.1 446.4h0M452.3 443.1h0M446.5 442.8h0M445.8 431.5h0M442.1 452.0h0M449.6 447.5h0M446.8 435.7h0M438.9 435.4h0M440.0 451.3h0M438.9 448.2h0M430.1 424.4h0M439.9 444.9h0M444.8 447.2h0M439.1 446.4h0M442.4 422.2h0M442.0 436.7h0M445.6 407.9h0M431.9 420.8h0M439.3 442.0h0M432.2 434.8h0M452.9 424.5h0M429.3 416.4h0M437.7 428.3h0M453.2 439.9h0M458.4 412.4h0M434.1 447.4h0M433.1 435.7h0M431.2 420.3h0M448.5 440.6h0M438.9 430.6h0M435.9 433.9h0M450.7 426.2h0M449.7 452.7h0M460.0 411.8h0M430.9 414.7h0M450.0 432.1h0M436.5 450.1h0M477.3 410.5h0M449.6 424.2h0M442.3 452.8h0M434.4 448.8h0M453.3 424.7h0M453.0 419.6h0M438.3 439.6h0M445.8 421.2h0M459.7 424.0h0M448.4 446.2h0M430.6 429.2h0M423.9 425.2h0M451.1 452.4h0M429.4 439.6h0M437.5 451.5h0M439.3 431.7h0M438.1 420.7h0M454.5 447.0h0M429.7 441.3h0M433.6 454.7h0M438.0 456.7h0M445.3 423.6h0M444.7 448.0h0M458.1 414.6h0M435.4 436.6h0M428.3 421.5h0M445.5 447.2h0M442.3 451.2h0M456.0 425.1h0M450.2 446.4h0M431.4 454.1h0M419.8 418.9h0M446.8 427.3h0M439.2 429.0h0M418.2 419.5h0M437.2 445.7h0M466.4 426.3h0M439.9 447.2h0M450.3 432.6h0M445.5 451.7h0M448.7 448.7h0M453.1 420.5h0M433.3 426.4h0M444.7 429.6h0M451.6 433.5h0M453.9 445.4h0M434.5 448.1h0M446.1 444.0h0M427.7 430.5h0M443.5 441.9h0M442.1 454.5h0M438.4 420.2h0M430.1 416.9h0M438.7 435.8h0M437.2 413.4h0M454.2 428.1h0M415.8 424.7h0M448.0 425.3h0M434.8 425.1h0M434.4 434.2h0M451.1 446.7h0M452.4 446.4h0M443.5 448.0h0M443.6 454.8h0M446.7 455.2h0M458.5 409.8h0M432.5 423.4h0M436.4 431.1h0M436.5 453.0h0M443.4 456.4h0M436.1 454.2h0M446.5 443.1h0M431.9 428.9h0M436.0 450.6h0M456.1 411.2h0M443.2 447.4h0M446.2 456.0h0M438.5 452.2h0M439.2 451.8h0M434.0 428.5h0M443.7 448.4h0M445.7 429.9h0M453.9 434.4h0M438.6 445.3h0M454.4 421.9h0M445.8 428.6h0M433.5 442.2h0M437.2 446.0h0M429.1 429.0h0M419.9 423.7h0M437.2 436.7h0M459.2 417.5h0M430.9 431.6h0M430.8 439.6h0M432.2 434.6h0M435.7 450.3h0M464.7 431.0h0M440.0 455.9h0M434.4 445.8h0M460.2 411.8h0M443.7 437.6h0M454.9 417.9h0M435.9 416.7h0M445.2 441.7h0M433.4 448.1h0M430.4 432.1h0M431.7 428.5h0M458.7 409.9h0M451.3 443.7h0M451.6 447.0h0M443.8 446.3h0M447.1 432.9h0M449.0 412.6h0M455.5 436.0h0M448.9 441.8h0M452.4 446.0h0M427.2 420.6h0M450.9 450.8h0M450.5 425.6h0M456.7 442.9h0M436.0 435.9h0M439.4 456.4h0M452.2 431.5h0M439.2 446.8h0M452.1 440.2h0M422.0 435.6h0M438.8 451.7h0M442.3 451.0h0M437.0 426.9h0M448.5 415.8h0M424.9 427.4h0M437.1 456.5h0M452.2 441.1h0M430.7 433.8h0M446.0 445.0h0M443.5 446.9h0M435.1 441.4h0M447.5 420.6h0M444.2 455.0h0M416.1 413.2h0M433.4 414.4h0M424.1 429.1h0M448.3 422.7h0M431.2 429.5h0M451.3 423.1h0M442.9 450.1h0M451.2 440.9h0M437.0 455.4h0M437.4 453.9h0M433.8 420.8h0M438.1 451.6h0M445.5 456.5h0M435.2 423.4h0M443.3 448.0h0M430.8 440.4h0M453.4 436.1h0M447.0 438.3h0M446.6 446.4h0M436.0 413.2h0M436.2 422.3h0M423.0 435.5h0M433.0 432.9h0M448.9 453.4h0M461.1 413.3h0M449.1 449.4h0M434.3 433.3h0M446.1 425.1h0M457.2 426.7h0M456.0 410.8h0M439.6 453.6h0M443.4 453.0h0M448.5 434.0h0M444.9 430.5h0M430.7 425.2h0M442.7 454.2h0M440.1 456.1h0M427.2 436.7h0M447.6 449.4h0M430.4 454.5h0M435.0 443.2h0M432.6 437.3h0M449.1 450.5h0M436.0 438.2h0M440.9 456.4h0M451.6 435.9h0M440.8 453.3h0M434.7 422.8h0M450.3 430.3h0M467.6 420.8h0M436.3 410.0h0M437.8 439.1h0M436.8 429.8h0M420.9 444.4h0M417.8 418.0h0M423.7 413.7h0M448.3 448.9h0M431.0 416.5h0M435.3 454.5h0M453.5 442.2h0M444.4 442.2h0M441.9 455.9h0M434.7 426.2h0M443.3 445.6h0M438.8 444.3h0M448.3 456.0h0M414.7 413.0h0M446.3 445.1h0M459.8 426.6h0M439.4 438.3h0M439.2 454.2h0M439.9 454.7h0M463.7 427.1h0M444.8 429.4h0M436.3 450.9h0M451.4 437.2h0M450.7 453.0h0M448.1 442.4h0M446.2 452.8h0M446.9 447.5h0M443.8 443.4h0M469.8 426.5h0M448.4 455.4h0M444.3 449.3h0M438.8 432.1h0M446.6 430.4h0M449.5 455.0h0M446.0 437.1h0M432.2 420.6h0M427.5 442.7h0M444.0 454.2h0M452.1 443.6h0M439.6 452.7h0M437.9 413.0h0M438.4 420.0h0M437.0 423.5h0M435.3 414.9h0M447.1 450.7h0M446.0 427.2h0M437.8 447.8h0M434.6 439.8h0M447.0 413.1h0M444.8 442.7h0M441.6 455.8h0M451.4 422.7h0M436.6 432.9h0M447.0 420.8h0M450.6 429.3h0M429.1 451.7h0M432.8 429.9h0M446.9 438.1h0M431.3 421.3h0M422.0 431.1h0M444.5 436.7h0M445.0 451.4h0M449.6 442.9h0M450.7 428.3h0M456.9 419.0h0M452.1 418.4h0M447.2 446.6h0M431.2 414.8h0M456.9 420.4h0M440.0 448.8h0M449.8 438.3h0M454.5 444.8h0M430.2 442.8h0M445.2 432.7h0M456.9 448.7h0M451.7 425.9h0M433.8 455.8h0M437.5 434.8h0M443.3 453.5h0M444.5 447.1h0M427.1 435.3h0M436.6 452.4h0M427.7 415.8h0M443.1 454.7h0M431.9 428.8h0M430.2 429.4h0M438.3 441.7h0M446.7 443.9h0M464.7 429.0h0M441.2 456.7h0M447.4 455.4h0M452.5 439.8h0M450.8 432.0h0M453.5 454.3h0M448.5 421.3h0M438.3 435.6h0M443.6 431.9h0M440.1 456.7h0M453.3 413.9h0M437.5 449.1h0M457.6 428.8h0M435.1 436.6h0M462.2 421.0h0M435.2 452.3h0M442.4 452.2h0M433.3 455.8h0M455.3 434.2h0M447.4 425.7h0M438.8 441.3h0M450.3 433.8h0M426.5 417.5h0M436.3 449.8h0M446.1 451.2h0M426.9 437.4h0M443.1 455.1h0M427.0 419.2h0M430.9 439.1h0M452.1 422.6h0M439.4 456.2h0M416.2 429.9h0M440.1 450.2h0M438.5 410.2h0M438.2 442.5h0M445.3 426.9h0M450.8 446.3h0M459.5 421.1h0M409.4 410.9h0M434.2 444.6h0M432.8 416.6h0M441.9 451.0h0M444.1 425.9h0M442.0 443.2h0M434.3 425.6h0M457.2 417.2h0M433.8 432.8h0M457.0 443.2h0M442.0 449.7h0M436.9 451.1h0M442.3 412.6h0M465.0 430.7h0M468.4 412.7h0M453.3 406.2h0M444.0 454.1h0M439.1 454.6h0M434.1 426.3h0M413.7 452.0h0M442.3 444.5h0M420.1 407.7h0M460.2 444.5h0M407.2 452.3h0M441.3 431.0h0M439.3 439.5h0M445.3 449.9h0M443.5 438.2h0M433.1 451.4h0M420.9 407.5h0M442.2 441.2h0M421.5 444.3h0M451.7 453.0h0M442.9 452.3h0M447.0 414.1h0M448.0 443.1h0M448.3 449.3h0M433.2 454.4h0M423.8 429.5h0M450.0 437.4h0M469.1 446.9h0M446.6 427.7h0M449.1 454.3h0M441.5 454.6h0M437.8 453.6h0M424.4 416.3h0M439.6 431.2h0M462.1 446.2h0M406.2 451.0h0M442.4 452.9h0M444.1 435.7h0M451.0 454.3h0M442.9 422.6h0M433.2 451.3h0M432.2 411.7h0M397.0 443.7h0M426.0 446.4h0M442.8 424.8h0M444.8 415.8h0M455.3 431.0h0M432.8 431.4h0M439.1 406.9h0M446.8 432.7h0M448.0 427.8h0M460.8 448.5h0M468.3 440.9h0M448.3 449.0h0M442.8 437.4h0M442.1 440.9h0M474.2 417.6h0M455.5 450.8h0M411.4 427.8h0M442.0 446.2h0M428.7 454.0h0M453.1 436.2h0M446.8 443.5h0M445.4 439.1h0M439.9 454.5h0M451.7 405.8h0M432.1 413.3h0M416.2 450.9h0M450.0 407.0h0M419.6 451.7h0M428.0 418.2h0M434.6 442.2h0M425.5 445.7h0M456.8 416.9h0M419.3 445.8h0M433.5 452.2h0M457.2 426.4h0M442.8 404.9h0M441.4 442.3h0M473.4 414.2h0M453.7 450.5h0M418.4 427.3h0M444.2 440.4h0M450.0 442.7h0M463.1 452.6h0M446.0 434.5h0M433.0 449.3h0M454.6 452.8h0M423.9 451.9h0M418.7 454.6h0M435.4 443.8h0M437.5 422.4h0M426.9 415.3h0M453.6 447.4h0M447.1 439.7h0M441.5 453.8h0M457.7 432.3h0M430.1 453.4h0M441.5 417.0h0M426.3 418.9h0M410.7 406.8h0M468.6 451.0h0M439.9 414.9h0M462.2 451.7h0M432.8 448.4h0M426.5 454.4h0M455.8 417.2h0M458.3 431.8h0M476.6 434.4h0M438.3 440.4h0M408.5 418.0h0M437.4 424.8h0M456.1 447.0h0M437.0 448.9h0M434.8 435.9h0M449.1 426.8h0M435.8 426.4h0M452.8 406.2h0M401.6 440.7h0M449.3 421.6h0M428.9 454.5h0M446.3 434.0h0M433.1 449.8h0M439.7 452.3h0M456.6 442.8h0M431.1 444.6h0M454.1 451.8h0M418.5 405.9h0M454.8 454.5h0M456.2 439.6h0M451.2 450.8h0M455.3 418.5h0M457.4 443.2h0M430.3 448.1h0M470.3 447.6h0M431.1 436.6h0M435.6 411.3h0M421.4 415.9h0M456.0 451.7h0M436.4 453.4h0M430.1 431.1h0M459.5 449.8h0M462.4 454.5h0M408.0 436.7h0M460.2 450.6h0M445.0 426.4h0M427.9 416.9h0M418.8 449.2h0M417.6 444.8h0M468.9 446.0h0M446.3 451.1h0M431.6 452.5h0M455.2 411.5h0M449.9 441.8h0M439.5 427.6h0M435.8 447.0h0M423.8 426.4h0M446.2 413.2h0M399.7 454.5h0M454.8 445.1h0M425.3 406.7h0M450.3 407.6h0M458.6 437.7h0M445.1 408.0h0M445.3 454.1h0M449.5 409.9h0M454.9 452.9h0M455.1 437.5h0M423.5 434.8h0M451.6 443.5h0M439.2 445.7h0M434.8 436.9h0M425.7 454.3h0M437.1 446.2h0M457.4 423.1h0M427.3 432.6h0M455.6 421.3h0M442.1 436.8h0M429.0 426.6h0M448.6 454.6h0M431.8 425.4h0M470.2 405.6h0M455.0 453.2h0M457.5 443.7h0M454.1 452.0h0M407.5 451.6h0M463.0 435.3h0M453.0 408.3h0M411.8 417.6h0M484.9 424.5h0M469.4 444.4h0M437.2 451.3h0M451.8 453.3h0M430.7 454.5h0M424.0 449.0h0M433.4 445.3h0M449.4 442.9h0M445.2 444.1h0M429.5 453.3h0M461.4 452.7h0M465.7 442.6h0M471.4 447.5h0M437.5 452.2h0M446.1 451.3h0M436.8 452.3h0M444.2 453.6h0M441.5 456.2h0M440.4 456.5h0M444.3 452.4h0M437.6 449.5h0M444.9 455.3h0M442.0 454.6h0M441.1 444.4h0M438.3 448.0h0M440.3 454.0h0M443.5 452.7h0M441.8 450.3h0M440.7 449.9h0M446.4 453.3h0M442.0 453.6h0M452.0 451.8h0M439.8 456.0h0M446.7 455.8h0M441.6 456.2h0M442.5 454.0h0M434.8 453.9h0M443.9 454.1h0M438.7 452.2h0M442.7 456.7h0M438.4 448.3h0M443.2 453.5h0M441.9 456.2h0M443.6 446.5h0M443.3 453.5h0M436.7 453.0h0M441.1 455.5h0M440.7 455.9h0M443.3 451.5h0M443.0 453.1h0M438.0 448.1h0M450.4 441.4h0M440.3 450.6h0M441.7 452.6h0M442.5 448.0h0M444.9 455.3h0M445.0 450.0h0M447.6 453.3h0M441.2 456.2h0M440.9 444.6h0M437.1 456.4h0M440.6 444.1h0M440.7 453.4h0M441.2 451.1h0M439.3 452.3h0M445.7 448.6h0M447.6 449.0h0M443.6 445.3h0M444.7 452.4h0M435.8 452.8h0M444.4 454.3h0M438.8 456.1h0M441.7 451.7h0M441.7 452.3h0M438.4 450.4h0M447.5 447.5h0M444.1 456.3h0M433.8 447.2h0M437.7 453.3h0M439.4 447.3h0M449.7 445.1h0M438.6 455.7h0M438.5 456.6h0M435.9 454.8h0M439.1 452.1h0M434.2 449.2h0M440.2 456.0h0M443.2 455.5h0M437.8 451.1h0M439.3 453.5h0M441.6 449.5h0M439.9 449.2h0M439.8 444.7h0M445.7 454.1h0M439.2 452.7h0M441.7 445.0h0M445.5 446.1h0M441.7 446.2h0M444.3 456.2h0M441.4 455.3h0M435.7 453.4h0M441.6 447.9h0M441.1 455.1h0M440.4 452.4h0M435.4 448.8h0M443.8 453.7h0M439.6 454.3h0M442.5 456.6h0M440.4 452.9h0M442.1 456.2h0M442.6 454.3h0M442.5 456.6h0M446.1 448.3h0M442.5 453.2h0M445.2 450.7h0M444.1 455.2h0M436.4 453.9h0M436.8 453.5h0M445.9 452.3h0M444.2 450.1h0M439.9 456.7h0M442.9 454.1h0M446.5 446.4h0M441.2 454.0h0M445.2 449.9h0M434.9 449.8h0M438.1 454.5h0M441.6 455.0h0M441.9 456.1h0M446.2 447.7h0M439.3 452.6h0M446.2 452.1h0M444.0 451.7h0M442.1 456.4h0M440.0 449.0h0M437.2 454.0h0M449.2 454.3h0M442.5 449.5h0M438.9 455.3h0M443.6 450.3h0M442.3 453.0h0M442.1 452.3h0M451.8 447.5h0M440.6 450.6h0M440.8 455.5h0M448.1 455.3h0M440.6 455.8h0M440.3 453.5h0M438.4 450.7h0M437.3 451.9h0M444.1 455.7h0M438.5 455.1h0M443.1 452.5h0M444.0 455.5h0M438.1 453.6h0M436.7 452.0h0M443.1 456.6h0M442.2 444.2h0M442.7 452.0h0M442.6 450.8h0M443.6 448.2h0M432.6 448.0h0M443.2 444.5h0M439.9 455.5h0M446.6 453.9h0M438.5 455.7h0M442.0 453.6h0M438.0 453.5h0M437.8 451.9h0M437.9 455.7h0M443.4 455.4h0M443.4 454.9h0M438.6 454.8h0M442.4 454.8h0M434.7 448.7h0M439.0 451.0h0M433.4 452.5h0M441.6 456.6h0M442.9 456.2h0M445.7 456.4h0M441.2 455.1h0M438.0 451.3h0M445.9 453.1h0M441.7 446.5h0M442.0 453.0h0M437.4 446.3h0M442.4 449.2h0M443.2 446.7h0M435.9 452.0h0M442.9 456.5h0M444.4 444.7h0M437.9 449.8h0M438.8 452.0h0M438.2 451.2h0M446.7 452.4h0M442.1 455.6h0M443.5 453.3h0M446.2 454.3h0M449.9 447.3h0M451.4 443.7h0M440.1 449.7h0M444.5 455.0h0M445.1 452.0h0M443.6 454.7h0M450.4 450.2h0M445.2 452.1h0M441.9 452.3h0M444.5 453.1h0M438.6 455.4h0M438.2 446.5h0M444.0 453.8h0M437.5 455.3h0M438.7 454.8h0M432.2 447.4h0M443.3 452.8h0M437.6 451.8h0M438.0 453.6h0M438.1 452.4h0M444.4 454.8h0M443.9 452.2h0M439.9 451.8h0M441.6 449.8h0M441.8 456.5h0M437.3 453.0h0M442.1 453.5h0M443.4 449.0h0M441.8 444.9h0M444.9 455.8h0M438.2 454.4h0M442.9 451.8h0M443.1 452.3h0M435.7 453.1h0M445.5 456.4h0M436.4 450.2h0M440.3 454.8h0M437.2 447.8h0M439.6 455.6h0M441.4 449.8h0M433.3 448.8h0M441.0 449.8h0M440.7 454.1h0M437.2 456.2h0M444.1 449.4h0M444.0 450.2h0M443.6 455.7h0M445.4 456.2h0M439.5 455.6h0M438.8 454.7h0M443.0 449.5h0M441.0 447.9h0M437.8 448.2h0M443.7 448.8h0M436.9 453.0h0M439.4 454.9h0M440.2 448.3h0M442.9 455.0h0M442.1 456.0h0M442.0 456.2h0M441.2 455.8h0M439.1 456.3h0M439.0 445.7h0M441.9 456.3h0M438.6 455.5h0M439.7 455.8h0M446.1 453.0h0M442.6 456.3h0M440.4 451.8h0M442.8 450.1h0M437.5 454.4h0M441.4 448.7h0M439.0 456.3h0M443.1 456.0h0M441.8 455.8h0M442.8 454.1h0M445.8 454.4h0M442.1 456.5h0M439.0 453.6h0M439.5 456.0h0M449.1 449.6h0M438.3 454.0h0M440.6 454.7h0M443.6 450.7h0M436.1 452.9h0M439.7 452.5h0M443.0 454.9h0M435.5 446.0h0M448.2 451.5h0M441.9 448.0h0M439.5 456.0h0M443.3 456.3h0M435.4 450.3h0M448.0 443.5h0M432.9 446.8h0M438.9 448.0h0M442.7 454.4h0M441.0 456.5h0M446.3 447.9h0M436.3 453.7h0M440.9 455.9h0M442.5 443.0h0M447.0 446.8h0M442.5 454.5h0M449.1 455.9h0M438.6 448.3h0M439.7 455.6h0M433.0 442.6h0M447.7 452.3h0M442.7 455.6h0M440.9 446.1h0M435.6 452.1h0M440.9 445.5h0M440.2 446.9h0M438.2 443.3h0M443.9 454.2h0M439.6 455.4h0M445.7 453.6h0M447.6 454.2h0M446.6 454.1h0M446.9 455.2h0M445.0 451.1h0M443.6 449.1h0M437.1 456.0h0M446.5 453.3h0M441.0 454.2h0M438.4 456.3h0M438.9 452.5h0M436.2 450.9h0M441.9 456.7h0M445.8 449.3h0M442.6 453.3h0M437.6 454.9h0M441.4 454.7h0M442.4 455.4h0M436.9 455.7h0M444.4 452.4h0M442.6 453.6h0M444.5 445.2h0M440.3 455.1h0M441.6 454.7h0M443.9 455.4h0M438.5 452.9h0M438.5 453.6h0M440.9 454.1h0M442.2 453.0h0M449.4 451.3h0M438.6 456.2h0M441.6 455.0h0M442.9 453.6h0M444.1 453.8h0M442.4 448.2h0M445.9 453.4h0M437.9 446.8h0M445.4 452.4h0M438.3 455.5h0M444.4 455.0h0M442.4 452.5h0M442.6 455.6h0M438.7 454.0h0M437.7 450.4h0M443.1 450.7h0M442.3 454.1h0M449.2 451.0h0M443.0 453.7h0M440.9 453.8h0M434.1 450.5h0M444.6 453.2h0M443.1 452.9h0M442.8 449.6h0M443.1 447.8h0M439.6 452.8h0M440.7 454.5h0M439.6 451.9h0M440.9 456.6h0M449.2 454.4h0M443.4 451.8h0M439.9 456.3h0M445.4 452.0h0M434.8 447.5h0M442.5 456.2h0M442.1 453.7h0M440.7 454.2h0M434.6 451.9h0M435.5 449.2h0M443.2 455.7h0M441.8 450.9h0M438.6 455.6h0M437.7 456.3h0M441.4 450.6h0M439.0 453.9h0M434.4 452.0h0M445.0 453.3h0M449.1 447.9h0M441.5 449.0h0M443.7 456.5h0M439.8 452.6h0M444.6 451.0h0M438.7 456.1h0M443.3 454.1h0M436.5 453.9h0M442.1 454.5h0M439.2 451.6h0M444.9 451.7h0M441.2 451.1h0M449.5 449.1h0M442.8 455.1h0M441.9 454.9h0M442.1 456.6h0M434.4 444.9h0M442.1 455.4h0M438.3 452.8h0M436.5 455.2h0M439.9 449.7h0M439.5 453.0h0M432.6 447.0h0M442.6 448.2h0M436.5 455.0h0M439.5 456.5h0M442.9 453.8h0M435.6 448.4h0M438.0 455.7h0M443.1 456.2h0M435.8 441.4h0M435.2 451.3h0M440.3 453.1h0M443.1 451.2h0M441.6 455.5h0M439.4 454.4h0M440.4 455.9h0M444.4 447.9h0M442.3 455.4h0M446.7 454.5h0M438.4 456.5h0M441.4 455.0h0M443.6 451.3h0M442.2 451.7h0M435.1 445.4h0M438.7 454.2h0M439.4 454.3h0M435.7 452.5h0M446.6 448.6h0M443.1 455.3h0M449.7 451.9h0M442.8 449.7h0M445.9 454.2h0M438.8 456.4h0M438.3 453.0h0M438.9 455.4h0M438.7 452.4h0M442.3 455.5h0M443.5 454.6h0M439.1 451.9h0M440.8 455.6h0M439.6 453.6h0M441.1 450.6h0M437.8 452.1h0M442.7 454.6h0M451.0 450.2h0M440.4 447.0h0M444.3 455.7h0M439.1 448.1h0M447.4 453.2h0M431.6 447.2h0M444.7 454.7h0M439.9 449.1h0M445.9 446.0h0M443.2 448.6h0M443.7 449.8h0M445.3 453.2h0M435.8 449.5h0M449.5 449.6h0M444.0 454.2h0M443.1 456.2h0M435.8 451.0h0M441.3 454.2h0M443.3 450.7h0M443.0 454.4h0M444.7 455.5h0M446.6 450.1h0M434.3 452.5h0M441.3 451.7h0M443.4 446.7h0M435.6 454.2h0M441.1 453.3h0M443.2 453.4h0M446.0 453.4h0M441.1 456.0h0M437.7 456.6h0M439.6 445.7h0M438.1 454.7h0M437.6 449.4h0M440.2 456.3h0M437.9 454.6h0M438.4 451.1h0M439.0 456.2h0M429.7 446.5h0M444.9 455.0h0M439.3 443.6h0M439.3 452.3h0M441.7 448.4h0M440.3 455.9h0M441.1 454.8h0M437.7 455.3h0M438.8 449.7h0M437.6 440.0h0M437.2 443.7h0M443.0 454.5h0M441.3 453.3h0M441.7 452.6h0M442.7 456.1h0M445.5 451.0h0M445.1 455.5h0M440.4 455.0h0M449.3 448.9h0M437.5 453.2h0M440.5 450.6h0M439.3 455.9h0M447.6 454.1h0M440.2 454.6h0M445.0 456.6h0M440.9 448.7h0M443.3 451.7h0M445.3 451.8h0M440.4 455.2h0M438.8 451.5h0M444.3 455.4h0M444.8 450.2h0M441.4 455.6h0M445.4 454.1h0M437.2 449.7h0M440.8 453.4h0M441.8 452.9h0M444.9 451.1h0M446.0 453.2h0M441.5 455.0h0M438.8 451.1h0M446.3 454.6h0M445.8 453.0h0M435.1 450.2h0M439.3 450.8h0M446.7 454.3h0M442.6 452.5h0M442.8 456.6h0M444.0 452.7h0M437.8 455.3h0M441.9 452.5h0M439.9 452.6h0M441.3 451.2h0M440.1 452.3h0M444.5 448.7h0M439.0 445.9h0M442.0 452.6h0M441.6 454.6h0M439.9 455.0h0M436.8 453.0h0M434.9 450.4h0M442.2 446.3h0M436.3 449.2h0M449.4 455.2h0M440.4 455.8h0M442.6 450.8h0M443.8 447.1h0M442.2 456.1h0M444.8 456.6h0M386.5 449.9h0M386.5 445.9h0M386.5 439.7h0M386.5 428.5h0M386.5 425.7h0M386.5 422.3h0M386.5 437.7h0M386.5 453.6h0M386.5 446.6h0M386.5 448.9h0M386.5 423.8h0M386.5 449.0h0M386.5 437.9h0M386.5 432.1h0M386.5 436.5h0M386.5 447.3h0M386.5 418.8h0M386.5 450.8h0M386.5 451.4h0M386.5 441.5h0M386.5 427.3h0M386.5 419.9h0M386.5 418.3h0M386.5 442.5h0M386.5 420.4h0M386.5 452.3h0M386.5 430.3h0M386.5 431.3h0M386.5 422.5h0M386.5 418.7h0M386.5 449.1h0M386.5 434.6h0M386.5 446.3h0M386.5 433.0h0M386.5 432.9h0M386.5 425.0h0M386.5 438.4h0M386.5 429.2h0M386.5 426.4h0M386.5 439.8h0M386.5 432.4h0M386.5 453.7h0M386.5 428.8h0M386.5 430.9h0M386.5 425.9h0M496.5 450.0h0M496.5 449.4h0M496.5 427.3h0M496.5 421.4h0M496.5 439.9h0M496.5 426.4h0M496.5 450.3h0M496.5 418.5h0M496.5 431.0h0M496.5 442.8h0M496.5 430.2h0M496.5 447.4h0M496.5 441.4h0M496.5 453.8h0M496.5 436.7h0M496.5 453.4h0M496.5 454.8h0M496.5 444.7h0M496.5 425.5h0M496.5 433.5h0M496.5 446.5h0M496.5 439.4h0M496.5 449.5h0M496.5 438.1h0M496.5 445.3h0M496.5 420.3h0M496.5 450.6h0M496.5 432.2h0M496.5 449.8h0M496.5 434.5h0M496.5 431.2h0M496.5 452.7h0M496.5 446.9h0M496.5 453.2h0M496.5 447.7h0M496.5 436.3h0M496.5 426.1h0M496.5 432.6h0M496.5 423.9h0M496.5 428.3h0M496.5 432.2h0M496.5 429.8h0M496.5 423.7h0M496.5 428.8h0M496.5 429.8h0" stroke="#cdd6e2" stroke-width="1.3" stroke-linecap="round" fill="none"/>
<path d="M438.7 406.9h0M438.8 424.4h0M438.5 424.4h0M439.9 413.2h0M432.4 420.9h0M438.2 413.8h0M438.4 434.4h0M427.0 418.9h0M426.8 418.1h0M439.1 416.1h0M432.1 422.6h0M436.8 419.2h0M438.0 435.2h0M428.8 430.7h0M437.8 406.9h0M437.3 414.1h0M439.9 421.7h0M438.4 420.3h0M436.3 424.9h0M418.7 402.4h0M386.5 438.5h0M437.1 428.6h0M414.4 412.2h0M431.4 409.8h0M434.6 438.3h0M430.4 417.7h0M430.4 408.6h0M438.5 427.9h0M434.2 435.5h0M436.6 415.8h0M436.7 417.8h0M386.5 433.2h0M435.0 435.7h0M439.0 433.0h0M423.0 410.6h0M425.9 415.9h0M439.5 418.4h0M439.1 445.1h0M433.2 409.4h0M421.1 439.4h0M425.7 421.0h0M425.3 406.5h0M428.4 424.6h0M437.9 432.3h0M432.9 417.5h0M434.9 409.5h0M426.6 424.1h0M436.7 440.2h0M425.6 413.7h0M438.4 428.6h0M439.2 438.2h0M439.4 407.8h0M435.1 432.6h0M439.2 432.0h0M436.3 422.1h0M437.5 433.8h0M438.0 411.5h0M432.3 421.0h0M436.7 421.8h0M432.9 434.6h0M434.9 418.3h0M434.8 423.2h0M432.3 402.6h0M433.4 420.0h0M436.1 407.8h0M436.8 427.3h0M438.0 436.9h0M422.7 427.2h0M434.0 408.5h0M419.0 425.4h0M436.4 419.0h0M438.1 430.4h0M437.0 433.7h0M438.4 419.6h0M437.4 420.4h0M423.0 405.3h0M439.8 423.3h0M438.0 433.8h0M438.3 416.7h0M437.4 426.5h0M437.9 404.6h0M439.7 413.2h0M424.4 412.0h0M432.3 412.8h0M432.7 421.8h0M437.5 438.2h0M438.8 426.5h0M439.1 432.9h0M439.1 440.7h0M434.3 422.8h0M434.3 417.3h0M432.9 436.6h0M431.3 426.9h0M435.4 436.0h0M437.7 435.0h0M433.0 436.4h0M431.8 412.3h0M437.4 432.3h0M438.5 413.7h0M438.7 424.6h0M425.0 408.4h0M434.1 422.4h0M438.2 427.2h0M434.1 408.8h0M420.4 427.9h0M439.2 443.8h0M414.2 427.9h0M432.5 418.2h0M435.8 440.3h0M433.3 426.2h0M439.0 425.1h0M436.8 443.9h0" stroke="#3a7bbd" stroke-width="1.5" stroke-linecap="round" fill="none"/>
<path d="M430.7 427.5h0M437.7 410.6h0M438.4 444.1h0M438.1 413.1h0M432.0 432.6h0M436.6 422.7h0M438.9 444.1h0M433.3 414.7h0M438.9 435.7h0M438.4 434.0h0M435.5 430.0h0M435.9 408.9h0M410.6 431.1h0M439.1 436.3h0M439.9 432.7h0" stroke="#3a7bbd" stroke-width="2.2" stroke-linecap="round" fill="none"/>
<path d="M451.8 423.1h0M450.3 429.9h0M456.5 410.6h0M449.9 434.6h0M443.5 434.9h0M450.6 424.1h0M445.7 407.5h0M454.1 424.4h0M454.3 412.0h0M455.9 417.7h0M459.6 413.5h0M445.6 437.3h0M453.8 422.6h0M446.6 417.4h0M458.0 416.9h0M444.0 432.2h0M455.8 419.8h0M448.6 431.3h0M446.3 434.5h0M453.3 422.8h0M451.1 416.6h0M449.4 424.1h0M448.5 412.3h0M451.4 406.7h0M452.1 408.2h0M444.2 438.8h0M462.4 414.0h0M446.5 433.2h0M443.9 422.4h0M452.2 413.8h0M456.6 416.6h0M448.8 436.6h0M458.2 413.0h0M447.4 435.6h0M448.2 429.9h0M444.5 426.7h0M456.6 406.1h0M457.9 407.8h0M444.8 429.0h0M446.6 414.8h0M445.1 404.8h0M446.3 406.7h0M444.7 410.4h0M444.9 435.4h0M461.9 412.1h0M449.1 425.0h0M444.5 429.7h0M463.0 431.3h0M459.7 406.5h0M456.8 416.7h0M460.9 410.7h0M454.0 421.5h0M451.5 430.2h0M449.5 425.6h0M446.6 425.4h0M464.0 406.9h0M449.7 408.3h0M460.9 411.7h0M476.3 422.6h0M462.3 412.2h0M445.6 435.4h0M459.2 409.2h0M450.0 426.9h0M459.7 414.1h0M444.6 431.1h0M447.9 427.2h0M452.7 408.6h0M455.9 414.8h0M453.2 414.2h0M446.4 431.5h0M458.7 418.4h0M446.4 422.4h0M448.8 428.1h0M453.3 421.3h0M445.1 412.8h0M449.9 423.9h0M446.7 417.7h0M447.4 423.2h0M446.9 405.8h0M461.2 415.0h0M447.5 411.5h0M452.1 425.7h0M447.7 423.1h0M446.7 423.2h0M447.1 427.0h0M457.6 417.6h0M459.4 404.9h0M447.0 433.6h0M450.8 430.7h0M446.6 426.0h0M452.7 425.8h0M444.4 438.2h0M446.4 406.4h0M451.2 409.8h0M449.5 428.8h0M457.6 415.2h0M446.8 421.7h0M453.6 421.0h0M458.8 415.9h0M451.8 434.2h0M457.9 417.6h0M458.8 404.8h0M452.9 415.6h0M458.5 408.3h0M443.3 409.3h0M450.3 412.7h0M447.6 412.5h0M449.5 409.8h0M449.1 407.4h0M453.7 420.9h0M474.4 426.8h0M456.5 407.2h0M456.0 418.2h0M456.8 407.7h0M454.3 425.8h0M453.0 408.4h0M459.8 413.2h0" stroke="#f04a36" stroke-width="1.5" stroke-linecap="round" fill="none"/>
<path d="M449.1 420.9h0M448.0 426.5h0M458.0 411.2h0M461.2 428.6h0M473.0 428.5h0M454.7 408.4h0M453.4 422.9h0M460.7 409.7h0M460.8 419.4h0M452.9 407.7h0M451.9 410.6h0M461.0 417.9h0M445.6 411.8h0M450.2 412.2h0M445.0 419.7h0M444.8 426.5h0M457.5 415.3h0M460.4 414.7h0M448.1 420.4h0M457.2 406.2h0M458.8 408.6h0M448.0 414.7h0M445.3 425.1h0M461.1 415.1h0" stroke="#f04a36" stroke-width="2.2" stroke-linecap="round" fill="none"/>
<line x1="382.2" y1="448.2" x2="500.6" y2="448.2" stroke="#333" stroke-width="0.6" stroke-dasharray="1.5 1.6"/>
<text x="497.0" y="453.2" font-size="5.3" text-anchor="end"><tspan font-style="italic">P</tspan>=value=0.05</text>
<rect x="382.2" y="343.7" width="118.4" height="118.8" fill="none" stroke="#707070" stroke-width="0.85"/>
<line x1="396.8" y1="462.5" x2="396.8" y2="463.7" stroke="#555" stroke-width="0.5"/>
<text x="396.8" y="468.4" font-size="5.0" text-anchor="middle">−10</text>
<line x1="419.1" y1="462.5" x2="419.1" y2="463.7" stroke="#555" stroke-width="0.5"/>
<text x="419.1" y="468.4" font-size="5.0" text-anchor="middle">−5</text>
<line x1="441.5" y1="462.5" x2="441.5" y2="463.7" stroke="#555" stroke-width="0.5"/>
<text x="441.5" y="468.4" font-size="5.0" text-anchor="middle">0</text>
<line x1="463.9" y1="462.5" x2="463.9" y2="463.7" stroke="#555" stroke-width="0.5"/>
<text x="463.9" y="468.4" font-size="5.0" text-anchor="middle">5</text>
<line x1="486.2" y1="462.5" x2="486.2" y2="463.7" stroke="#555" stroke-width="0.5"/>
<text x="486.2" y="468.4" font-size="5.0" text-anchor="middle">10</text>
<line x1="381.0" y1="456.7" x2="382.2" y2="456.7" stroke="#555" stroke-width="0.5"/>
<text x="379.9" y="458.4" font-size="5.0" text-anchor="end">0</text>
<line x1="381.0" y1="423.0" x2="382.2" y2="423.0" stroke="#555" stroke-width="0.5"/>
<text x="379.9" y="424.7" font-size="5.0" text-anchor="end">5</text>
<line x1="381.0" y1="389.4" x2="382.2" y2="389.4" stroke="#555" stroke-width="0.5"/>
<text x="379.9" y="391.1" font-size="5.0" text-anchor="end">10</text>
<line x1="381.0" y1="355.8" x2="382.2" y2="355.8" stroke="#555" stroke-width="0.5"/>
<text x="379.9" y="357.4" font-size="5.0" text-anchor="end">15</text>
<text x="441.2" y="475.3" font-size="5.1" text-anchor="middle">log2(FC)</text>
<text transform="translate(374.7,400.0) rotate(-90)" font-size="5.2" text-anchor="middle">−log10(<tspan font-style="italic">P</tspan>=value)</text>
<text x="388.1" y="353.8" font-size="5.1">Sig : 127</text>
<text x="388.1" y="360.7" font-size="5.1">VIP &gt; 1</text>
<text x="388.1" y="367.5" font-size="5.1"><tspan font-style="italic">P</tspan> &lt; 0.05</text>
<text x="388.1" y="374.4" font-size="5.1">log2(FC) &lt; 0</text>
<text x="388.1" y="381.2" font-size="5.1">Down</text>
<text x="494.4" y="353.8" font-size="5.05" text-anchor="end">Sig : 141</text>
<text x="494.4" y="360.7" font-size="5.05" text-anchor="end">VIP &gt; 1</text>
<text x="494.4" y="367.5" font-size="5.05" text-anchor="end"><tspan font-style="italic">P</tspan> &lt; 0.05</text>
<text x="494.4" y="374.4" font-size="5.05" text-anchor="end">log2(FC) &gt; 0</text>
<text x="494.4" y="381.2" font-size="5.05" text-anchor="end">Up</text>
<text x="509.5" y="376.8" font-size="4.45" text-anchor="middle">VIP</text>
<circle cx="509.1" cy="382.2" r="0.6" fill="#111"/>
<text x="514.5" y="383.7" font-size="4.45">1</text>
<circle cx="509.1" cy="390.3" r="0.9" fill="#111"/>
<text x="514.5" y="391.8" font-size="4.45">9</text>
<circle cx="509.1" cy="398.6" r="1.2" fill="#111"/>
<text x="514.5" y="400.1" font-size="4.45">17</text>
<circle cx="509.1" cy="407.6" r="1.45" fill="#111"/>
<text x="514.5" y="409.1" font-size="4.45">25</text>
<circle cx="509.1" cy="416" r="0.75" fill="#3a7bbd"/>
<text x="514.5" y="417.5" font-size="4.45">Significant Down</text>
<circle cx="509.1" cy="424.3" r="0.75" fill="#cfd8e3"/>
<text x="514.5" y="425.8" font-size="4.45">Non-significant</text>
<circle cx="509.1" cy="432.4" r="0.75" fill="#f04a36"/>
<text x="514.5" y="433.9" font-size="4.45">Significant Up</text>
</g></svg></body></html>
